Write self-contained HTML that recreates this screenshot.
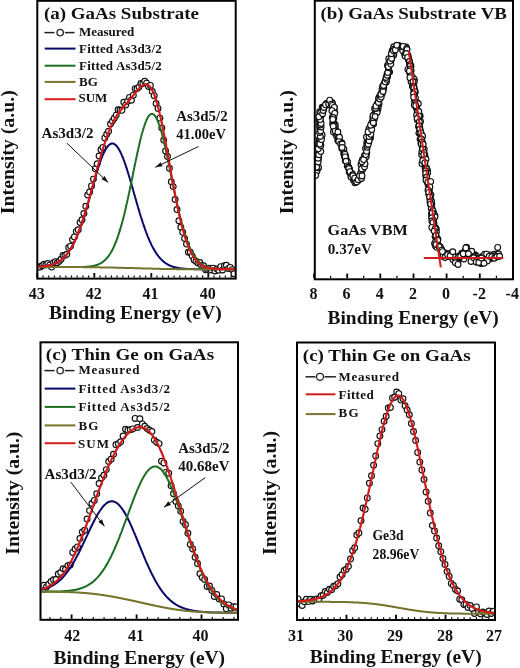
<!DOCTYPE html>
<html><head><meta charset="utf-8"><title>XPS</title><style>html,body{margin:0;padding:0;background:#fff;}body{width:520px;height:668px;overflow:hidden;}svg{display:block;}</style></head><body>
<svg width="520" height="668" viewBox="0 0 520 668">
<rect width="520" height="668" fill="#fff"/>
<g font-family="'Liberation Serif', 'Times New Roman', serif" font-weight="bold" fill="#111">
<clipPath id="ca"><rect x="38" y="1" width="197" height="277"/></clipPath>
<g clip-path="url(#ca)">
<g fill="#fff" stroke="#111" stroke-width="1.15"><circle cx="38.3" cy="266.7" r="2.9"/><circle cx="40.2" cy="267.1" r="2.9"/><circle cx="42.1" cy="265.8" r="2.9"/><circle cx="44.0" cy="264.3" r="2.9"/><circle cx="45.9" cy="264.9" r="2.9"/><circle cx="47.8" cy="263.5" r="2.9"/><circle cx="49.7" cy="265.1" r="2.9"/><circle cx="51.6" cy="267.1" r="2.9"/><circle cx="53.5" cy="262.8" r="2.9"/><circle cx="55.4" cy="261.6" r="2.9"/><circle cx="57.3" cy="262.8" r="2.9"/><circle cx="59.2" cy="261.3" r="2.9"/><circle cx="61.1" cy="259.3" r="2.9"/><circle cx="63.0" cy="255.5" r="2.9"/><circle cx="64.9" cy="255.3" r="2.9"/><circle cx="66.8" cy="254.3" r="2.9"/><circle cx="68.7" cy="247.5" r="2.9"/><circle cx="70.6" cy="246.1" r="2.9"/><circle cx="72.5" cy="239.7" r="2.9"/><circle cx="74.4" cy="236.9" r="2.9"/><circle cx="76.3" cy="231.4" r="2.9"/><circle cx="78.2" cy="229.8" r="2.9"/><circle cx="80.1" cy="222.4" r="2.9"/><circle cx="82.0" cy="219.8" r="2.9"/><circle cx="83.9" cy="213.5" r="2.9"/><circle cx="85.8" cy="206.3" r="2.9"/><circle cx="87.7" cy="195.0" r="2.9"/><circle cx="89.6" cy="192.0" r="2.9"/><circle cx="91.5" cy="185.9" r="2.9"/><circle cx="93.4" cy="179.1" r="2.9"/><circle cx="95.3" cy="168.7" r="2.9"/><circle cx="97.2" cy="163.8" r="2.9"/><circle cx="99.1" cy="156.0" r="2.9"/><circle cx="101.0" cy="149.8" r="2.9"/><circle cx="102.9" cy="147.4" r="2.9"/><circle cx="104.8" cy="137.9" r="2.9"/><circle cx="106.7" cy="134.2" r="2.9"/><circle cx="108.6" cy="131.2" r="2.9"/><circle cx="110.5" cy="124.0" r="2.9"/><circle cx="112.4" cy="121.1" r="2.9"/><circle cx="114.3" cy="118.2" r="2.9"/><circle cx="116.2" cy="115.1" r="2.9"/><circle cx="118.1" cy="109.8" r="2.9"/><circle cx="120.0" cy="110.0" r="2.9"/><circle cx="121.9" cy="110.3" r="2.9"/><circle cx="123.8" cy="102.3" r="2.9"/><circle cx="125.7" cy="104.9" r="2.9"/><circle cx="127.6" cy="101.2" r="2.9"/><circle cx="129.5" cy="97.4" r="2.9"/><circle cx="131.4" cy="100.2" r="2.9"/><circle cx="133.3" cy="95.2" r="2.9"/><circle cx="135.2" cy="88.7" r="2.9"/><circle cx="137.1" cy="88.6" r="2.9"/><circle cx="139.0" cy="87.1" r="2.9"/><circle cx="140.9" cy="83.4" r="2.9"/><circle cx="142.8" cy="83.5" r="2.9"/><circle cx="144.7" cy="81.3" r="2.9"/><circle cx="146.6" cy="83.2" r="2.9"/><circle cx="148.5" cy="86.5" r="2.9"/><circle cx="150.4" cy="85.4" r="2.9"/><circle cx="152.3" cy="91.5" r="2.9"/><circle cx="154.2" cy="95.7" r="2.9"/><circle cx="156.1" cy="103.5" r="2.9"/><circle cx="158.0" cy="108.4" r="2.9"/><circle cx="159.9" cy="118.1" r="2.9"/><circle cx="161.8" cy="128.0" r="2.9"/><circle cx="163.7" cy="140.1" r="2.9"/><circle cx="165.6" cy="150.9" r="2.9"/><circle cx="167.5" cy="156.5" r="2.9"/><circle cx="169.4" cy="168.2" r="2.9"/><circle cx="171.3" cy="181.7" r="2.9"/><circle cx="173.2" cy="186.6" r="2.9"/><circle cx="175.1" cy="199.5" r="2.9"/><circle cx="177.0" cy="209.5" r="2.9"/><circle cx="178.9" cy="220.7" r="2.9"/><circle cx="180.8" cy="227.3" r="2.9"/><circle cx="182.7" cy="232.3" r="2.9"/><circle cx="184.6" cy="238.4" r="2.9"/><circle cx="186.5" cy="244.1" r="2.9"/><circle cx="188.4" cy="252.3" r="2.9"/><circle cx="190.3" cy="252.3" r="2.9"/><circle cx="192.2" cy="255.9" r="2.9"/><circle cx="194.1" cy="259.9" r="2.9"/><circle cx="196.0" cy="261.2" r="2.9"/><circle cx="197.9" cy="262.9" r="2.9"/><circle cx="199.8" cy="262.5" r="2.9"/><circle cx="201.7" cy="265.8" r="2.9"/><circle cx="203.6" cy="265.8" r="2.9"/><circle cx="205.5" cy="269.7" r="2.9"/><circle cx="207.4" cy="269.2" r="2.9"/><circle cx="209.3" cy="268.2" r="2.9"/><circle cx="211.2" cy="269.9" r="2.9"/><circle cx="213.1" cy="268.1" r="2.9"/><circle cx="215.0" cy="271.0" r="2.9"/><circle cx="216.9" cy="269.0" r="2.9"/><circle cx="218.8" cy="270.3" r="2.9"/><circle cx="220.7" cy="266.6" r="2.9"/><circle cx="222.6" cy="269.9" r="2.9"/><circle cx="224.5" cy="265.8" r="2.9"/><circle cx="226.4" cy="265.2" r="2.9"/><circle cx="228.3" cy="268.6" r="2.9"/><circle cx="230.2" cy="267.4" r="2.9"/><circle cx="232.1" cy="269.6" r="2.9"/><circle cx="234.0" cy="273.7" r="2.9"/></g>
<path d="M37.3,266.8 L37.5,266.8 L37.8,266.7 L38.0,266.7 L38.3,266.7 L38.5,266.7 L38.8,266.7 L39.0,266.7 L39.3,266.7 L39.5,266.6 L39.8,266.6 L40.0,266.6 L40.3,266.6 L40.5,266.6 L40.8,266.6 L41.0,266.5 L41.3,266.5 L41.5,266.5 L41.8,266.5 L42.0,266.5 L42.3,266.4 L42.5,266.4 L42.8,266.4 L43.0,266.4 L43.3,266.3 L43.5,266.3 L43.8,266.3 L44.0,266.3 L44.3,266.2 L44.5,266.2 L44.7,266.2 L45.0,266.1 L45.2,266.1 L45.5,266.1 L45.7,266.0 L46.0,266.0 L46.2,266.0 L46.5,265.9 L46.7,265.9 L47.0,265.8 L47.2,265.8 L47.5,265.7 L47.7,265.7 L48.0,265.7 L48.2,265.6 L48.5,265.6 L48.7,265.5 L49.0,265.4 L49.2,265.4 L49.5,265.3 L49.7,265.3 L50.0,265.2 L50.2,265.2 L50.5,265.1 L50.7,265.0 L51.0,265.0 L51.2,264.9 L51.5,264.8 L51.7,264.8 L52.0,264.7 L52.2,264.6 L52.4,264.5 L52.7,264.4 L52.9,264.4 L53.2,264.3 L53.4,264.2 L53.7,264.1 L53.9,264.0 L54.2,263.9 L54.4,263.8 L54.7,263.7 L54.9,263.6 L55.2,263.5 L55.4,263.4 L55.7,263.3 L55.9,263.2 L56.2,263.1 L56.4,262.9 L56.7,262.8 L56.9,262.7 L57.2,262.6 L57.4,262.4 L57.7,262.3 L57.9,262.1 L58.2,262.0 L58.4,261.9 L58.7,261.7 L58.9,261.5 L59.2,261.4 L59.4,261.2 L59.6,261.1 L59.9,260.9 L60.1,260.7 L60.4,260.5 L60.6,260.4 L60.9,260.2 L61.1,260.0 L61.4,259.8 L61.6,259.6 L61.9,259.4 L62.1,259.2 L62.4,259.0 L62.6,258.8 L62.9,258.5 L63.1,258.3 L63.4,258.1 L63.6,257.8 L63.9,257.6 L64.1,257.4 L64.4,257.1 L64.6,256.9 L64.9,256.6 L65.1,256.3 L65.4,256.1 L65.6,255.8 L65.9,255.5 L66.1,255.2 L66.4,254.9 L66.6,254.6 L66.8,254.3 L67.1,254.0 L67.3,253.7 L67.6,253.3 L67.8,253.0 L68.1,252.7 L68.3,252.3 L68.6,252.0 L68.8,251.6 L69.1,251.3 L69.3,250.9 L69.6,250.5 L69.8,250.1 L70.1,249.8 L70.3,249.4 L70.6,249.0 L70.8,248.6 L71.1,248.1 L71.3,247.7 L71.6,247.3 L71.8,246.9 L72.1,246.4 L72.3,246.0 L72.6,245.5 L72.8,245.0 L73.1,244.6 L73.3,244.1 L73.6,243.6 L73.8,243.1 L74.0,242.6 L74.3,242.1 L74.5,241.6 L74.8,241.1 L75.0,240.5 L75.3,240.0 L75.5,239.5 L75.8,238.9 L76.0,238.4 L76.3,237.8 L76.5,237.2 L76.8,236.6 L77.0,236.0 L77.3,235.5 L77.5,234.8 L77.8,234.2 L78.0,233.6 L78.3,233.0 L78.5,232.4 L78.8,231.7 L79.0,231.1 L79.3,230.4 L79.5,229.8 L79.8,229.1 L80.0,228.4 L80.3,227.7 L80.5,227.1 L80.8,226.4 L81.0,225.7 L81.3,224.9 L81.5,224.2 L81.7,223.5 L82.0,222.8 L82.2,222.0 L82.5,221.3 L82.7,220.5 L83.0,219.8 L83.2,219.0 L83.5,218.3 L83.7,217.5 L84.0,216.7 L84.2,215.9 L84.5,215.1 L84.7,214.3 L85.0,213.5 L85.2,212.7 L85.5,211.9 L85.7,211.1 L86.0,210.3 L86.2,209.5 L86.5,208.6 L86.7,207.8 L87.0,207.0 L87.2,206.1 L87.5,205.3 L87.7,204.4 L88.0,203.6 L88.2,202.7 L88.5,201.8 L88.7,201.0 L88.9,200.1 L89.2,199.2 L89.4,198.4 L89.7,197.5 L89.9,196.6 L90.2,195.7 L90.4,194.9 L90.7,194.0 L90.9,193.1 L91.2,192.2 L91.4,191.3 L91.7,190.5 L91.9,189.6 L92.2,188.7 L92.4,187.8 L92.7,186.9 L92.9,186.0 L93.2,185.1 L93.4,184.3 L93.7,183.4 L93.9,182.5 L94.2,181.6 L94.4,180.7 L94.7,179.9 L94.9,179.0 L95.2,178.1 L95.4,177.3 L95.7,176.4 L95.9,175.5 L96.1,174.7 L96.4,173.8 L96.6,173.0 L96.9,172.1 L97.1,171.3 L97.4,170.5 L97.6,169.7 L97.9,168.9 L98.1,168.0 L98.4,167.3 L98.6,166.5 L98.9,165.7 L99.1,164.9 L99.4,164.2 L99.6,163.4 L99.9,162.7 L100.1,162.0 L100.4,161.3 L100.6,160.6 L100.9,159.9 L101.1,159.2 L101.4,158.5 L101.6,157.9 L101.9,157.3 L102.1,156.6 L102.4,156.0 L102.6,155.4 L102.9,154.9 L103.1,154.3 L103.4,153.8 L103.6,153.2 L103.8,152.7 L104.1,152.2 L104.3,151.7 L104.6,151.2 L104.8,150.7 L105.1,150.3 L105.3,149.8 L105.6,149.4 L105.8,149.0 L106.1,148.6 L106.3,148.2 L106.6,147.8 L106.8,147.5 L107.1,147.1 L107.3,146.8 L107.6,146.5 L107.8,146.2 L108.1,145.9 L108.3,145.6 L108.6,145.4 L108.8,145.2 L109.1,144.9 L109.3,144.7 L109.6,144.5 L109.8,144.4 L110.1,144.2 L110.3,144.1 L110.6,144.0 L110.8,143.8 L111.0,143.8 L111.3,143.7 L111.5,143.6 L111.8,143.6 L112.0,143.6 L112.3,143.5 L112.5,143.6 L112.8,143.6 L113.0,143.6 L113.3,143.7 L113.5,143.7 L113.8,143.8 L114.0,143.9 L114.3,144.1 L114.5,144.2 L114.8,144.4 L115.0,144.5 L115.3,144.7 L115.5,144.9 L115.8,145.1 L116.0,145.4 L116.3,145.6 L116.5,145.9 L116.8,146.2 L117.0,146.5 L117.3,146.8 L117.5,147.1 L117.8,147.5 L118.0,147.8 L118.2,148.2 L118.5,148.6 L118.7,149.0 L119.0,149.4 L119.2,149.8 L119.5,150.3 L119.7,150.7 L120.0,151.2 L120.2,151.7 L120.5,152.2 L120.7,152.7 L121.0,153.2 L121.2,153.8 L121.5,154.3 L121.7,154.9 L122.0,155.5 L122.2,156.1 L122.5,156.7 L122.7,157.3 L123.0,157.9 L123.2,158.5 L123.5,159.2 L123.7,159.8 L124.0,160.5 L124.2,161.2 L124.5,161.9 L124.7,162.6 L125.0,163.3 L125.2,164.0 L125.5,164.7 L125.7,165.4 L125.9,166.2 L126.2,166.9 L126.4,167.7 L126.7,168.5 L126.9,169.2 L127.2,170.0 L127.4,170.8 L127.7,171.6 L127.9,172.4 L128.2,173.2 L128.4,174.0 L128.7,174.8 L128.9,175.6 L129.2,176.5 L129.4,177.3 L129.7,178.1 L129.9,179.0 L130.2,179.8 L130.4,180.7 L130.7,181.5 L130.9,182.4 L131.2,183.2 L131.4,184.1 L131.7,185.0 L131.9,185.8 L132.2,186.7 L132.4,187.6 L132.7,188.4 L132.9,189.3 L133.1,190.2 L133.4,191.1 L133.6,191.9 L133.9,192.8 L134.1,193.7 L134.4,194.6 L134.6,195.4 L134.9,196.3 L135.1,197.2 L135.4,198.1 L135.6,198.9 L135.9,199.8 L136.1,200.7 L136.4,201.5 L136.6,202.4 L136.9,203.3 L137.1,204.1 L137.4,205.0 L137.6,205.8 L137.9,206.7 L138.1,207.5 L138.4,208.4 L138.6,209.2 L138.9,210.0 L139.1,210.9 L139.4,211.7 L139.6,212.5 L139.9,213.3 L140.1,214.1 L140.3,215.0 L140.6,215.8 L140.8,216.6 L141.1,217.3 L141.3,218.1 L141.6,218.9 L141.8,219.7 L142.1,220.5 L142.3,221.2 L142.6,222.0 L142.8,222.8 L143.1,223.5 L143.3,224.2 L143.6,225.0 L143.8,225.7 L144.1,226.4 L144.3,227.2 L144.6,227.9 L144.8,228.6 L145.1,229.3 L145.3,230.0 L145.6,230.6 L145.8,231.3 L146.1,232.0 L146.3,232.6 L146.6,233.3 L146.8,233.9 L147.1,234.6 L147.3,235.2 L147.5,235.8 L147.8,236.5 L148.0,237.1 L148.3,237.7 L148.5,238.3 L148.8,238.9 L149.0,239.5 L149.3,240.0 L149.5,240.6 L149.8,241.2 L150.0,241.7 L150.3,242.3 L150.5,242.8 L150.8,243.3 L151.0,243.9 L151.3,244.4 L151.5,244.9 L151.8,245.4 L152.0,245.9 L152.3,246.4 L152.5,246.8 L152.8,247.3 L153.0,247.8 L153.3,248.2 L153.5,248.7 L153.8,249.1 L154.0,249.6 L154.3,250.0 L154.5,250.4 L154.8,250.8 L155.0,251.2 L155.2,251.7 L155.5,252.0 L155.7,252.4 L156.0,252.8 L156.2,253.2 L156.5,253.6 L156.7,253.9 L157.0,254.3 L157.2,254.6 L157.5,255.0 L157.7,255.3 L158.0,255.6 L158.2,256.0 L158.5,256.3 L158.7,256.6 L159.0,256.9 L159.2,257.2 L159.5,257.5 L159.7,257.8 L160.0,258.1 L160.2,258.4 L160.5,258.6 L160.7,258.9 L161.0,259.2 L161.2,259.4 L161.5,259.7 L161.7,259.9 L162.0,260.2 L162.2,260.4 L162.4,260.6 L162.7,260.8 L162.9,261.1 L163.2,261.3 L163.4,261.5 L163.7,261.7 L163.9,261.9 L164.2,262.1 L164.4,262.3 L164.7,262.5 L164.9,262.7 L165.2,262.8 L165.4,263.0 L165.7,263.2 L165.9,263.4 L166.2,263.5 L166.4,263.7 L166.7,263.8 L166.9,264.0 L167.2,264.1 L167.4,264.3 L167.7,264.4 L167.9,264.6 L168.2,264.7 L168.4,264.8 L168.7,265.0 L168.9,265.1 L169.2,265.2 L169.4,265.3 L169.6,265.5 L169.9,265.6 L170.1,265.7 L170.4,265.8 L170.6,265.9 L170.9,266.0 L171.1,266.1 L171.4,266.2 L171.6,266.3 L171.9,266.4 L172.1,266.5 L172.4,266.5 L172.6,266.6 L172.9,266.7 L173.1,266.8 L173.4,266.9 L173.6,266.9 L173.9,267.0 L174.1,267.1 L174.4,267.2 L174.6,267.2 L174.9,267.3 L175.1,267.4 L175.4,267.4 L175.6,267.5 L175.9,267.5 L176.1,267.6 L176.4,267.6 L176.6,267.7 L176.9,267.8 L177.1,267.8 L177.3,267.9 L177.6,267.9 L177.8,267.9 L178.1,268.0 L178.3,268.0 L178.6,268.1 L178.8,268.1 L179.1,268.2 L179.3,268.2 L179.6,268.2 L179.8,268.3 L180.1,268.3 L180.3,268.3 L180.6,268.4 L180.8,268.4 L181.1,268.4 L181.3,268.5 L181.6,268.5 L181.8,268.5 L182.1,268.5 L182.3,268.6 L182.6,268.6 L182.8,268.6 L183.1,268.6 L183.3,268.7 L183.6,268.7 L183.8,268.7 L184.1,268.7 L184.3,268.7 L184.5,268.8 L184.8,268.8 L185.0,268.8 L185.3,268.8 L185.5,268.8 L185.8,268.8 L186.0,268.9 L186.3,268.9 L186.5,268.9 L186.8,268.9 L187.0,268.9 L187.3,268.9 L187.5,268.9 L187.8,269.0 L188.0,269.0 L188.3,269.0 L188.5,269.0 L188.8,269.0 L189.0,269.0 L189.3,269.0 L189.5,269.0 L189.8,269.0 L190.0,269.0 L190.3,269.1 L190.5,269.1 L190.8,269.1 L191.0,269.1 L191.3,269.1 L191.5,269.1 L191.7,269.1 L192.0,269.1 L192.2,269.1 L192.5,269.1 L192.7,269.1 L193.0,269.1 L193.2,269.1 L193.5,269.1 L193.7,269.1 L194.0,269.1 L194.2,269.2 L194.5,269.2 L194.7,269.2 L195.0,269.2 L195.2,269.2 L195.5,269.2 L195.7,269.2 L196.0,269.2 L196.2,269.2 L196.5,269.2 L196.7,269.2 L197.0,269.2 L197.2,269.2 L197.5,269.2 L197.7,269.2 L198.0,269.2 L198.2,269.2 L198.5,269.2 L198.7,269.2 L199.0,269.2 L199.2,269.2 L199.4,269.2 L199.7,269.2 L199.9,269.2 L200.2,269.2 L200.4,269.2 L200.7,269.2 L200.9,269.2 L201.2,269.2 L201.4,269.2 L201.7,269.2 L201.9,269.2 L202.2,269.2 L202.4,269.2 L202.7,269.2 L202.9,269.2 L203.2,269.2 L203.4,269.2 L203.7,269.2 L203.9,269.2 L204.2,269.2 L204.4,269.2 L204.7,269.2 L204.9,269.2 L205.2,269.2 L205.4,269.2 L205.7,269.2 L205.9,269.2 L206.2,269.2 L206.4,269.2 L206.6,269.2 L206.9,269.2 L207.1,269.2 L207.4,269.2 L207.6,269.2 L207.9,269.2 L208.1,269.2 L208.4,269.2 L208.6,269.2 L208.9,269.3 L209.1,269.3 L209.4,269.3 L209.6,269.3 L209.9,269.3 L210.1,269.3 L210.4,269.3 L210.6,269.3 L210.9,269.3 L211.1,269.3 L211.4,269.3 L211.6,269.3 L211.9,269.3 L212.1,269.3 L212.4,269.3 L212.6,269.3 L212.9,269.3 L213.1,269.3 L213.4,269.3 L213.6,269.3 L213.8,269.3 L214.1,269.3 L214.3,269.3 L214.6,269.3 L214.8,269.3 L215.1,269.3 L215.3,269.3 L215.6,269.3 L215.8,269.3 L216.1,269.3 L216.3,269.3 L216.6,269.3 L216.8,269.3 L217.1,269.3 L217.3,269.3 L217.6,269.3 L217.8,269.3 L218.1,269.3 L218.3,269.3 L218.6,269.3 L218.8,269.3 L219.1,269.3 L219.3,269.3 L219.6,269.3 L219.8,269.3 L220.1,269.3 L220.3,269.3 L220.6,269.3 L220.8,269.3 L221.0,269.3 L221.3,269.3 L221.5,269.3 L221.8,269.3 L222.0,269.3 L222.3,269.3 L222.5,269.3 L222.8,269.3 L223.0,269.3 L223.3,269.3 L223.5,269.3 L223.8,269.3 L224.0,269.3 L224.3,269.3 L224.5,269.3 L224.8,269.3 L225.0,269.3 L225.3,269.3 L225.5,269.3 L225.8,269.3 L226.0,269.3 L226.3,269.3 L226.5,269.3 L226.8,269.3 L227.0,269.3 L227.3,269.3 L227.5,269.3 L227.8,269.3 L228.0,269.3 L228.3,269.3 L228.5,269.3 L228.7,269.3 L229.0,269.3 L229.2,269.3 L229.5,269.3 L229.7,269.3 L230.0,269.3 L230.2,269.3 L230.5,269.3 L230.7,269.3 L231.0,269.3 L231.2,269.3 L231.5,269.3 L231.7,269.3 L232.0,269.3 L232.2,269.3 L232.5,269.3 L232.7,269.3 L233.0,269.3 L233.2,269.3 L233.5,269.3 L233.7,269.3 L234.0,269.3 L234.2,269.3 L234.5,269.3 L234.7,269.3 L235.0,269.3 L235.2,269.3 L235.5,269.3 L235.7,269.3" stroke="#08086a" stroke-width="2" fill="none"/>
<path d="M37.3,267.1 L37.5,267.1 L37.8,267.1 L38.0,267.1 L38.3,267.1 L38.5,267.1 L38.8,267.1 L39.0,267.1 L39.3,267.1 L39.5,267.1 L39.8,267.1 L40.0,267.1 L40.3,267.1 L40.5,267.1 L40.8,267.1 L41.0,267.1 L41.3,267.1 L41.5,267.1 L41.8,267.1 L42.0,267.1 L42.3,267.1 L42.5,267.1 L42.8,267.1 L43.0,267.1 L43.3,267.1 L43.5,267.1 L43.8,267.1 L44.0,267.1 L44.3,267.1 L44.5,267.1 L44.7,267.1 L45.0,267.1 L45.2,267.1 L45.5,267.1 L45.7,267.1 L46.0,267.1 L46.2,267.1 L46.5,267.1 L46.7,267.1 L47.0,267.1 L47.2,267.1 L47.5,267.1 L47.7,267.1 L48.0,267.1 L48.2,267.1 L48.5,267.1 L48.7,267.1 L49.0,267.1 L49.2,267.1 L49.5,267.1 L49.7,267.1 L50.0,267.1 L50.2,267.1 L50.5,267.1 L50.7,267.1 L51.0,267.1 L51.2,267.1 L51.5,267.1 L51.7,267.1 L52.0,267.1 L52.2,267.1 L52.4,267.1 L52.7,267.1 L52.9,267.1 L53.2,267.1 L53.4,267.1 L53.7,267.1 L53.9,267.1 L54.2,267.1 L54.4,267.1 L54.7,267.1 L54.9,267.1 L55.2,267.1 L55.4,267.1 L55.7,267.1 L55.9,267.1 L56.2,267.1 L56.4,267.1 L56.7,267.1 L56.9,267.1 L57.2,267.1 L57.4,267.1 L57.7,267.1 L57.9,267.1 L58.2,267.1 L58.4,267.1 L58.7,267.1 L58.9,267.1 L59.2,267.1 L59.4,267.1 L59.6,267.1 L59.9,267.1 L60.1,267.1 L60.4,267.1 L60.6,267.1 L60.9,267.1 L61.1,267.1 L61.4,267.1 L61.6,267.1 L61.9,267.1 L62.1,267.1 L62.4,267.1 L62.6,267.1 L62.9,267.1 L63.1,267.1 L63.4,267.1 L63.6,267.1 L63.9,267.1 L64.1,267.1 L64.4,267.1 L64.6,267.1 L64.9,267.1 L65.1,267.1 L65.4,267.1 L65.6,267.1 L65.9,267.1 L66.1,267.1 L66.4,267.1 L66.6,267.1 L66.8,267.1 L67.1,267.1 L67.3,267.1 L67.6,267.1 L67.8,267.1 L68.1,267.1 L68.3,267.1 L68.6,267.1 L68.8,267.1 L69.1,267.1 L69.3,267.1 L69.6,267.1 L69.8,267.1 L70.1,267.1 L70.3,267.1 L70.6,267.1 L70.8,267.1 L71.1,267.1 L71.3,267.1 L71.6,267.1 L71.8,267.1 L72.1,267.1 L72.3,267.1 L72.6,267.1 L72.8,267.1 L73.1,267.1 L73.3,267.1 L73.6,267.1 L73.8,267.1 L74.0,267.1 L74.3,267.1 L74.5,267.1 L74.8,267.1 L75.0,267.1 L75.3,267.1 L75.5,267.1 L75.8,267.1 L76.0,267.1 L76.3,267.0 L76.5,267.0 L76.8,267.0 L77.0,267.0 L77.3,267.0 L77.5,267.0 L77.8,267.0 L78.0,267.0 L78.3,267.0 L78.5,267.0 L78.8,267.0 L79.0,267.0 L79.3,267.0 L79.5,267.0 L79.8,267.0 L80.0,267.0 L80.3,267.0 L80.5,267.0 L80.8,267.0 L81.0,267.0 L81.3,267.0 L81.5,267.0 L81.7,267.0 L82.0,267.0 L82.2,267.0 L82.5,266.9 L82.7,266.9 L83.0,266.9 L83.2,266.9 L83.5,266.9 L83.7,266.9 L84.0,266.9 L84.2,266.9 L84.5,266.9 L84.7,266.9 L85.0,266.8 L85.2,266.8 L85.5,266.8 L85.7,266.8 L86.0,266.8 L86.2,266.8 L86.5,266.8 L86.7,266.7 L87.0,266.7 L87.2,266.7 L87.5,266.7 L87.7,266.7 L88.0,266.6 L88.2,266.6 L88.5,266.6 L88.7,266.6 L88.9,266.5 L89.2,266.5 L89.4,266.5 L89.7,266.5 L89.9,266.4 L90.2,266.4 L90.4,266.4 L90.7,266.3 L90.9,266.3 L91.2,266.3 L91.4,266.2 L91.7,266.2 L91.9,266.2 L92.2,266.1 L92.4,266.1 L92.7,266.0 L92.9,266.0 L93.2,265.9 L93.4,265.9 L93.7,265.8 L93.9,265.8 L94.2,265.7 L94.4,265.7 L94.7,265.6 L94.9,265.5 L95.2,265.5 L95.4,265.4 L95.7,265.3 L95.9,265.3 L96.1,265.2 L96.4,265.1 L96.6,265.0 L96.9,264.9 L97.1,264.8 L97.4,264.8 L97.6,264.7 L97.9,264.6 L98.1,264.5 L98.4,264.4 L98.6,264.3 L98.9,264.2 L99.1,264.0 L99.4,263.9 L99.6,263.8 L99.9,263.7 L100.1,263.5 L100.4,263.4 L100.6,263.3 L100.9,263.1 L101.1,263.0 L101.4,262.8 L101.6,262.7 L101.9,262.5 L102.1,262.4 L102.4,262.2 L102.6,262.0 L102.9,261.8 L103.1,261.7 L103.4,261.5 L103.6,261.3 L103.8,261.1 L104.1,260.9 L104.3,260.6 L104.6,260.4 L104.8,260.2 L105.1,260.0 L105.3,259.7 L105.6,259.5 L105.8,259.2 L106.1,259.0 L106.3,258.7 L106.6,258.4 L106.8,258.2 L107.1,257.9 L107.3,257.6 L107.6,257.3 L107.8,257.0 L108.1,256.7 L108.3,256.3 L108.6,256.0 L108.8,255.7 L109.1,255.3 L109.3,254.9 L109.6,254.6 L109.8,254.2 L110.1,253.8 L110.3,253.4 L110.6,253.0 L110.8,252.6 L111.0,252.2 L111.3,251.8 L111.5,251.3 L111.8,250.9 L112.0,250.4 L112.3,250.0 L112.5,249.5 L112.8,249.0 L113.0,248.5 L113.3,248.0 L113.5,247.5 L113.8,246.9 L114.0,246.4 L114.3,245.8 L114.5,245.3 L114.8,244.7 L115.0,244.1 L115.3,243.5 L115.5,242.9 L115.8,242.3 L116.0,241.7 L116.3,241.0 L116.5,240.4 L116.8,239.7 L117.0,239.0 L117.3,238.4 L117.5,237.7 L117.8,237.0 L118.0,236.2 L118.2,235.5 L118.5,234.8 L118.7,234.0 L119.0,233.2 L119.2,232.5 L119.5,231.7 L119.7,230.9 L120.0,230.1 L120.2,229.2 L120.5,228.4 L120.7,227.5 L121.0,226.7 L121.2,225.8 L121.5,224.9 L121.7,224.0 L122.0,223.1 L122.2,222.2 L122.5,221.3 L122.7,220.3 L123.0,219.4 L123.2,218.4 L123.5,217.5 L123.7,216.5 L124.0,215.5 L124.2,214.5 L124.5,213.5 L124.7,212.4 L125.0,211.4 L125.2,210.4 L125.5,209.3 L125.7,208.3 L125.9,207.2 L126.2,206.1 L126.4,205.0 L126.7,203.9 L126.9,202.8 L127.2,201.7 L127.4,200.6 L127.7,199.4 L127.9,198.3 L128.2,197.2 L128.4,196.0 L128.7,194.9 L128.9,193.7 L129.2,192.5 L129.4,191.4 L129.7,190.2 L129.9,189.0 L130.2,187.8 L130.4,186.6 L130.7,185.4 L130.9,184.2 L131.2,183.0 L131.4,181.8 L131.7,180.6 L131.9,179.4 L132.2,178.2 L132.4,177.0 L132.7,175.7 L132.9,174.5 L133.1,173.3 L133.4,172.1 L133.6,170.9 L133.9,169.7 L134.1,168.5 L134.4,167.2 L134.6,166.0 L134.9,164.8 L135.1,163.6 L135.4,162.4 L135.6,161.2 L135.9,160.1 L136.1,158.9 L136.4,157.7 L136.6,156.5 L136.9,155.4 L137.1,154.2 L137.4,153.1 L137.6,151.9 L137.9,150.8 L138.1,149.7 L138.4,148.5 L138.6,147.4 L138.9,146.3 L139.1,145.3 L139.4,144.2 L139.6,143.1 L139.9,142.1 L140.1,141.0 L140.3,140.0 L140.6,139.0 L140.8,138.0 L141.1,137.0 L141.3,136.1 L141.6,135.1 L141.8,134.2 L142.1,133.3 L142.3,132.4 L142.6,131.5 L142.8,130.6 L143.1,129.8 L143.3,128.9 L143.6,128.1 L143.8,127.3 L144.1,126.6 L144.3,125.8 L144.6,125.1 L144.8,124.4 L145.1,123.7 L145.3,123.0 L145.6,122.4 L145.8,121.7 L146.1,121.1 L146.3,120.6 L146.6,120.0 L146.8,119.5 L147.1,119.0 L147.3,118.5 L147.5,118.0 L147.8,117.6 L148.0,117.1 L148.3,116.8 L148.5,116.4 L148.8,116.0 L149.0,115.7 L149.3,115.4 L149.5,115.2 L149.8,114.9 L150.0,114.7 L150.3,114.5 L150.5,114.4 L150.8,114.2 L151.0,114.1 L151.3,114.0 L151.5,114.0 L151.8,114.0 L152.0,113.9 L152.3,114.0 L152.5,114.0 L152.8,114.1 L153.0,114.2 L153.3,114.3 L153.5,114.5 L153.8,114.6 L154.0,114.8 L154.3,115.1 L154.5,115.3 L154.8,115.6 L155.0,115.9 L155.2,116.2 L155.5,116.6 L155.7,117.0 L156.0,117.4 L156.2,117.8 L156.5,118.3 L156.7,118.8 L157.0,119.3 L157.2,119.8 L157.5,120.3 L157.7,120.9 L158.0,121.5 L158.2,122.1 L158.5,122.8 L158.7,123.4 L159.0,124.1 L159.2,124.8 L159.5,125.5 L159.7,126.3 L160.0,127.1 L160.2,127.8 L160.5,128.6 L160.7,129.5 L161.0,130.3 L161.2,131.2 L161.5,132.1 L161.7,133.0 L162.0,133.9 L162.2,134.8 L162.4,135.7 L162.7,136.7 L162.9,137.7 L163.2,138.7 L163.4,139.7 L163.7,140.7 L163.9,141.7 L164.2,142.8 L164.4,143.9 L164.7,144.9 L164.9,146.0 L165.2,147.1 L165.4,148.2 L165.7,149.3 L165.9,150.5 L166.2,151.6 L166.4,152.7 L166.7,153.9 L166.9,155.1 L167.2,156.2 L167.4,157.4 L167.7,158.6 L167.9,159.8 L168.2,161.0 L168.4,162.2 L168.7,163.4 L168.9,164.6 L169.2,165.8 L169.4,167.0 L169.6,168.2 L169.9,169.4 L170.1,170.7 L170.4,171.9 L170.6,173.1 L170.9,174.3 L171.1,175.6 L171.4,176.8 L171.6,178.0 L171.9,179.2 L172.1,180.5 L172.4,181.7 L172.6,182.9 L172.9,184.1 L173.1,185.3 L173.4,186.5 L173.6,187.8 L173.9,189.0 L174.1,190.2 L174.4,191.3 L174.6,192.5 L174.9,193.7 L175.1,194.9 L175.4,196.1 L175.6,197.2 L175.9,198.4 L176.1,199.5 L176.4,200.7 L176.6,201.8 L176.9,203.0 L177.1,204.1 L177.3,205.2 L177.6,206.3 L177.8,207.4 L178.1,208.5 L178.3,209.6 L178.6,210.6 L178.8,211.7 L179.1,212.7 L179.3,213.8 L179.6,214.8 L179.8,215.8 L180.1,216.8 L180.3,217.8 L180.6,218.8 L180.8,219.8 L181.1,220.8 L181.3,221.7 L181.6,222.7 L181.8,223.6 L182.1,224.6 L182.3,225.5 L182.6,226.4 L182.8,227.3 L183.1,228.1 L183.3,229.0 L183.6,229.9 L183.8,230.7 L184.1,231.5 L184.3,232.4 L184.5,233.2 L184.8,234.0 L185.0,234.7 L185.3,235.5 L185.5,236.3 L185.8,237.0 L186.0,237.8 L186.3,238.5 L186.5,239.2 L186.8,239.9 L187.0,240.6 L187.3,241.3 L187.5,242.0 L187.8,242.6 L188.0,243.3 L188.3,243.9 L188.5,244.5 L188.8,245.1 L189.0,245.7 L189.3,246.3 L189.5,246.9 L189.8,247.5 L190.0,248.0 L190.3,248.6 L190.5,249.1 L190.8,249.6 L191.0,250.1 L191.3,250.6 L191.5,251.1 L191.7,251.6 L192.0,252.1 L192.2,252.6 L192.5,253.0 L192.7,253.5 L193.0,253.9 L193.2,254.3 L193.5,254.7 L193.7,255.1 L194.0,255.5 L194.2,255.9 L194.5,256.3 L194.7,256.7 L195.0,257.0 L195.2,257.4 L195.5,257.7 L195.7,258.1 L196.0,258.4 L196.2,258.7 L196.5,259.0 L196.7,259.4 L197.0,259.7 L197.2,259.9 L197.5,260.2 L197.7,260.5 L198.0,260.8 L198.2,261.0 L198.5,261.3 L198.7,261.5 L199.0,261.8 L199.2,262.0 L199.4,262.3 L199.7,262.5 L199.9,262.7 L200.2,262.9 L200.4,263.1 L200.7,263.3 L200.9,263.5 L201.2,263.7 L201.4,263.9 L201.7,264.1 L201.9,264.2 L202.2,264.4 L202.4,264.6 L202.7,264.7 L202.9,264.9 L203.2,265.0 L203.4,265.2 L203.7,265.3 L203.9,265.5 L204.2,265.6 L204.4,265.7 L204.7,265.8 L204.9,266.0 L205.2,266.1 L205.4,266.2 L205.7,266.3 L205.9,266.4 L206.2,266.5 L206.4,266.6 L206.6,266.7 L206.9,266.8 L207.1,266.9 L207.4,267.0 L207.6,267.1 L207.9,267.1 L208.1,267.2 L208.4,267.3 L208.6,267.4 L208.9,267.4 L209.1,267.5 L209.4,267.6 L209.6,267.6 L209.9,267.7 L210.1,267.8 L210.4,267.8 L210.6,267.9 L210.9,267.9 L211.1,268.0 L211.4,268.0 L211.6,268.1 L211.9,268.1 L212.1,268.2 L212.4,268.2 L212.6,268.3 L212.9,268.3 L213.1,268.3 L213.4,268.4 L213.6,268.4 L213.8,268.5 L214.1,268.5 L214.3,268.5 L214.6,268.5 L214.8,268.6 L215.1,268.6 L215.3,268.6 L215.6,268.7 L215.8,268.7 L216.1,268.7 L216.3,268.7 L216.6,268.8 L216.8,268.8 L217.1,268.8 L217.3,268.8 L217.6,268.8 L217.8,268.9 L218.1,268.9 L218.3,268.9 L218.6,268.9 L218.8,268.9 L219.1,268.9 L219.3,269.0 L219.6,269.0 L219.8,269.0 L220.1,269.0 L220.3,269.0 L220.6,269.0 L220.8,269.0 L221.0,269.0 L221.3,269.0 L221.5,269.1 L221.8,269.1 L222.0,269.1 L222.3,269.1 L222.5,269.1 L222.8,269.1 L223.0,269.1 L223.3,269.1 L223.5,269.1 L223.8,269.1 L224.0,269.1 L224.3,269.1 L224.5,269.1 L224.8,269.2 L225.0,269.2 L225.3,269.2 L225.5,269.2 L225.8,269.2 L226.0,269.2 L226.3,269.2 L226.5,269.2 L226.8,269.2 L227.0,269.2 L227.3,269.2 L227.5,269.2 L227.8,269.2 L228.0,269.2 L228.3,269.2 L228.5,269.2 L228.7,269.2 L229.0,269.2 L229.2,269.2 L229.5,269.2 L229.7,269.2 L230.0,269.2 L230.2,269.2 L230.5,269.2 L230.7,269.2 L231.0,269.2 L231.2,269.2 L231.5,269.2 L231.7,269.2 L232.0,269.2 L232.2,269.2 L232.5,269.2 L232.7,269.2 L233.0,269.2 L233.2,269.2 L233.5,269.2 L233.7,269.2 L234.0,269.2 L234.2,269.2 L234.5,269.2 L234.7,269.2 L235.0,269.2 L235.2,269.2 L235.5,269.2 L235.7,269.2" stroke="#1b6e22" stroke-width="2" fill="none"/>
<path d="M37.3,267.1 L37.5,267.1 L37.8,267.1 L38.0,267.1 L38.3,267.1 L38.5,267.1 L38.8,267.1 L39.0,267.1 L39.3,267.1 L39.5,267.1 L39.8,267.1 L40.0,267.1 L40.3,267.1 L40.5,267.1 L40.8,267.1 L41.0,267.1 L41.3,267.1 L41.5,267.1 L41.8,267.1 L42.0,267.1 L42.3,267.1 L42.5,267.1 L42.8,267.1 L43.0,267.1 L43.3,267.1 L43.5,267.1 L43.8,267.1 L44.0,267.1 L44.3,267.1 L44.5,267.1 L44.7,267.1 L45.0,267.1 L45.2,267.1 L45.5,267.1 L45.7,267.1 L46.0,267.1 L46.2,267.1 L46.5,267.1 L46.7,267.1 L47.0,267.1 L47.2,267.1 L47.5,267.1 L47.7,267.1 L48.0,267.1 L48.2,267.1 L48.5,267.1 L48.7,267.1 L49.0,267.1 L49.2,267.1 L49.5,267.1 L49.7,267.1 L50.0,267.1 L50.2,267.1 L50.5,267.1 L50.7,267.1 L51.0,267.1 L51.2,267.1 L51.5,267.1 L51.7,267.1 L52.0,267.1 L52.2,267.1 L52.4,267.1 L52.7,267.1 L52.9,267.1 L53.2,267.1 L53.4,267.1 L53.7,267.1 L53.9,267.1 L54.2,267.1 L54.4,267.1 L54.7,267.1 L54.9,267.1 L55.2,267.1 L55.4,267.1 L55.7,267.1 L55.9,267.1 L56.2,267.1 L56.4,267.1 L56.7,267.1 L56.9,267.1 L57.2,267.1 L57.4,267.1 L57.7,267.1 L57.9,267.1 L58.2,267.1 L58.4,267.1 L58.7,267.1 L58.9,267.1 L59.2,267.1 L59.4,267.1 L59.6,267.1 L59.9,267.1 L60.1,267.1 L60.4,267.1 L60.6,267.1 L60.9,267.1 L61.1,267.1 L61.4,267.1 L61.6,267.1 L61.9,267.1 L62.1,267.1 L62.4,267.1 L62.6,267.1 L62.9,267.1 L63.1,267.1 L63.4,267.1 L63.6,267.1 L63.9,267.1 L64.1,267.1 L64.4,267.1 L64.6,267.1 L64.9,267.1 L65.1,267.1 L65.4,267.1 L65.6,267.1 L65.9,267.1 L66.1,267.1 L66.4,267.1 L66.6,267.1 L66.8,267.1 L67.1,267.1 L67.3,267.1 L67.6,267.1 L67.8,267.1 L68.1,267.1 L68.3,267.1 L68.6,267.1 L68.8,267.1 L69.1,267.1 L69.3,267.1 L69.6,267.1 L69.8,267.1 L70.1,267.1 L70.3,267.1 L70.6,267.1 L70.8,267.1 L71.1,267.1 L71.3,267.1 L71.6,267.1 L71.8,267.1 L72.1,267.1 L72.3,267.1 L72.6,267.1 L72.8,267.1 L73.1,267.1 L73.3,267.1 L73.6,267.1 L73.8,267.1 L74.0,267.1 L74.3,267.1 L74.5,267.1 L74.8,267.1 L75.0,267.1 L75.3,267.1 L75.5,267.1 L75.8,267.1 L76.0,267.1 L76.3,267.1 L76.5,267.1 L76.8,267.1 L77.0,267.1 L77.3,267.1 L77.5,267.1 L77.8,267.1 L78.0,267.1 L78.3,267.1 L78.5,267.1 L78.8,267.1 L79.0,267.1 L79.3,267.1 L79.5,267.1 L79.8,267.1 L80.0,267.1 L80.3,267.1 L80.5,267.1 L80.8,267.1 L81.0,267.1 L81.3,267.1 L81.5,267.1 L81.7,267.1 L82.0,267.1 L82.2,267.1 L82.5,267.1 L82.7,267.1 L83.0,267.1 L83.2,267.1 L83.5,267.2 L83.7,267.2 L84.0,267.2 L84.2,267.2 L84.5,267.2 L84.7,267.2 L85.0,267.2 L85.2,267.2 L85.5,267.2 L85.7,267.2 L86.0,267.2 L86.2,267.2 L86.5,267.2 L86.7,267.2 L87.0,267.2 L87.2,267.2 L87.5,267.2 L87.7,267.2 L88.0,267.2 L88.2,267.2 L88.5,267.2 L88.7,267.2 L88.9,267.2 L89.2,267.2 L89.4,267.2 L89.7,267.2 L89.9,267.2 L90.2,267.2 L90.4,267.2 L90.7,267.2 L90.9,267.2 L91.2,267.2 L91.4,267.2 L91.7,267.2 L91.9,267.2 L92.2,267.2 L92.4,267.2 L92.7,267.2 L92.9,267.2 L93.2,267.2 L93.4,267.3 L93.7,267.3 L93.9,267.3 L94.2,267.3 L94.4,267.3 L94.7,267.3 L94.9,267.3 L95.2,267.3 L95.4,267.3 L95.7,267.3 L95.9,267.3 L96.1,267.3 L96.4,267.3 L96.6,267.3 L96.9,267.3 L97.1,267.3 L97.4,267.3 L97.6,267.3 L97.9,267.3 L98.1,267.3 L98.4,267.3 L98.6,267.3 L98.9,267.3 L99.1,267.3 L99.4,267.3 L99.6,267.3 L99.9,267.3 L100.1,267.4 L100.4,267.4 L100.6,267.4 L100.9,267.4 L101.1,267.4 L101.4,267.4 L101.6,267.4 L101.9,267.4 L102.1,267.4 L102.4,267.4 L102.6,267.4 L102.9,267.4 L103.1,267.4 L103.4,267.4 L103.6,267.4 L103.8,267.4 L104.1,267.4 L104.3,267.4 L104.6,267.4 L104.8,267.4 L105.1,267.4 L105.3,267.4 L105.6,267.5 L105.8,267.5 L106.1,267.5 L106.3,267.5 L106.6,267.5 L106.8,267.5 L107.1,267.5 L107.3,267.5 L107.6,267.5 L107.8,267.5 L108.1,267.5 L108.3,267.5 L108.6,267.5 L108.8,267.5 L109.1,267.5 L109.3,267.5 L109.6,267.5 L109.8,267.5 L110.1,267.5 L110.3,267.6 L110.6,267.6 L110.8,267.6 L111.0,267.6 L111.3,267.6 L111.5,267.6 L111.8,267.6 L112.0,267.6 L112.3,267.6 L112.5,267.6 L112.8,267.6 L113.0,267.6 L113.3,267.6 L113.5,267.6 L113.8,267.6 L114.0,267.6 L114.3,267.6 L114.5,267.6 L114.8,267.7 L115.0,267.7 L115.3,267.7 L115.5,267.7 L115.8,267.7 L116.0,267.7 L116.3,267.7 L116.5,267.7 L116.8,267.7 L117.0,267.7 L117.3,267.7 L117.5,267.7 L117.8,267.7 L118.0,267.7 L118.2,267.7 L118.5,267.7 L118.7,267.7 L119.0,267.8 L119.2,267.8 L119.5,267.8 L119.7,267.8 L120.0,267.8 L120.2,267.8 L120.5,267.8 L120.7,267.8 L121.0,267.8 L121.2,267.8 L121.5,267.8 L121.7,267.8 L122.0,267.8 L122.2,267.8 L122.5,267.8 L122.7,267.8 L123.0,267.9 L123.2,267.9 L123.5,267.9 L123.7,267.9 L124.0,267.9 L124.2,267.9 L124.5,267.9 L124.7,267.9 L125.0,267.9 L125.2,267.9 L125.5,267.9 L125.7,267.9 L125.9,267.9 L126.2,267.9 L126.4,267.9 L126.7,267.9 L126.9,268.0 L127.2,268.0 L127.4,268.0 L127.7,268.0 L127.9,268.0 L128.2,268.0 L128.4,268.0 L128.7,268.0 L128.9,268.0 L129.2,268.0 L129.4,268.0 L129.7,268.0 L129.9,268.0 L130.2,268.0 L130.4,268.0 L130.7,268.1 L130.9,268.1 L131.2,268.1 L131.4,268.1 L131.7,268.1 L131.9,268.1 L132.2,268.1 L132.4,268.1 L132.7,268.1 L132.9,268.1 L133.1,268.1 L133.4,268.1 L133.6,268.1 L133.9,268.1 L134.1,268.1 L134.4,268.2 L134.6,268.2 L134.9,268.2 L135.1,268.2 L135.4,268.2 L135.6,268.2 L135.9,268.2 L136.1,268.2 L136.4,268.2 L136.6,268.2 L136.9,268.2 L137.1,268.2 L137.4,268.2 L137.6,268.2 L137.9,268.2 L138.1,268.3 L138.4,268.3 L138.6,268.3 L138.9,268.3 L139.1,268.3 L139.4,268.3 L139.6,268.3 L139.9,268.3 L140.1,268.3 L140.3,268.3 L140.6,268.3 L140.8,268.3 L141.1,268.3 L141.3,268.3 L141.6,268.4 L141.8,268.4 L142.1,268.4 L142.3,268.4 L142.6,268.4 L142.8,268.4 L143.1,268.4 L143.3,268.4 L143.6,268.4 L143.8,268.4 L144.1,268.4 L144.3,268.4 L144.6,268.4 L144.8,268.4 L145.1,268.5 L145.3,268.5 L145.6,268.5 L145.8,268.5 L146.1,268.5 L146.3,268.5 L146.6,268.5 L146.8,268.5 L147.1,268.5 L147.3,268.5 L147.5,268.5 L147.8,268.5 L148.0,268.5 L148.3,268.5 L148.5,268.6 L148.8,268.6 L149.0,268.6 L149.3,268.6 L149.5,268.6 L149.8,268.6 L150.0,268.6 L150.3,268.6 L150.5,268.6 L150.8,268.6 L151.0,268.6 L151.3,268.6 L151.5,268.6 L151.8,268.6 L152.0,268.6 L152.3,268.7 L152.5,268.7 L152.8,268.7 L153.0,268.7 L153.3,268.7 L153.5,268.7 L153.8,268.7 L154.0,268.7 L154.3,268.7 L154.5,268.7 L154.8,268.7 L155.0,268.7 L155.2,268.7 L155.5,268.7 L155.7,268.8 L156.0,268.8 L156.2,268.8 L156.5,268.8 L156.7,268.8 L157.0,268.8 L157.2,268.8 L157.5,268.8 L157.7,268.8 L158.0,268.8 L158.2,268.8 L158.5,268.8 L158.7,268.8 L159.0,268.8 L159.2,268.8 L159.5,268.8 L159.7,268.9 L160.0,268.9 L160.2,268.9 L160.5,268.9 L160.7,268.9 L161.0,268.9 L161.2,268.9 L161.5,268.9 L161.7,268.9 L162.0,268.9 L162.2,268.9 L162.4,268.9 L162.7,268.9 L162.9,268.9 L163.2,268.9 L163.4,268.9 L163.7,268.9 L163.9,268.9 L164.2,269.0 L164.4,269.0 L164.7,269.0 L164.9,269.0 L165.2,269.0 L165.4,269.0 L165.7,269.0 L165.9,269.0 L166.2,269.0 L166.4,269.0 L166.7,269.0 L166.9,269.0 L167.2,269.0 L167.4,269.0 L167.7,269.0 L167.9,269.0 L168.2,269.0 L168.4,269.0 L168.7,269.0 L168.9,269.0 L169.2,269.0 L169.4,269.1 L169.6,269.1 L169.9,269.1 L170.1,269.1 L170.4,269.1 L170.6,269.1 L170.9,269.1 L171.1,269.1 L171.4,269.1 L171.6,269.1 L171.9,269.1 L172.1,269.1 L172.4,269.1 L172.6,269.1 L172.9,269.1 L173.1,269.1 L173.4,269.1 L173.6,269.1 L173.9,269.1 L174.1,269.1 L174.4,269.1 L174.6,269.1 L174.9,269.1 L175.1,269.1 L175.4,269.1 L175.6,269.1 L175.9,269.1 L176.1,269.1 L176.4,269.1 L176.6,269.2 L176.9,269.2 L177.1,269.2 L177.3,269.2 L177.6,269.2 L177.8,269.2 L178.1,269.2 L178.3,269.2 L178.6,269.2 L178.8,269.2 L179.1,269.2 L179.3,269.2 L179.6,269.2 L179.8,269.2 L180.1,269.2 L180.3,269.2 L180.6,269.2 L180.8,269.2 L181.1,269.2 L181.3,269.2 L181.6,269.2 L181.8,269.2 L182.1,269.2 L182.3,269.2 L182.6,269.2 L182.8,269.2 L183.1,269.2 L183.3,269.2 L183.6,269.2 L183.8,269.2 L184.1,269.2 L184.3,269.2 L184.5,269.2 L184.8,269.2 L185.0,269.2 L185.3,269.2 L185.5,269.2 L185.8,269.2 L186.0,269.2 L186.3,269.2 L186.5,269.2 L186.8,269.2 L187.0,269.2 L187.3,269.2 L187.5,269.2 L187.8,269.2 L188.0,269.2 L188.3,269.2 L188.5,269.2 L188.8,269.2 L189.0,269.2 L189.3,269.2 L189.5,269.2 L189.8,269.2 L190.0,269.2 L190.3,269.2 L190.5,269.2 L190.8,269.2 L191.0,269.2 L191.3,269.2 L191.5,269.2 L191.7,269.2 L192.0,269.2 L192.2,269.2 L192.5,269.2 L192.7,269.2 L193.0,269.2 L193.2,269.2 L193.5,269.2 L193.7,269.2 L194.0,269.2 L194.2,269.2 L194.5,269.2 L194.7,269.2 L195.0,269.2 L195.2,269.2 L195.5,269.2 L195.7,269.2 L196.0,269.2 L196.2,269.2 L196.5,269.2 L196.7,269.2 L197.0,269.2 L197.2,269.2 L197.5,269.2 L197.7,269.2 L198.0,269.2 L198.2,269.2 L198.5,269.3 L198.7,269.3 L199.0,269.3 L199.2,269.3 L199.4,269.3 L199.7,269.3 L199.9,269.3 L200.2,269.3 L200.4,269.3 L200.7,269.3 L200.9,269.3 L201.2,269.3 L201.4,269.3 L201.7,269.3 L201.9,269.3 L202.2,269.3 L202.4,269.3 L202.7,269.3 L202.9,269.3 L203.2,269.3 L203.4,269.3 L203.7,269.3 L203.9,269.3 L204.2,269.3 L204.4,269.3 L204.7,269.3 L204.9,269.3 L205.2,269.3 L205.4,269.3 L205.7,269.3 L205.9,269.3 L206.2,269.3 L206.4,269.3 L206.6,269.3 L206.9,269.3 L207.1,269.3 L207.4,269.3 L207.6,269.3 L207.9,269.3 L208.1,269.3 L208.4,269.3 L208.6,269.3 L208.9,269.3 L209.1,269.3 L209.4,269.3 L209.6,269.3 L209.9,269.3 L210.1,269.3 L210.4,269.3 L210.6,269.3 L210.9,269.3 L211.1,269.3 L211.4,269.3 L211.6,269.3 L211.9,269.3 L212.1,269.3 L212.4,269.3 L212.6,269.3 L212.9,269.3 L213.1,269.3 L213.4,269.3 L213.6,269.3 L213.8,269.3 L214.1,269.3 L214.3,269.3 L214.6,269.3 L214.8,269.3 L215.1,269.3 L215.3,269.3 L215.6,269.3 L215.8,269.3 L216.1,269.3 L216.3,269.3 L216.6,269.3 L216.8,269.3 L217.1,269.3 L217.3,269.3 L217.6,269.3 L217.8,269.3 L218.1,269.3 L218.3,269.3 L218.6,269.3 L218.8,269.3 L219.1,269.3 L219.3,269.3 L219.6,269.3 L219.8,269.3 L220.1,269.3 L220.3,269.3 L220.6,269.3 L220.8,269.3 L221.0,269.3 L221.3,269.3 L221.5,269.3 L221.8,269.3 L222.0,269.3 L222.3,269.3 L222.5,269.3 L222.8,269.3 L223.0,269.3 L223.3,269.3 L223.5,269.3 L223.8,269.3 L224.0,269.3 L224.3,269.3 L224.5,269.3 L224.8,269.3 L225.0,269.3 L225.3,269.3 L225.5,269.3 L225.8,269.3 L226.0,269.3 L226.3,269.3 L226.5,269.3 L226.8,269.3 L227.0,269.3 L227.3,269.3 L227.5,269.3 L227.8,269.3 L228.0,269.3 L228.3,269.3 L228.5,269.3 L228.7,269.3 L229.0,269.3 L229.2,269.3 L229.5,269.3 L229.7,269.3 L230.0,269.3 L230.2,269.3 L230.5,269.3 L230.7,269.3 L231.0,269.3 L231.2,269.3 L231.5,269.3 L231.7,269.3 L232.0,269.3 L232.2,269.3 L232.5,269.3 L232.7,269.3 L233.0,269.3 L233.2,269.3 L233.5,269.3 L233.7,269.3 L234.0,269.3 L234.2,269.3 L234.5,269.3 L234.7,269.3 L235.0,269.3 L235.2,269.3 L235.5,269.3 L235.7,269.3" stroke="#74742c" stroke-width="2" fill="none"/>
<path d="M37.3,266.8 L37.5,266.8 L37.8,266.7 L38.0,266.7 L38.3,266.7 L38.5,266.7 L38.8,266.7 L39.0,266.7 L39.3,266.7 L39.5,266.6 L39.8,266.6 L40.0,266.6 L40.3,266.6 L40.5,266.6 L40.8,266.6 L41.0,266.5 L41.3,266.5 L41.5,266.5 L41.8,266.5 L42.0,266.5 L42.3,266.4 L42.5,266.4 L42.8,266.4 L43.0,266.4 L43.3,266.3 L43.5,266.3 L43.8,266.3 L44.0,266.3 L44.3,266.2 L44.5,266.2 L44.7,266.2 L45.0,266.1 L45.2,266.1 L45.5,266.1 L45.7,266.0 L46.0,266.0 L46.2,266.0 L46.5,265.9 L46.7,265.9 L47.0,265.8 L47.2,265.8 L47.5,265.7 L47.7,265.7 L48.0,265.7 L48.2,265.6 L48.5,265.6 L48.7,265.5 L49.0,265.4 L49.2,265.4 L49.5,265.3 L49.7,265.3 L50.0,265.2 L50.2,265.2 L50.5,265.1 L50.7,265.0 L51.0,265.0 L51.2,264.9 L51.5,264.8 L51.7,264.8 L52.0,264.7 L52.2,264.6 L52.4,264.5 L52.7,264.4 L52.9,264.4 L53.2,264.3 L53.4,264.2 L53.7,264.1 L53.9,264.0 L54.2,263.9 L54.4,263.8 L54.7,263.7 L54.9,263.6 L55.2,263.5 L55.4,263.4 L55.7,263.3 L55.9,263.2 L56.2,263.1 L56.4,262.9 L56.7,262.8 L56.9,262.7 L57.2,262.6 L57.4,262.4 L57.7,262.3 L57.9,262.1 L58.2,262.0 L58.4,261.9 L58.7,261.7 L58.9,261.5 L59.2,261.4 L59.4,261.2 L59.6,261.1 L59.9,260.9 L60.1,260.7 L60.4,260.5 L60.6,260.4 L60.9,260.2 L61.1,260.0 L61.4,259.8 L61.6,259.6 L61.9,259.4 L62.1,259.2 L62.4,259.0 L62.6,258.8 L62.9,258.5 L63.1,258.3 L63.4,258.1 L63.6,257.8 L63.9,257.6 L64.1,257.4 L64.4,257.1 L64.6,256.8 L64.9,256.6 L65.1,256.3 L65.4,256.0 L65.6,255.8 L65.9,255.5 L66.1,255.2 L66.4,254.9 L66.6,254.6 L66.8,254.3 L67.1,254.0 L67.3,253.7 L67.6,253.3 L67.8,253.0 L68.1,252.7 L68.3,252.3 L68.6,252.0 L68.8,251.6 L69.1,251.3 L69.3,250.9 L69.6,250.5 L69.8,250.1 L70.1,249.7 L70.3,249.3 L70.6,248.9 L70.8,248.5 L71.1,248.1 L71.3,247.7 L71.6,247.3 L71.8,246.8 L72.1,246.4 L72.3,245.9 L72.6,245.5 L72.8,245.0 L73.1,244.5 L73.3,244.1 L73.6,243.6 L73.8,243.1 L74.0,242.6 L74.3,242.1 L74.5,241.6 L74.8,241.0 L75.0,240.5 L75.3,240.0 L75.5,239.4 L75.8,238.9 L76.0,238.3 L76.3,237.7 L76.5,237.2 L76.8,236.6 L77.0,236.0 L77.3,235.4 L77.5,234.8 L77.8,234.2 L78.0,233.5 L78.3,232.9 L78.5,232.3 L78.8,231.6 L79.0,231.0 L79.3,230.3 L79.5,229.7 L79.8,229.0 L80.0,228.3 L80.3,227.6 L80.5,226.9 L80.8,226.2 L81.0,225.5 L81.3,224.8 L81.5,224.1 L81.7,223.3 L82.0,222.6 L82.2,221.8 L82.5,221.1 L82.7,220.3 L83.0,219.6 L83.2,218.8 L83.5,218.0 L83.7,217.2 L84.0,216.4 L84.2,215.7 L84.5,214.8 L84.7,214.0 L85.0,213.2 L85.2,212.4 L85.5,211.6 L85.7,210.7 L86.0,209.9 L86.2,209.1 L86.5,208.2 L86.7,207.4 L87.0,206.5 L87.2,205.6 L87.5,204.8 L87.7,203.9 L88.0,203.0 L88.2,202.1 L88.5,201.3 L88.7,200.4 L88.9,199.5 L89.2,198.6 L89.4,197.7 L89.7,196.8 L89.9,195.9 L90.2,195.0 L90.4,194.0 L90.7,193.1 L90.9,192.2 L91.2,191.3 L91.4,190.4 L91.7,189.4 L91.9,188.5 L92.2,187.6 L92.4,186.7 L92.7,185.7 L92.9,184.8 L93.2,183.9 L93.4,182.9 L93.7,182.0 L93.9,181.1 L94.2,180.1 L94.4,179.2 L94.7,178.3 L94.9,177.3 L95.2,176.4 L95.4,175.5 L95.7,174.5 L95.9,173.6 L96.1,172.7 L96.4,171.7 L96.6,170.8 L96.9,169.9 L97.1,169.0 L97.4,168.1 L97.6,167.1 L97.9,166.2 L98.1,165.3 L98.4,164.4 L98.6,163.5 L98.9,162.6 L99.1,161.7 L99.4,160.8 L99.6,160.0 L99.9,159.1 L100.1,158.2 L100.4,157.3 L100.6,156.5 L100.9,155.6 L101.1,154.7 L101.4,153.9 L101.6,153.1 L101.9,152.2 L102.1,151.4 L102.4,150.6 L102.6,149.7 L102.9,148.9 L103.1,148.1 L103.4,147.3 L103.6,146.5 L103.8,145.7 L104.1,144.9 L104.3,144.2 L104.6,143.4 L104.8,142.7 L105.1,141.9 L105.3,141.2 L105.6,140.4 L105.8,139.7 L106.1,139.0 L106.3,138.3 L106.6,137.6 L106.8,136.9 L107.1,136.2 L107.3,135.5 L107.6,134.8 L107.8,134.2 L108.1,133.5 L108.3,132.9 L108.6,132.2 L108.8,131.6 L109.1,131.0 L109.3,130.4 L109.6,129.8 L109.8,129.2 L110.1,128.6 L110.3,128.0 L110.6,127.4 L110.8,126.9 L111.0,126.3 L111.3,125.8 L111.5,125.3 L111.8,124.7 L112.0,124.2 L112.3,123.7 L112.5,123.2 L112.8,122.7 L113.0,122.2 L113.3,121.7 L113.5,121.3 L113.8,120.8 L114.0,120.3 L114.3,119.9 L114.5,119.4 L114.8,119.0 L115.0,118.6 L115.3,118.2 L115.5,117.7 L115.8,117.3 L116.0,116.9 L116.3,116.5 L116.5,116.1 L116.8,115.8 L117.0,115.4 L117.3,115.0 L117.5,114.6 L117.8,114.3 L118.0,113.9 L118.2,113.6 L118.5,113.2 L118.7,112.9 L119.0,112.6 L119.2,112.2 L119.5,111.9 L119.7,111.6 L120.0,111.2 L120.2,110.9 L120.5,110.6 L120.7,110.3 L121.0,110.0 L121.2,109.7 L121.5,109.4 L121.7,109.1 L122.0,108.8 L122.2,108.5 L122.5,108.2 L122.7,107.9 L123.0,107.6 L123.2,107.3 L123.5,107.0 L123.7,106.7 L124.0,106.5 L124.2,106.2 L124.5,105.9 L124.7,105.6 L125.0,105.3 L125.2,105.0 L125.5,104.7 L125.7,104.5 L125.9,104.2 L126.2,103.9 L126.4,103.6 L126.7,103.3 L126.9,103.0 L127.2,102.7 L127.4,102.5 L127.7,102.2 L127.9,101.9 L128.2,101.6 L128.4,101.3 L128.7,101.0 L128.9,100.7 L129.2,100.4 L129.4,100.1 L129.7,99.8 L129.9,99.5 L130.2,99.2 L130.4,98.9 L130.7,98.6 L130.9,98.3 L131.2,98.0 L131.4,97.7 L131.7,97.4 L131.9,97.1 L132.2,96.7 L132.4,96.4 L132.7,96.1 L132.9,95.8 L133.1,95.5 L133.4,95.2 L133.6,94.9 L133.9,94.6 L134.1,94.2 L134.4,93.9 L134.6,93.6 L134.9,93.3 L135.1,93.0 L135.4,92.7 L135.6,92.4 L135.9,92.1 L136.1,91.8 L136.4,91.5 L136.6,91.2 L136.9,90.9 L137.1,90.6 L137.4,90.3 L137.6,90.0 L137.9,89.7 L138.1,89.4 L138.4,89.1 L138.6,88.9 L138.9,88.6 L139.1,88.3 L139.4,88.1 L139.6,87.8 L139.9,87.6 L140.1,87.3 L140.3,87.1 L140.6,86.9 L140.8,86.6 L141.1,86.4 L141.3,86.2 L141.6,86.0 L141.8,85.8 L142.1,85.7 L142.3,85.5 L142.6,85.3 L142.8,85.2 L143.1,85.1 L143.3,84.9 L143.6,84.8 L143.8,84.7 L144.1,84.6 L144.3,84.5 L144.6,84.5 L144.8,84.4 L145.1,84.4 L145.3,84.3 L145.6,84.3 L145.8,84.3 L146.1,84.4 L146.3,84.4 L146.6,84.4 L146.8,84.5 L147.1,84.6 L147.3,84.7 L147.5,84.8 L147.8,84.9 L148.0,85.1 L148.3,85.2 L148.5,85.4 L148.8,85.6 L149.0,85.8 L149.3,86.0 L149.5,86.3 L149.8,86.6 L150.0,86.9 L150.3,87.2 L150.5,87.5 L150.8,87.9 L151.0,88.2 L151.3,88.6 L151.5,89.0 L151.8,89.4 L152.0,89.9 L152.3,90.4 L152.5,90.8 L152.8,91.4 L153.0,91.9 L153.3,92.4 L153.5,93.0 L153.8,93.6 L154.0,94.2 L154.3,94.8 L154.5,95.5 L154.8,96.2 L155.0,96.9 L155.2,97.6 L155.5,98.3 L155.7,99.0 L156.0,99.8 L156.2,100.6 L156.5,101.4 L156.7,102.3 L157.0,103.1 L157.2,104.0 L157.5,104.9 L157.7,105.8 L158.0,106.7 L158.2,107.6 L158.5,108.6 L158.7,109.6 L159.0,110.6 L159.2,111.6 L159.5,112.6 L159.7,113.7 L160.0,114.7 L160.2,115.8 L160.5,116.9 L160.7,118.0 L161.0,119.2 L161.2,120.3 L161.5,121.5 L161.7,122.6 L162.0,123.8 L162.2,125.0 L162.4,126.2 L162.7,127.5 L162.9,128.7 L163.2,129.9 L163.4,131.2 L163.7,132.5 L163.9,133.8 L164.2,135.0 L164.4,136.3 L164.7,137.7 L164.9,139.0 L165.2,140.3 L165.4,141.6 L165.7,143.0 L165.9,144.3 L166.2,145.7 L166.4,147.0 L166.7,148.4 L166.9,149.8 L167.2,151.2 L167.4,152.5 L167.7,153.9 L167.9,155.3 L168.2,156.7 L168.4,158.1 L168.7,159.5 L168.9,160.9 L169.2,162.3 L169.4,163.7 L169.6,165.1 L169.9,166.4 L170.1,167.8 L170.4,169.2 L170.6,170.6 L170.9,172.0 L171.1,173.4 L171.4,174.8 L171.6,176.2 L171.9,177.5 L172.1,178.9 L172.4,180.3 L172.6,181.6 L172.9,183.0 L173.1,184.3 L173.4,185.7 L173.6,187.0 L173.9,188.3 L174.1,189.7 L174.4,191.0 L174.6,192.3 L174.9,193.6 L175.1,194.9 L175.4,196.2 L175.6,197.4 L175.9,198.7 L176.1,200.0 L176.4,201.2 L176.6,202.4 L176.9,203.7 L177.1,204.9 L177.3,206.1 L177.6,207.3 L177.8,208.4 L178.1,209.6 L178.3,210.8 L178.6,211.9 L178.8,213.0 L179.1,214.2 L179.3,215.3 L179.6,216.4 L179.8,217.4 L180.1,218.5 L180.3,219.6 L180.6,220.6 L180.8,221.6 L181.1,222.7 L181.3,223.7 L181.6,224.7 L181.8,225.6 L182.1,226.6 L182.3,227.5 L182.6,228.5 L182.8,229.4 L183.1,230.3 L183.3,231.2 L183.6,232.1 L183.8,233.0 L184.1,233.8 L184.3,234.7 L184.5,235.5 L184.8,236.3 L185.0,237.1 L185.3,237.9 L185.5,238.7 L185.8,239.4 L186.0,240.2 L186.3,240.9 L186.5,241.6 L186.8,242.3 L187.0,243.0 L187.3,243.7 L187.5,244.4 L187.8,245.0 L188.0,245.7 L188.3,246.3 L188.5,246.9 L188.8,247.5 L189.0,248.1 L189.3,248.7 L189.5,249.2 L189.8,249.8 L190.0,250.3 L190.3,250.9 L190.5,251.4 L190.8,251.9 L191.0,252.4 L191.3,252.9 L191.5,253.4 L191.7,253.8 L192.0,254.3 L192.2,254.7 L192.5,255.2 L192.7,255.6 L193.0,256.0 L193.2,256.4 L193.5,256.8 L193.7,257.2 L194.0,257.5 L194.2,257.9 L194.5,258.3 L194.7,258.6 L195.0,258.9 L195.2,259.3 L195.5,259.6 L195.7,259.9 L196.0,260.2 L196.2,260.5 L196.5,260.8 L196.7,261.1 L197.0,261.3 L197.2,261.6 L197.5,261.8 L197.7,262.1 L198.0,262.3 L198.2,262.6 L198.5,262.8 L198.7,263.0 L199.0,263.2 L199.2,263.4 L199.4,263.7 L199.7,263.8 L199.9,264.0 L200.2,264.2 L200.4,264.4 L200.7,264.6 L200.9,264.7 L201.2,264.9 L201.4,265.1 L201.7,265.2 L201.9,265.4 L202.2,265.5 L202.4,265.7 L202.7,265.8 L202.9,265.9 L203.2,266.0 L203.4,266.2 L203.7,266.3 L203.9,266.4 L204.2,266.5 L204.4,266.6 L204.7,266.7 L204.9,266.8 L205.2,266.9 L205.4,267.0 L205.7,267.1 L205.9,267.2 L206.2,267.3 L206.4,267.3 L206.6,267.4 L206.9,267.5 L207.1,267.6 L207.4,267.6 L207.6,267.7 L207.9,267.8 L208.1,267.8 L208.4,267.9 L208.6,267.9 L208.9,268.0 L209.1,268.0 L209.4,268.1 L209.6,268.1 L209.9,268.2 L210.1,268.2 L210.4,268.3 L210.6,268.3 L210.9,268.4 L211.1,268.4 L211.4,268.4 L211.6,268.5 L211.9,268.5 L212.1,268.5 L212.4,268.6 L212.6,268.6 L212.9,268.6 L213.1,268.7 L213.4,268.7 L213.6,268.7 L213.8,268.7 L214.1,268.8 L214.3,268.8 L214.6,268.8 L214.8,268.8 L215.1,268.8 L215.3,268.9 L215.6,268.9 L215.8,268.9 L216.1,268.9 L216.3,268.9 L216.6,269.0 L216.8,269.0 L217.1,269.0 L217.3,269.0 L217.6,269.0 L217.8,269.0 L218.1,269.0 L218.3,269.0 L218.6,269.1 L218.8,269.1 L219.1,269.1 L219.3,269.1 L219.6,269.1 L219.8,269.1 L220.1,269.1 L220.3,269.1 L220.6,269.1 L220.8,269.1 L221.0,269.1 L221.3,269.1 L221.5,269.1 L221.8,269.2 L222.0,269.2 L222.3,269.2 L222.5,269.2 L222.8,269.2 L223.0,269.2 L223.3,269.2 L223.5,269.2 L223.8,269.2 L224.0,269.2 L224.3,269.2 L224.5,269.2 L224.8,269.2 L225.0,269.2 L225.3,269.2 L225.5,269.2 L225.8,269.2 L226.0,269.2 L226.3,269.2 L226.5,269.2 L226.8,269.2 L227.0,269.2 L227.3,269.2 L227.5,269.2 L227.8,269.2 L228.0,269.2 L228.3,269.2 L228.5,269.2 L228.7,269.2 L229.0,269.2 L229.2,269.2 L229.5,269.2 L229.7,269.2 L230.0,269.2 L230.2,269.2 L230.5,269.2 L230.7,269.2 L231.0,269.2 L231.2,269.2 L231.5,269.2 L231.7,269.2 L232.0,269.2 L232.2,269.2 L232.5,269.2 L232.7,269.2 L233.0,269.2 L233.2,269.2 L233.5,269.2 L233.7,269.2 L234.0,269.3 L234.2,269.3 L234.5,269.3 L234.7,269.3 L235.0,269.3 L235.2,269.3 L235.5,269.3 L235.7,269.3" stroke="#d21c1c" stroke-width="2.2" fill="none"/>
</g>
<rect x="37.3" y="0.8" width="198.39999999999998" height="277.8" fill="none" stroke="#000" stroke-width="2"/>
<path d="M37.3,277.6 V273.1 M94.3,277.6 V273.1 M151.3,277.6 V273.1 M208.3,277.6 V273.1 " stroke="#000" stroke-width="1.8" fill="none"/>
<path d="M231.1,277.6 V275.40000000000003 M225.4,277.6 V275.40000000000003 M219.7,277.6 V275.40000000000003 M214.0,277.6 V275.40000000000003 M202.6,277.6 V275.40000000000003 M196.9,277.6 V275.40000000000003 M191.2,277.6 V275.40000000000003 M185.5,277.6 V275.40000000000003 M179.8,277.6 V275.40000000000003 M174.1,277.6 V275.40000000000003 M168.4,277.6 V275.40000000000003 M162.7,277.6 V275.40000000000003 M157.0,277.6 V275.40000000000003 M145.6,277.6 V275.40000000000003 M139.9,277.6 V275.40000000000003 M134.2,277.6 V275.40000000000003 M128.5,277.6 V275.40000000000003 M122.8,277.6 V275.40000000000003 M117.1,277.6 V275.40000000000003 M111.4,277.6 V275.40000000000003 M105.7,277.6 V275.40000000000003 M100.0,277.6 V275.40000000000003 M88.6,277.6 V275.40000000000003 M82.9,277.6 V275.40000000000003 M77.2,277.6 V275.40000000000003 M71.5,277.6 V275.40000000000003 M65.8,277.6 V275.40000000000003 M60.1,277.6 V275.40000000000003 M54.4,277.6 V275.40000000000003 M48.7,277.6 V275.40000000000003 M43.0,277.6 V275.40000000000003 " stroke="#000" stroke-width="1.2" fill="none"/>
<text x="28.77" y="299.1" font-size="16">43</text>
<text x="85.75" y="299.1" font-size="16">42</text>
<text x="142.61" y="299.1" font-size="16">41</text>
<text x="199.69" y="299.1" font-size="16">40</text>
<text x="48.94" y="319.4" font-size="18.5" textLength="172.71" lengthAdjust="spacingAndGlyphs">Binding Energy (eV)</text>
<text transform="translate(14.2,214.22) rotate(-90)" font-size="19.4" textLength="124.03" lengthAdjust="spacingAndGlyphs">Intensity (a.u.)</text>
<text x="43.91" y="18.8" font-size="16" textLength="154.98" lengthAdjust="spacingAndGlyphs">(a) GaAs Substrate</text>
<line x1="44.4" y1="32.6" x2="54.5" y2="32.6" stroke="#222" stroke-width="1.5"/>
<line x1="64.9" y1="32.6" x2="74.5" y2="32.6" stroke="#222" stroke-width="1.5"/>
<circle cx="60.2" cy="32.6" r="3.2" fill="#fff" stroke="#222" stroke-width="1.3"/>
<line x1="44.7" y1="48.6" x2="75.5" y2="48.6" stroke="#08086a" stroke-width="2"/>
<line x1="44.7" y1="65.7" x2="75.5" y2="65.7" stroke="#1b6e22" stroke-width="2"/>
<line x1="44.7" y1="81.9" x2="75.5" y2="81.9" stroke="#74742c" stroke-width="2"/>
<line x1="44.7" y1="99.2" x2="75.5" y2="99.2" stroke="#d21c1c" stroke-width="2"/>
<text x="79.05" y="36.2" font-size="13" textLength="55.06" lengthAdjust="spacing">Measured</text>
<text x="79.05" y="53.0" font-size="13" textLength="82.65" lengthAdjust="spacing">Fitted As3d3/2</text>
<text x="79.05" y="69.6" font-size="13" textLength="82.65" lengthAdjust="spacing">Fitted As3d5/2</text>
<text x="79.05" y="86.3" font-size="13" textLength="18.86" lengthAdjust="spacing">BG</text>
<text x="78.55" y="102.4" font-size="13" textLength="28.84" lengthAdjust="spacing">SUM</text>
<text x="41.64" y="138.3" font-size="13.8" textLength="51.86" lengthAdjust="spacingAndGlyphs">As3d3/2</text>
<text x="176.24" y="121.2" font-size="13.8" textLength="51.46" lengthAdjust="spacingAndGlyphs">As3d5/2</text>
<text x="176.24" y="138.5" font-size="13.8" textLength="49.68" lengthAdjust="spacingAndGlyphs">41.00eV</text>
<line x1="66.8" y1="143.1" x2="108.2" y2="182.5" stroke="#111" stroke-width="1"/>
<polygon points="108.2,182.5 101.5,179.3 104.7,176.0" fill="#111"/>
<line x1="198.5" y1="146.5" x2="155.3" y2="167.3" stroke="#111" stroke-width="1"/>
<polygon points="155.3,167.3 160.6,162.2 162.6,166.3" fill="#111"/>
<clipPath id="cb"><rect x="315.5" y="1" width="196.5" height="277"/></clipPath>
<g clip-path="url(#cb)">
<g fill="#fff" stroke="#111" stroke-width="1.15"><circle cx="312.7" cy="173.7" r="2.9"/><circle cx="315.1" cy="171.0" r="2.9"/><circle cx="316.6" cy="171.2" r="2.9"/><circle cx="316.4" cy="166.8" r="2.9"/><circle cx="316.8" cy="163.3" r="2.9"/><circle cx="318.2" cy="159.8" r="2.9"/><circle cx="318.6" cy="155.9" r="2.9"/><circle cx="317.7" cy="154.3" r="2.9"/><circle cx="319.3" cy="152.6" r="2.9"/><circle cx="319.7" cy="148.0" r="2.9"/><circle cx="318.8" cy="145.2" r="2.9"/><circle cx="320.2" cy="142.2" r="2.9"/><circle cx="319.2" cy="139.6" r="2.9"/><circle cx="321.1" cy="134.4" r="2.9"/><circle cx="320.4" cy="133.2" r="2.9"/><circle cx="320.4" cy="129.4" r="2.9"/><circle cx="319.8" cy="128.6" r="2.9"/><circle cx="320.4" cy="123.5" r="2.9"/><circle cx="318.7" cy="122.2" r="2.9"/><circle cx="319.7" cy="120.5" r="2.9"/><circle cx="321.5" cy="115.1" r="2.9"/><circle cx="319.7" cy="111.8" r="2.9"/><circle cx="323.5" cy="110.0" r="2.9"/><circle cx="322.3" cy="107.1" r="2.9"/><circle cx="326.6" cy="103.4" r="2.9"/><circle cx="327.2" cy="103.3" r="2.9"/><circle cx="331.5" cy="104.0" r="2.9"/><circle cx="332.1" cy="102.7" r="2.9"/><circle cx="331.2" cy="105.7" r="2.9"/><circle cx="334.4" cy="107.6" r="2.9"/><circle cx="334.8" cy="112.3" r="2.9"/><circle cx="333.5" cy="113.3" r="2.9"/><circle cx="333.5" cy="116.5" r="2.9"/><circle cx="333.7" cy="122.6" r="2.9"/><circle cx="333.1" cy="122.7" r="2.9"/><circle cx="335.4" cy="128.3" r="2.9"/><circle cx="334.0" cy="131.9" r="2.9"/><circle cx="335.8" cy="132.9" r="2.9"/><circle cx="336.5" cy="135.9" r="2.9"/><circle cx="337.9" cy="140.5" r="2.9"/><circle cx="338.2" cy="140.5" r="2.9"/><circle cx="341.7" cy="142.8" r="2.9"/><circle cx="341.6" cy="144.6" r="2.9"/><circle cx="343.9" cy="149.1" r="2.9"/><circle cx="344.2" cy="153.7" r="2.9"/><circle cx="344.5" cy="155.9" r="2.9"/><circle cx="345.6" cy="156.3" r="2.9"/><circle cx="346.1" cy="159.3" r="2.9"/><circle cx="347.4" cy="162.7" r="2.9"/><circle cx="348.1" cy="166.5" r="2.9"/><circle cx="349.2" cy="168.7" r="2.9"/><circle cx="349.2" cy="172.0" r="2.9"/><circle cx="350.9" cy="174.9" r="2.9"/><circle cx="354.5" cy="176.9" r="2.9"/><circle cx="353.4" cy="180.0" r="2.9"/><circle cx="354.9" cy="182.7" r="2.9"/><circle cx="358.4" cy="180.4" r="2.9"/><circle cx="360.9" cy="178.5" r="2.9"/><circle cx="359.2" cy="177.6" r="2.9"/><circle cx="361.1" cy="173.0" r="2.9"/><circle cx="361.4" cy="169.4" r="2.9"/><circle cx="361.0" cy="164.2" r="2.9"/><circle cx="364.1" cy="164.0" r="2.9"/><circle cx="364.0" cy="158.0" r="2.9"/><circle cx="364.7" cy="155.8" r="2.9"/><circle cx="364.5" cy="155.8" r="2.9"/><circle cx="366.4" cy="152.6" r="2.9"/><circle cx="366.1" cy="148.6" r="2.9"/><circle cx="367.1" cy="143.6" r="2.9"/><circle cx="366.8" cy="142.5" r="2.9"/><circle cx="367.3" cy="139.1" r="2.9"/><circle cx="370.5" cy="137.9" r="2.9"/><circle cx="369.4" cy="137.1" r="2.9"/><circle cx="370.8" cy="131.5" r="2.9"/><circle cx="371.1" cy="127.3" r="2.9"/><circle cx="371.4" cy="123.9" r="2.9"/><circle cx="372.0" cy="122.4" r="2.9"/><circle cx="373.9" cy="119.3" r="2.9"/><circle cx="373.8" cy="115.2" r="2.9"/><circle cx="374.7" cy="113.9" r="2.9"/><circle cx="375.7" cy="109.4" r="2.9"/><circle cx="377.9" cy="109.5" r="2.9"/><circle cx="378.3" cy="106.6" r="2.9"/><circle cx="379.0" cy="103.8" r="2.9"/><circle cx="378.9" cy="98.9" r="2.9"/><circle cx="379.0" cy="97.3" r="2.9"/><circle cx="382.2" cy="93.6" r="2.9"/><circle cx="383.1" cy="90.4" r="2.9"/><circle cx="382.8" cy="87.6" r="2.9"/><circle cx="384.4" cy="83.5" r="2.9"/><circle cx="385.5" cy="80.4" r="2.9"/><circle cx="386.5" cy="80.5" r="2.9"/><circle cx="387.6" cy="76.4" r="2.9"/><circle cx="387.1" cy="74.0" r="2.9"/><circle cx="389.6" cy="72.1" r="2.9"/><circle cx="387.5" cy="65.6" r="2.9"/><circle cx="390.2" cy="63.9" r="2.9"/><circle cx="390.4" cy="62.2" r="2.9"/><circle cx="391.4" cy="59.6" r="2.9"/><circle cx="393.2" cy="55.7" r="2.9"/><circle cx="393.8" cy="54.7" r="2.9"/><circle cx="392.2" cy="50.8" r="2.9"/><circle cx="393.7" cy="46.8" r="2.9"/><circle cx="398.7" cy="45.6" r="2.9"/><circle cx="399.7" cy="47.1" r="2.9"/><circle cx="403.4" cy="48.0" r="2.9"/><circle cx="406.0" cy="47.1" r="2.9"/><circle cx="404.6" cy="54.1" r="2.9"/><circle cx="405.1" cy="56.0" r="2.9"/><circle cx="408.4" cy="59.8" r="2.9"/><circle cx="409.2" cy="60.4" r="2.9"/><circle cx="409.6" cy="63.4" r="2.9"/><circle cx="410.3" cy="65.3" r="2.9"/><circle cx="409.9" cy="73.0" r="2.9"/><circle cx="409.8" cy="72.5" r="2.9"/><circle cx="411.6" cy="77.7" r="2.9"/><circle cx="411.3" cy="77.8" r="2.9"/><circle cx="411.1" cy="81.8" r="2.9"/><circle cx="413.7" cy="82.4" r="2.9"/><circle cx="413.6" cy="87.0" r="2.9"/><circle cx="414.6" cy="91.7" r="2.9"/><circle cx="413.7" cy="91.8" r="2.9"/><circle cx="414.4" cy="97.8" r="2.9"/><circle cx="414.6" cy="99.8" r="2.9"/><circle cx="415.1" cy="101.0" r="2.9"/><circle cx="416.6" cy="104.6" r="2.9"/><circle cx="416.1" cy="107.7" r="2.9"/><circle cx="417.7" cy="111.2" r="2.9"/><circle cx="418.1" cy="113.5" r="2.9"/><circle cx="420.2" cy="116.1" r="2.9"/><circle cx="417.3" cy="119.7" r="2.9"/><circle cx="420.0" cy="121.8" r="2.9"/><circle cx="419.4" cy="124.4" r="2.9"/><circle cx="419.9" cy="129.0" r="2.9"/><circle cx="418.9" cy="133.1" r="2.9"/><circle cx="420.3" cy="133.0" r="2.9"/><circle cx="422.0" cy="137.9" r="2.9"/><circle cx="421.6" cy="140.1" r="2.9"/><circle cx="422.2" cy="142.6" r="2.9"/><circle cx="422.3" cy="147.9" r="2.9"/><circle cx="424.2" cy="149.1" r="2.9"/><circle cx="423.4" cy="154.7" r="2.9"/><circle cx="421.7" cy="154.7" r="2.9"/><circle cx="423.7" cy="159.2" r="2.9"/><circle cx="422.8" cy="161.4" r="2.9"/><circle cx="422.0" cy="163.7" r="2.9"/><circle cx="425.2" cy="168.4" r="2.9"/><circle cx="427.5" cy="170.4" r="2.9"/><circle cx="426.6" cy="174.3" r="2.9"/><circle cx="425.9" cy="176.4" r="2.9"/><circle cx="426.5" cy="178.1" r="2.9"/><circle cx="429.0" cy="182.3" r="2.9"/><circle cx="428.5" cy="185.5" r="2.9"/><circle cx="428.9" cy="189.6" r="2.9"/><circle cx="429.2" cy="190.2" r="2.9"/><circle cx="429.7" cy="194.3" r="2.9"/><circle cx="430.9" cy="195.0" r="2.9"/><circle cx="431.1" cy="201.1" r="2.9"/><circle cx="431.2" cy="201.8" r="2.9"/><circle cx="430.3" cy="203.8" r="2.9"/><circle cx="432.3" cy="209.1" r="2.9"/><circle cx="431.5" cy="213.6" r="2.9"/><circle cx="433.7" cy="213.1" r="2.9"/><circle cx="431.7" cy="216.7" r="2.9"/><circle cx="433.2" cy="220.1" r="2.9"/><circle cx="433.8" cy="222.6" r="2.9"/><circle cx="432.8" cy="227.5" r="2.9"/><circle cx="436.3" cy="228.9" r="2.9"/><circle cx="436.4" cy="232.0" r="2.9"/><circle cx="435.1" cy="236.6" r="2.9"/><circle cx="436.9" cy="237.9" r="2.9"/><circle cx="437.1" cy="242.3" r="2.9"/><circle cx="434.6" cy="243.5" r="2.9"/><circle cx="438.9" cy="245.7" r="2.9"/><circle cx="440.5" cy="247.2" r="2.9"/><circle cx="443.1" cy="253.8" r="2.9"/><circle cx="444.4" cy="252.6" r="2.9"/><circle cx="448.0" cy="254.4" r="2.9"/><circle cx="450.9" cy="255.2" r="2.9"/><circle cx="454.8" cy="256.8" r="2.9"/><circle cx="456.1" cy="258.8" r="2.9"/><circle cx="457.9" cy="261.6" r="2.9"/><circle cx="461.5" cy="255.7" r="2.9"/><circle cx="461.8" cy="253.1" r="2.9"/><circle cx="464.4" cy="252.1" r="2.9"/><circle cx="465.5" cy="250.1" r="2.9"/><circle cx="471.2" cy="253.0" r="2.9"/><circle cx="472.8" cy="255.1" r="2.9"/><circle cx="475.0" cy="254.8" r="2.9"/><circle cx="476.9" cy="256.4" r="2.9"/><circle cx="478.4" cy="259.9" r="2.9"/><circle cx="480.8" cy="263.5" r="2.9"/><circle cx="482.8" cy="256.3" r="2.9"/><circle cx="485.3" cy="259.0" r="2.9"/><circle cx="488.4" cy="255.8" r="2.9"/><circle cx="492.7" cy="257.6" r="2.9"/><circle cx="494.6" cy="254.3" r="2.9"/><circle cx="497.0" cy="254.9" r="2.9"/><circle cx="312.1" cy="174.6" r="2.9"/><circle cx="316.0" cy="171.9" r="2.9"/><circle cx="316.9" cy="171.3" r="2.9"/><circle cx="316.1" cy="167.4" r="2.9"/><circle cx="316.1" cy="164.7" r="2.9"/><circle cx="315.5" cy="160.2" r="2.9"/><circle cx="317.6" cy="160.4" r="2.9"/><circle cx="318.6" cy="157.2" r="2.9"/><circle cx="319.2" cy="152.8" r="2.9"/><circle cx="319.5" cy="149.9" r="2.9"/><circle cx="318.7" cy="143.4" r="2.9"/><circle cx="319.9" cy="143.9" r="2.9"/><circle cx="320.0" cy="139.8" r="2.9"/><circle cx="321.4" cy="137.6" r="2.9"/><circle cx="322.1" cy="135.0" r="2.9"/><circle cx="320.2" cy="130.6" r="2.9"/><circle cx="319.6" cy="125.9" r="2.9"/><circle cx="320.4" cy="125.5" r="2.9"/><circle cx="320.0" cy="121.1" r="2.9"/><circle cx="320.1" cy="118.7" r="2.9"/><circle cx="320.9" cy="115.3" r="2.9"/><circle cx="320.7" cy="112.7" r="2.9"/><circle cx="323.1" cy="107.3" r="2.9"/><circle cx="323.6" cy="109.2" r="2.9"/><circle cx="325.7" cy="105.4" r="2.9"/><circle cx="327.4" cy="104.5" r="2.9"/><circle cx="329.5" cy="104.2" r="2.9"/><circle cx="330.9" cy="102.5" r="2.9"/><circle cx="332.4" cy="103.1" r="2.9"/><circle cx="332.5" cy="107.2" r="2.9"/><circle cx="333.5" cy="109.8" r="2.9"/><circle cx="333.5" cy="113.7" r="2.9"/><circle cx="332.3" cy="117.5" r="2.9"/><circle cx="333.9" cy="117.7" r="2.9"/><circle cx="332.7" cy="123.8" r="2.9"/><circle cx="333.6" cy="124.4" r="2.9"/><circle cx="334.2" cy="129.7" r="2.9"/><circle cx="333.5" cy="131.9" r="2.9"/><circle cx="337.1" cy="134.3" r="2.9"/><circle cx="338.4" cy="137.3" r="2.9"/><circle cx="339.1" cy="139.5" r="2.9"/><circle cx="339.8" cy="142.3" r="2.9"/><circle cx="341.1" cy="143.6" r="2.9"/><circle cx="341.8" cy="148.5" r="2.9"/><circle cx="343.7" cy="153.7" r="2.9"/><circle cx="344.5" cy="156.6" r="2.9"/><circle cx="345.9" cy="158.7" r="2.9"/><circle cx="345.3" cy="160.8" r="2.9"/><circle cx="347.5" cy="161.9" r="2.9"/><circle cx="348.4" cy="167.5" r="2.9"/><circle cx="349.2" cy="168.3" r="2.9"/><circle cx="350.0" cy="171.1" r="2.9"/><circle cx="352.1" cy="173.6" r="2.9"/><circle cx="351.0" cy="176.9" r="2.9"/><circle cx="354.3" cy="179.0" r="2.9"/><circle cx="355.8" cy="181.8" r="2.9"/><circle cx="357.9" cy="179.5" r="2.9"/><circle cx="359.6" cy="177.9" r="2.9"/><circle cx="359.8" cy="178.6" r="2.9"/><circle cx="360.9" cy="172.7" r="2.9"/><circle cx="362.6" cy="169.5" r="2.9"/><circle cx="363.1" cy="167.6" r="2.9"/><circle cx="363.5" cy="164.9" r="2.9"/><circle cx="362.4" cy="159.6" r="2.9"/><circle cx="365.1" cy="157.9" r="2.9"/><circle cx="366.3" cy="156.4" r="2.9"/><circle cx="366.8" cy="152.6" r="2.9"/><circle cx="366.7" cy="149.5" r="2.9"/><circle cx="365.6" cy="148.4" r="2.9"/><circle cx="368.7" cy="142.6" r="2.9"/><circle cx="368.3" cy="140.7" r="2.9"/><circle cx="366.5" cy="137.0" r="2.9"/><circle cx="370.1" cy="136.7" r="2.9"/><circle cx="368.9" cy="129.3" r="2.9"/><circle cx="369.7" cy="128.0" r="2.9"/><circle cx="371.1" cy="125.2" r="2.9"/><circle cx="373.6" cy="123.9" r="2.9"/><circle cx="372.8" cy="120.9" r="2.9"/><circle cx="374.2" cy="119.0" r="2.9"/><circle cx="376.5" cy="112.3" r="2.9"/><circle cx="377.1" cy="112.4" r="2.9"/><circle cx="376.4" cy="108.2" r="2.9"/><circle cx="377.2" cy="104.9" r="2.9"/><circle cx="377.2" cy="103.6" r="2.9"/><circle cx="378.6" cy="98.9" r="2.9"/><circle cx="380.6" cy="94.5" r="2.9"/><circle cx="381.5" cy="93.8" r="2.9"/><circle cx="382.0" cy="89.5" r="2.9"/><circle cx="383.8" cy="87.7" r="2.9"/><circle cx="382.9" cy="86.2" r="2.9"/><circle cx="384.5" cy="83.2" r="2.9"/><circle cx="386.3" cy="82.1" r="2.9"/><circle cx="387.1" cy="76.9" r="2.9"/><circle cx="388.5" cy="72.3" r="2.9"/><circle cx="388.4" cy="70.4" r="2.9"/><circle cx="388.3" cy="67.2" r="2.9"/><circle cx="389.5" cy="63.9" r="2.9"/><circle cx="388.8" cy="63.1" r="2.9"/><circle cx="388.8" cy="58.8" r="2.9"/><circle cx="391.7" cy="54.1" r="2.9"/><circle cx="392.1" cy="54.8" r="2.9"/><circle cx="393.4" cy="50.9" r="2.9"/><circle cx="393.2" cy="49.2" r="2.9"/><circle cx="396.9" cy="47.1" r="2.9"/><circle cx="399.6" cy="47.0" r="2.9"/><circle cx="402.0" cy="47.1" r="2.9"/><circle cx="402.7" cy="50.7" r="2.9"/><circle cx="405.7" cy="52.4" r="2.9"/><circle cx="408.0" cy="55.2" r="2.9"/><circle cx="408.4" cy="58.0" r="2.9"/><circle cx="408.4" cy="58.5" r="2.9"/><circle cx="409.7" cy="63.0" r="2.9"/><circle cx="411.0" cy="65.9" r="2.9"/><circle cx="407.9" cy="69.4" r="2.9"/><circle cx="411.1" cy="70.4" r="2.9"/><circle cx="412.2" cy="77.2" r="2.9"/><circle cx="412.9" cy="78.2" r="2.9"/><circle cx="414.3" cy="79.4" r="2.9"/><circle cx="414.3" cy="81.7" r="2.9"/><circle cx="413.9" cy="86.6" r="2.9"/><circle cx="414.4" cy="89.8" r="2.9"/><circle cx="415.3" cy="91.9" r="2.9"/><circle cx="414.5" cy="95.9" r="2.9"/><circle cx="415.4" cy="97.9" r="2.9"/><circle cx="416.8" cy="102.5" r="2.9"/><circle cx="418.3" cy="103.8" r="2.9"/><circle cx="416.6" cy="107.6" r="2.9"/><circle cx="417.2" cy="111.9" r="2.9"/><circle cx="417.9" cy="117.0" r="2.9"/><circle cx="419.5" cy="115.3" r="2.9"/><circle cx="418.5" cy="119.0" r="2.9"/><circle cx="420.5" cy="121.4" r="2.9"/><circle cx="418.5" cy="126.5" r="2.9"/><circle cx="419.7" cy="127.0" r="2.9"/><circle cx="420.1" cy="130.8" r="2.9"/><circle cx="421.5" cy="134.4" r="2.9"/><circle cx="422.2" cy="136.1" r="2.9"/><circle cx="420.1" cy="139.1" r="2.9"/><circle cx="421.1" cy="142.7" r="2.9"/><circle cx="422.8" cy="143.5" r="2.9"/><circle cx="422.3" cy="147.4" r="2.9"/><circle cx="421.9" cy="151.7" r="2.9"/><circle cx="424.9" cy="155.4" r="2.9"/><circle cx="424.8" cy="157.9" r="2.9"/><circle cx="425.2" cy="158.8" r="2.9"/><circle cx="424.7" cy="163.5" r="2.9"/><circle cx="426.6" cy="168.1" r="2.9"/><circle cx="425.8" cy="170.7" r="2.9"/><circle cx="427.6" cy="172.9" r="2.9"/><circle cx="426.0" cy="174.8" r="2.9"/><circle cx="426.5" cy="179.7" r="2.9"/><circle cx="428.0" cy="181.1" r="2.9"/><circle cx="427.6" cy="183.3" r="2.9"/><circle cx="429.4" cy="186.8" r="2.9"/><circle cx="429.4" cy="192.7" r="2.9"/><circle cx="428.7" cy="194.0" r="2.9"/><circle cx="430.1" cy="198.2" r="2.9"/><circle cx="430.1" cy="199.1" r="2.9"/><circle cx="431.8" cy="203.9" r="2.9"/><circle cx="430.7" cy="204.8" r="2.9"/><circle cx="431.3" cy="208.4" r="2.9"/><circle cx="433.3" cy="214.8" r="2.9"/><circle cx="434.8" cy="215.5" r="2.9"/><circle cx="434.9" cy="216.9" r="2.9"/><circle cx="433.4" cy="220.4" r="2.9"/><circle cx="433.9" cy="223.9" r="2.9"/><circle cx="435.6" cy="228.0" r="2.9"/><circle cx="434.3" cy="228.8" r="2.9"/><circle cx="433.9" cy="230.1" r="2.9"/><circle cx="435.6" cy="235.0" r="2.9"/><circle cx="436.5" cy="238.3" r="2.9"/><circle cx="435.7" cy="241.4" r="2.9"/><circle cx="435.5" cy="245.9" r="2.9"/><circle cx="436.8" cy="247.3" r="2.9"/><circle cx="440.9" cy="250.2" r="2.9"/><circle cx="441.7" cy="249.6" r="2.9"/><circle cx="444.8" cy="253.8" r="2.9"/><circle cx="447.9" cy="256.6" r="2.9"/><circle cx="451.1" cy="256.0" r="2.9"/><circle cx="452.9" cy="256.6" r="2.9"/><circle cx="455.8" cy="258.5" r="2.9"/><circle cx="456.6" cy="261.9" r="2.9"/><circle cx="459.2" cy="256.2" r="2.9"/><circle cx="460.8" cy="255.3" r="2.9"/><circle cx="465.5" cy="254.4" r="2.9"/><circle cx="466.8" cy="253.1" r="2.9"/><circle cx="468.5" cy="251.1" r="2.9"/><circle cx="471.1" cy="254.1" r="2.9"/><circle cx="473.4" cy="255.3" r="2.9"/><circle cx="476.5" cy="258.0" r="2.9"/><circle cx="476.3" cy="259.8" r="2.9"/><circle cx="479.0" cy="260.5" r="2.9"/><circle cx="482.2" cy="260.3" r="2.9"/><circle cx="487.6" cy="259.8" r="2.9"/><circle cx="488.7" cy="256.2" r="2.9"/><circle cx="490.5" cy="256.2" r="2.9"/><circle cx="494.2" cy="256.6" r="2.9"/><circle cx="498.5" cy="254.0" r="2.9"/><circle cx="312.0" cy="177.6" r="2.9"/><circle cx="315.7" cy="175.4" r="2.9"/><circle cx="318.3" cy="167.9" r="2.9"/><circle cx="318.5" cy="167.2" r="2.9"/><circle cx="316.7" cy="167.1" r="2.9"/><circle cx="318.1" cy="161.9" r="2.9"/><circle cx="318.1" cy="158.2" r="2.9"/><circle cx="318.7" cy="154.7" r="2.9"/><circle cx="320.8" cy="151.4" r="2.9"/><circle cx="318.3" cy="148.8" r="2.9"/><circle cx="320.8" cy="145.4" r="2.9"/><circle cx="319.9" cy="144.1" r="2.9"/><circle cx="321.5" cy="139.6" r="2.9"/><circle cx="320.3" cy="136.5" r="2.9"/><circle cx="319.6" cy="132.5" r="2.9"/><circle cx="320.6" cy="131.0" r="2.9"/><circle cx="321.1" cy="126.9" r="2.9"/><circle cx="320.5" cy="124.9" r="2.9"/><circle cx="321.1" cy="123.5" r="2.9"/><circle cx="320.3" cy="119.6" r="2.9"/><circle cx="318.9" cy="116.8" r="2.9"/><circle cx="322.6" cy="113.7" r="2.9"/><circle cx="323.2" cy="110.4" r="2.9"/><circle cx="323.9" cy="107.5" r="2.9"/><circle cx="325.5" cy="104.8" r="2.9"/><circle cx="328.6" cy="104.1" r="2.9"/><circle cx="329.7" cy="100.2" r="2.9"/><circle cx="331.2" cy="104.2" r="2.9"/><circle cx="332.4" cy="105.4" r="2.9"/><circle cx="334.3" cy="107.4" r="2.9"/><circle cx="331.9" cy="110.7" r="2.9"/><circle cx="334.7" cy="113.4" r="2.9"/><circle cx="333.1" cy="117.5" r="2.9"/><circle cx="332.8" cy="119.4" r="2.9"/><circle cx="335.3" cy="124.8" r="2.9"/><circle cx="334.1" cy="125.3" r="2.9"/><circle cx="333.2" cy="126.3" r="2.9"/><circle cx="335.2" cy="131.1" r="2.9"/><circle cx="337.9" cy="132.0" r="2.9"/><circle cx="339.5" cy="137.3" r="2.9"/><circle cx="338.8" cy="141.6" r="2.9"/><circle cx="340.6" cy="143.9" r="2.9"/><circle cx="342.2" cy="144.0" r="2.9"/><circle cx="342.1" cy="147.5" r="2.9"/><circle cx="344.3" cy="153.5" r="2.9"/><circle cx="345.0" cy="154.4" r="2.9"/><circle cx="345.2" cy="156.9" r="2.9"/><circle cx="346.0" cy="161.2" r="2.9"/><circle cx="347.3" cy="165.9" r="2.9"/><circle cx="348.3" cy="167.2" r="2.9"/><circle cx="348.8" cy="168.5" r="2.9"/><circle cx="349.9" cy="171.6" r="2.9"/><circle cx="352.6" cy="174.8" r="2.9"/><circle cx="352.9" cy="175.9" r="2.9"/><circle cx="354.7" cy="178.1" r="2.9"/><circle cx="356.7" cy="182.0" r="2.9"/><circle cx="358.2" cy="179.7" r="2.9"/><circle cx="361.5" cy="178.4" r="2.9"/><circle cx="359.6" cy="175.8" r="2.9"/><circle cx="362.0" cy="175.9" r="2.9"/><circle cx="361.6" cy="168.8" r="2.9"/><circle cx="364.5" cy="166.8" r="2.9"/><circle cx="365.0" cy="163.8" r="2.9"/><circle cx="361.9" cy="161.7" r="2.9"/><circle cx="363.6" cy="159.6" r="2.9"/><circle cx="365.8" cy="154.6" r="2.9"/><circle cx="366.6" cy="151.3" r="2.9"/><circle cx="367.2" cy="147.3" r="2.9"/><circle cx="367.0" cy="145.3" r="2.9"/><circle cx="368.2" cy="144.2" r="2.9"/><circle cx="369.1" cy="140.7" r="2.9"/><circle cx="369.0" cy="136.4" r="2.9"/><circle cx="370.8" cy="134.3" r="2.9"/><circle cx="368.1" cy="131.9" r="2.9"/><circle cx="371.7" cy="129.6" r="2.9"/><circle cx="370.6" cy="125.2" r="2.9"/><circle cx="373.3" cy="122.7" r="2.9"/><circle cx="372.9" cy="117.8" r="2.9"/><circle cx="373.0" cy="115.8" r="2.9"/><circle cx="375.1" cy="116.5" r="2.9"/><circle cx="374.6" cy="108.6" r="2.9"/><circle cx="375.6" cy="108.2" r="2.9"/><circle cx="375.9" cy="106.1" r="2.9"/><circle cx="378.4" cy="102.5" r="2.9"/><circle cx="379.8" cy="99.0" r="2.9"/><circle cx="381.2" cy="97.1" r="2.9"/><circle cx="380.9" cy="94.3" r="2.9"/><circle cx="383.0" cy="91.4" r="2.9"/><circle cx="382.8" cy="86.2" r="2.9"/><circle cx="383.5" cy="85.5" r="2.9"/><circle cx="385.1" cy="81.8" r="2.9"/><circle cx="386.6" cy="79.3" r="2.9"/><circle cx="386.1" cy="77.5" r="2.9"/><circle cx="387.2" cy="75.2" r="2.9"/><circle cx="387.8" cy="72.6" r="2.9"/><circle cx="388.7" cy="67.8" r="2.9"/><circle cx="388.3" cy="66.7" r="2.9"/><circle cx="390.8" cy="64.1" r="2.9"/><circle cx="390.0" cy="61.1" r="2.9"/><circle cx="391.6" cy="58.5" r="2.9"/><circle cx="391.3" cy="53.7" r="2.9"/><circle cx="393.5" cy="50.8" r="2.9"/><circle cx="395.3" cy="49.9" r="2.9"/><circle cx="396.8" cy="45.2" r="2.9"/><circle cx="402.2" cy="46.5" r="2.9"/><circle cx="403.2" cy="46.4" r="2.9"/><circle cx="406.7" cy="48.5" r="2.9"/><circle cx="407.0" cy="49.5" r="2.9"/><circle cx="406.4" cy="53.5" r="2.9"/><circle cx="407.6" cy="57.4" r="2.9"/><circle cx="409.4" cy="61.5" r="2.9"/><circle cx="409.8" cy="64.5" r="2.9"/><circle cx="410.2" cy="66.1" r="2.9"/><circle cx="410.4" cy="68.9" r="2.9"/><circle cx="409.4" cy="71.0" r="2.9"/><circle cx="411.4" cy="75.6" r="2.9"/><circle cx="409.9" cy="77.7" r="2.9"/><circle cx="413.0" cy="81.8" r="2.9"/><circle cx="412.4" cy="86.2" r="2.9"/><circle cx="412.9" cy="86.8" r="2.9"/><circle cx="413.9" cy="87.9" r="2.9"/><circle cx="414.8" cy="91.7" r="2.9"/><circle cx="413.6" cy="93.9" r="2.9"/><circle cx="413.7" cy="97.2" r="2.9"/><circle cx="414.8" cy="103.4" r="2.9"/><circle cx="414.3" cy="105.0" r="2.9"/><circle cx="415.8" cy="105.7" r="2.9"/><circle cx="418.8" cy="111.5" r="2.9"/><circle cx="416.6" cy="115.2" r="2.9"/><circle cx="418.8" cy="116.1" r="2.9"/><circle cx="417.2" cy="118.6" r="2.9"/><circle cx="419.3" cy="122.0" r="2.9"/><circle cx="419.1" cy="125.8" r="2.9"/><circle cx="419.8" cy="129.3" r="2.9"/><circle cx="420.8" cy="132.9" r="2.9"/><circle cx="422.5" cy="135.9" r="2.9"/><circle cx="421.3" cy="138.9" r="2.9"/><circle cx="421.7" cy="142.1" r="2.9"/><circle cx="421.1" cy="144.1" r="2.9"/><circle cx="423.1" cy="144.2" r="2.9"/><circle cx="422.7" cy="149.0" r="2.9"/><circle cx="424.2" cy="152.6" r="2.9"/><circle cx="423.8" cy="154.6" r="2.9"/><circle cx="426.0" cy="159.3" r="2.9"/><circle cx="422.7" cy="160.6" r="2.9"/><circle cx="424.9" cy="162.8" r="2.9"/><circle cx="426.5" cy="168.9" r="2.9"/><circle cx="425.7" cy="170.8" r="2.9"/><circle cx="425.7" cy="173.2" r="2.9"/><circle cx="426.7" cy="177.1" r="2.9"/><circle cx="426.0" cy="180.2" r="2.9"/><circle cx="427.9" cy="182.3" r="2.9"/><circle cx="430.7" cy="181.6" r="2.9"/><circle cx="429.9" cy="186.9" r="2.9"/><circle cx="428.0" cy="190.1" r="2.9"/><circle cx="428.7" cy="192.4" r="2.9"/><circle cx="429.6" cy="196.9" r="2.9"/><circle cx="431.5" cy="201.2" r="2.9"/><circle cx="430.0" cy="202.0" r="2.9"/><circle cx="430.6" cy="204.1" r="2.9"/><circle cx="432.6" cy="211.2" r="2.9"/><circle cx="433.0" cy="210.9" r="2.9"/><circle cx="432.2" cy="212.9" r="2.9"/><circle cx="431.8" cy="217.8" r="2.9"/><circle cx="431.8" cy="221.0" r="2.9"/><circle cx="433.0" cy="222.5" r="2.9"/><circle cx="431.8" cy="227.4" r="2.9"/><circle cx="435.2" cy="228.7" r="2.9"/><circle cx="434.2" cy="231.1" r="2.9"/><circle cx="435.9" cy="235.5" r="2.9"/><circle cx="437.9" cy="239.2" r="2.9"/><circle cx="437.7" cy="240.3" r="2.9"/><circle cx="436.0" cy="244.5" r="2.9"/><circle cx="439.1" cy="246.7" r="2.9"/><circle cx="441.3" cy="252.7" r="2.9"/><circle cx="441.7" cy="250.1" r="2.9"/><circle cx="444.0" cy="254.5" r="2.9"/><circle cx="447.6" cy="253.8" r="2.9"/><circle cx="448.9" cy="254.8" r="2.9"/><circle cx="454.7" cy="257.1" r="2.9"/><circle cx="452.9" cy="259.5" r="2.9"/><circle cx="456.3" cy="261.2" r="2.9"/><circle cx="459.3" cy="257.9" r="2.9"/><circle cx="461.6" cy="254.7" r="2.9"/><circle cx="464.5" cy="253.1" r="2.9"/><circle cx="467.1" cy="252.8" r="2.9"/><circle cx="469.0" cy="252.4" r="2.9"/><circle cx="472.6" cy="255.5" r="2.9"/><circle cx="471.5" cy="256.2" r="2.9"/><circle cx="475.8" cy="259.2" r="2.9"/><circle cx="477.2" cy="261.9" r="2.9"/><circle cx="480.2" cy="262.2" r="2.9"/><circle cx="482.7" cy="258.4" r="2.9"/><circle cx="484.1" cy="257.1" r="2.9"/><circle cx="487.1" cy="255.6" r="2.9"/><circle cx="491.4" cy="258.5" r="2.9"/><circle cx="493.8" cy="254.7" r="2.9"/><circle cx="495.8" cy="257.0" r="2.9"/><circle cx="443.1" cy="256.6" r="2.9"/><circle cx="445.7" cy="256.1" r="2.9"/><circle cx="448.3" cy="253.8" r="2.9"/><circle cx="450.9" cy="254.6" r="2.9"/><circle cx="453.5" cy="256.7" r="2.9"/><circle cx="456.1" cy="259.6" r="2.9"/><circle cx="458.7" cy="256.7" r="2.9"/><circle cx="461.3" cy="255.7" r="2.9"/><circle cx="463.9" cy="258.9" r="2.9"/><circle cx="466.5" cy="247.2" r="2.9"/><circle cx="469.1" cy="252.3" r="2.9"/><circle cx="471.7" cy="251.2" r="2.9"/><circle cx="474.3" cy="256.8" r="2.9"/><circle cx="476.9" cy="261.4" r="2.9"/><circle cx="479.5" cy="261.3" r="2.9"/><circle cx="482.1" cy="262.9" r="2.9"/><circle cx="484.7" cy="254.1" r="2.9"/><circle cx="487.3" cy="260.9" r="2.9"/><circle cx="489.9" cy="254.9" r="2.9"/><circle cx="492.5" cy="257.8" r="2.9"/><circle cx="495.1" cy="256.1" r="2.9"/><circle cx="497.7" cy="247.4" r="2.9"/><circle cx="442.4" cy="251.6" r="2.9"/><circle cx="445.0" cy="257.4" r="2.9"/><circle cx="447.6" cy="254.7" r="2.9"/><circle cx="450.2" cy="255.7" r="2.9"/><circle cx="452.8" cy="251.7" r="2.9"/><circle cx="455.4" cy="262.7" r="2.9"/><circle cx="458.0" cy="264.4" r="2.9"/><circle cx="460.6" cy="256.4" r="2.9"/><circle cx="463.2" cy="253.8" r="2.9"/><circle cx="465.8" cy="247.9" r="2.9"/><circle cx="468.4" cy="253.7" r="2.9"/><circle cx="471.0" cy="261.4" r="2.9"/><circle cx="473.6" cy="257.8" r="2.9"/><circle cx="476.2" cy="262.0" r="2.9"/><circle cx="478.8" cy="262.5" r="2.9"/><circle cx="481.4" cy="258.1" r="2.9"/><circle cx="484.0" cy="263.3" r="2.9"/><circle cx="486.6" cy="254.1" r="2.9"/><circle cx="489.2" cy="256.3" r="2.9"/><circle cx="491.8" cy="256.9" r="2.9"/><circle cx="494.4" cy="258.3" r="2.9"/><circle cx="497.0" cy="256.5" r="2.9"/><circle cx="499.6" cy="256.2" r="2.9"/></g>
<line x1="408.6" y1="50.7" x2="440.8" y2="267.3" stroke="#d21c1c" stroke-width="2"/>
<line x1="423.8" y1="258.1" x2="503.3" y2="258.1" stroke="#d21c1c" stroke-width="2"/>
</g>
<rect x="314.8" y="0.7" width="198.2" height="278.6" fill="none" stroke="#000" stroke-width="2"/>
<path d="M314.0,278 V273.5 M347.2,278 V273.5 M380.3,278 V273.5 M413.5,278 V273.5 M446.6,278 V273.5 M479.8,278 V273.5 M513.0,278 V273.5 " stroke="#000" stroke-width="1.8" fill="none"/>
<path d="M330.6,278 V275.8 M363.7,278 V275.8 M396.9,278 V275.8 M430.1,278 V275.8 M463.2,278 V275.8 M496.4,278 V275.8 " stroke="#000" stroke-width="1.2" fill="none"/>
<text x="309.40" y="299.1" font-size="16">8</text>
<text x="342.56" y="299.1" font-size="16">6</text>
<text x="375.72" y="299.1" font-size="16">4</text>
<text x="408.94" y="299.1" font-size="16">2</text>
<text x="442.04" y="299.1" font-size="16">0</text>
<text x="472.57" y="299.1" font-size="16">-2</text>
<text x="505.55" y="299.1" font-size="16">-4</text>
<text x="327.54" y="323.7" font-size="18.5" textLength="171.30" lengthAdjust="spacingAndGlyphs">Binding Energy (eV)</text>
<text transform="translate(293.3,214.22) rotate(-90)" font-size="19.4" textLength="124.03" lengthAdjust="spacingAndGlyphs">Intensity (a.u.)</text>
<text x="320.41" y="18.8" font-size="16" textLength="186.58" lengthAdjust="spacingAndGlyphs">(b) GaAs Substrate VB</text>
<text x="327.64" y="235" font-size="13.8" textLength="80.05" lengthAdjust="spacingAndGlyphs">GaAs VBM</text>
<text x="327.82" y="253.8" font-size="13.8" textLength="44.11" lengthAdjust="spacingAndGlyphs">0.37eV</text>
<clipPath id="cc"><rect x="41.5" y="343.3" width="195.5" height="275.5"/></clipPath>
<g clip-path="url(#cc)">
<g fill="#fff" stroke="#111" stroke-width="1.15"><circle cx="41.5" cy="587.1" r="2.9"/><circle cx="43.9" cy="585.2" r="2.9"/><circle cx="46.3" cy="587.2" r="2.9"/><circle cx="48.7" cy="584.2" r="2.9"/><circle cx="51.1" cy="581.5" r="2.9"/><circle cx="53.5" cy="579.8" r="2.9"/><circle cx="55.9" cy="579.5" r="2.9"/><circle cx="58.3" cy="574.1" r="2.9"/><circle cx="60.7" cy="572.5" r="2.9"/><circle cx="63.1" cy="568.7" r="2.9"/><circle cx="65.5" cy="569.2" r="2.9"/><circle cx="67.9" cy="565.7" r="2.9"/><circle cx="70.3" cy="564.9" r="2.9"/><circle cx="72.7" cy="552.4" r="2.9"/><circle cx="75.1" cy="549.0" r="2.9"/><circle cx="77.5" cy="546.9" r="2.9"/><circle cx="79.9" cy="538.5" r="2.9"/><circle cx="82.3" cy="532.1" r="2.9"/><circle cx="84.7" cy="530.2" r="2.9"/><circle cx="87.1" cy="519.1" r="2.9"/><circle cx="89.5" cy="510.6" r="2.9"/><circle cx="91.9" cy="503.5" r="2.9"/><circle cx="94.3" cy="500.4" r="2.9"/><circle cx="96.7" cy="493.7" r="2.9"/><circle cx="99.1" cy="483.5" r="2.9"/><circle cx="101.5" cy="478.0" r="2.9"/><circle cx="103.9" cy="475.3" r="2.9"/><circle cx="106.3" cy="469.6" r="2.9"/><circle cx="108.7" cy="461.5" r="2.9"/><circle cx="111.1" cy="459.2" r="2.9"/><circle cx="113.5" cy="454.3" r="2.9"/><circle cx="115.9" cy="444.7" r="2.9"/><circle cx="118.3" cy="443.8" r="2.9"/><circle cx="120.7" cy="441.7" r="2.9"/><circle cx="123.1" cy="436.0" r="2.9"/><circle cx="125.5" cy="429.3" r="2.9"/><circle cx="127.9" cy="430.3" r="2.9"/><circle cx="130.3" cy="429.7" r="2.9"/><circle cx="132.7" cy="428.9" r="2.9"/><circle cx="135.1" cy="418.4" r="2.9"/><circle cx="137.5" cy="427.5" r="2.9"/><circle cx="139.9" cy="418.8" r="2.9"/><circle cx="142.3" cy="423.9" r="2.9"/><circle cx="144.7" cy="426.3" r="2.9"/><circle cx="147.1" cy="428.5" r="2.9"/><circle cx="149.5" cy="430.2" r="2.9"/><circle cx="151.9" cy="431.5" r="2.9"/><circle cx="154.3" cy="440.1" r="2.9"/><circle cx="156.7" cy="442.2" r="2.9"/><circle cx="159.1" cy="443.6" r="2.9"/><circle cx="161.5" cy="461.3" r="2.9"/><circle cx="163.9" cy="462.9" r="2.9"/><circle cx="166.3" cy="472.1" r="2.9"/><circle cx="168.7" cy="473.2" r="2.9"/><circle cx="171.1" cy="485.8" r="2.9"/><circle cx="173.5" cy="493.7" r="2.9"/><circle cx="175.9" cy="501.5" r="2.9"/><circle cx="178.3" cy="506.0" r="2.9"/><circle cx="180.7" cy="511.3" r="2.9"/><circle cx="183.1" cy="521.4" r="2.9"/><circle cx="185.5" cy="524.7" r="2.9"/><circle cx="187.9" cy="533.3" r="2.9"/><circle cx="190.3" cy="544.4" r="2.9"/><circle cx="192.7" cy="548.9" r="2.9"/><circle cx="195.1" cy="557.3" r="2.9"/><circle cx="197.5" cy="563.5" r="2.9"/><circle cx="199.9" cy="573.7" r="2.9"/><circle cx="202.3" cy="577.5" r="2.9"/><circle cx="204.7" cy="579.4" r="2.9"/><circle cx="207.1" cy="586.5" r="2.9"/><circle cx="209.5" cy="586.1" r="2.9"/><circle cx="211.9" cy="590.6" r="2.9"/><circle cx="214.3" cy="596.5" r="2.9"/><circle cx="216.7" cy="594.6" r="2.9"/><circle cx="219.1" cy="599.1" r="2.9"/><circle cx="221.5" cy="598.9" r="2.9"/><circle cx="223.9" cy="603.9" r="2.9"/><circle cx="226.3" cy="608.8" r="2.9"/><circle cx="228.7" cy="604.9" r="2.9"/><circle cx="231.1" cy="608.2" r="2.9"/><circle cx="233.5" cy="606.7" r="2.9"/><circle cx="235.9" cy="606.9" r="2.9"/></g>
<path d="M40.5,589.8 L40.7,589.8 L41.0,589.7 L41.2,589.7 L41.5,589.6 L41.7,589.6 L42.0,589.5 L42.2,589.4 L42.5,589.4 L42.7,589.3 L43.0,589.3 L43.2,589.2 L43.5,589.1 L43.7,589.1 L44.0,589.0 L44.2,588.9 L44.5,588.9 L44.7,588.8 L44.9,588.7 L45.2,588.6 L45.4,588.6 L45.7,588.5 L45.9,588.4 L46.2,588.3 L46.4,588.2 L46.7,588.1 L46.9,588.1 L47.2,588.0 L47.4,587.9 L47.7,587.8 L47.9,587.7 L48.2,587.6 L48.4,587.5 L48.7,587.4 L48.9,587.3 L49.2,587.2 L49.4,587.1 L49.6,587.0 L49.9,586.9 L50.1,586.8 L50.4,586.6 L50.6,586.5 L50.9,586.4 L51.1,586.3 L51.4,586.2 L51.6,586.0 L51.9,585.9 L52.1,585.8 L52.4,585.6 L52.6,585.5 L52.9,585.4 L53.1,585.2 L53.4,585.1 L53.6,584.9 L53.8,584.8 L54.1,584.6 L54.3,584.5 L54.6,584.3 L54.8,584.2 L55.1,584.0 L55.3,583.8 L55.6,583.7 L55.8,583.5 L56.1,583.3 L56.3,583.1 L56.6,583.0 L56.8,582.8 L57.1,582.6 L57.3,582.4 L57.6,582.2 L57.8,582.0 L58.1,581.8 L58.3,581.6 L58.5,581.4 L58.8,581.2 L59.0,581.0 L59.3,580.8 L59.5,580.6 L59.8,580.3 L60.0,580.1 L60.3,579.9 L60.5,579.7 L60.8,579.4 L61.0,579.2 L61.3,579.0 L61.5,578.7 L61.8,578.5 L62.0,578.2 L62.3,578.0 L62.5,577.7 L62.7,577.4 L63.0,577.2 L63.2,576.9 L63.5,576.6 L63.7,576.4 L64.0,576.1 L64.2,575.8 L64.5,575.5 L64.7,575.2 L65.0,574.9 L65.2,574.6 L65.5,574.3 L65.7,574.0 L66.0,573.7 L66.2,573.4 L66.5,573.1 L66.7,572.8 L66.9,572.4 L67.2,572.1 L67.4,571.8 L67.7,571.5 L67.9,571.1 L68.2,570.8 L68.4,570.4 L68.7,570.1 L68.9,569.7 L69.2,569.4 L69.4,569.0 L69.7,568.6 L69.9,568.3 L70.2,567.9 L70.4,567.5 L70.7,567.1 L70.9,566.8 L71.2,566.4 L71.4,566.0 L71.6,565.6 L71.9,565.2 L72.1,564.8 L72.4,564.4 L72.6,564.0 L72.9,563.6 L73.1,563.2 L73.4,562.7 L73.6,562.3 L73.9,561.9 L74.1,561.5 L74.4,561.0 L74.6,560.6 L74.9,560.2 L75.1,559.7 L75.4,559.3 L75.6,558.8 L75.8,558.4 L76.1,557.9 L76.3,557.5 L76.6,557.0 L76.8,556.5 L77.1,556.1 L77.3,555.6 L77.6,555.1 L77.8,554.6 L78.1,554.2 L78.3,553.7 L78.6,553.2 L78.8,552.7 L79.1,552.2 L79.3,551.7 L79.6,551.2 L79.8,550.8 L80.0,550.3 L80.3,549.8 L80.5,549.3 L80.8,548.7 L81.0,548.2 L81.3,547.7 L81.5,547.2 L81.8,546.7 L82.0,546.2 L82.3,545.7 L82.5,545.2 L82.8,544.6 L83.0,544.1 L83.3,543.6 L83.5,543.1 L83.8,542.6 L84.0,542.0 L84.3,541.5 L84.5,541.0 L84.7,540.5 L85.0,539.9 L85.2,539.4 L85.5,538.9 L85.7,538.3 L86.0,537.8 L86.2,537.3 L86.5,536.8 L86.7,536.2 L87.0,535.7 L87.2,535.2 L87.5,534.6 L87.7,534.1 L88.0,533.6 L88.2,533.1 L88.5,532.5 L88.7,532.0 L88.9,531.5 L89.2,531.0 L89.4,530.4 L89.7,529.9 L89.9,529.4 L90.2,528.9 L90.4,528.3 L90.7,527.8 L90.9,527.3 L91.2,526.8 L91.4,526.3 L91.7,525.8 L91.9,525.3 L92.2,524.8 L92.4,524.3 L92.7,523.8 L92.9,523.3 L93.2,522.8 L93.4,522.3 L93.6,521.8 L93.9,521.3 L94.1,520.8 L94.4,520.4 L94.6,519.9 L94.9,519.4 L95.1,518.9 L95.4,518.5 L95.6,518.0 L95.9,517.6 L96.1,517.1 L96.4,516.7 L96.6,516.2 L96.9,515.8 L97.1,515.3 L97.4,514.9 L97.6,514.5 L97.8,514.1 L98.1,513.7 L98.3,513.3 L98.6,512.8 L98.8,512.4 L99.1,512.1 L99.3,511.7 L99.6,511.3 L99.8,510.9 L100.1,510.5 L100.3,510.2 L100.6,509.8 L100.8,509.5 L101.1,509.1 L101.3,508.8 L101.6,508.4 L101.8,508.1 L102.0,507.8 L102.3,507.5 L102.5,507.2 L102.8,506.9 L103.0,506.6 L103.3,506.3 L103.5,506.0 L103.8,505.7 L104.0,505.5 L104.3,505.2 L104.5,505.0 L104.8,504.7 L105.0,504.5 L105.3,504.3 L105.5,504.1 L105.8,503.8 L106.0,503.6 L106.3,503.4 L106.5,503.3 L106.7,503.1 L107.0,502.9 L107.2,502.7 L107.5,502.6 L107.7,502.4 L108.0,502.3 L108.2,502.2 L108.5,502.1 L108.7,501.9 L109.0,501.8 L109.2,501.7 L109.5,501.7 L109.7,501.6 L110.0,501.5 L110.2,501.5 L110.5,501.4 L110.7,501.4 L110.9,501.3 L111.2,501.3 L111.4,501.3 L111.7,501.3 L111.9,501.3 L112.2,501.3 L112.4,501.3 L112.7,501.3 L112.9,501.4 L113.2,501.4 L113.4,501.5 L113.7,501.5 L113.9,501.6 L114.2,501.7 L114.4,501.8 L114.7,501.9 L114.9,502.0 L115.1,502.1 L115.4,502.2 L115.6,502.3 L115.9,502.5 L116.1,502.6 L116.4,502.8 L116.6,503.0 L116.9,503.1 L117.1,503.3 L117.4,503.5 L117.6,503.7 L117.9,503.9 L118.1,504.1 L118.4,504.4 L118.6,504.6 L118.9,504.8 L119.1,505.1 L119.4,505.4 L119.6,505.6 L119.8,505.9 L120.1,506.2 L120.3,506.5 L120.6,506.8 L120.8,507.1 L121.1,507.4 L121.3,507.7 L121.6,508.0 L121.8,508.4 L122.1,508.7 L122.3,509.1 L122.6,509.4 L122.8,509.8 L123.1,510.2 L123.3,510.6 L123.6,510.9 L123.8,511.3 L124.0,511.7 L124.3,512.1 L124.5,512.6 L124.8,513.0 L125.0,513.4 L125.3,513.8 L125.5,514.3 L125.8,514.7 L126.0,515.2 L126.3,515.6 L126.5,516.1 L126.8,516.6 L127.0,517.0 L127.3,517.5 L127.5,518.0 L127.8,518.5 L128.0,519.0 L128.3,519.5 L128.5,520.0 L128.7,520.5 L129.0,521.0 L129.2,521.5 L129.5,522.1 L129.7,522.6 L130.0,523.1 L130.2,523.6 L130.5,524.2 L130.7,524.7 L131.0,525.3 L131.2,525.8 L131.5,526.4 L131.7,526.9 L132.0,527.5 L132.2,528.1 L132.5,528.6 L132.7,529.2 L132.9,529.8 L133.2,530.4 L133.4,530.9 L133.7,531.5 L133.9,532.1 L134.2,532.7 L134.4,533.3 L134.7,533.9 L134.9,534.4 L135.2,535.0 L135.4,535.6 L135.7,536.2 L135.9,536.8 L136.2,537.4 L136.4,538.0 L136.7,538.6 L136.9,539.2 L137.1,539.8 L137.4,540.4 L137.6,541.0 L137.9,541.7 L138.1,542.3 L138.4,542.9 L138.6,543.5 L138.9,544.1 L139.1,544.7 L139.4,545.3 L139.6,545.9 L139.9,546.5 L140.1,547.1 L140.4,547.7 L140.6,548.3 L140.9,548.9 L141.1,549.5 L141.4,550.1 L141.6,550.7 L141.8,551.3 L142.1,551.9 L142.3,552.5 L142.6,553.1 L142.8,553.7 L143.1,554.3 L143.3,554.9 L143.6,555.5 L143.8,556.1 L144.1,556.7 L144.3,557.3 L144.6,557.9 L144.8,558.4 L145.1,559.0 L145.3,559.6 L145.6,560.2 L145.8,560.8 L146.0,561.3 L146.3,561.9 L146.5,562.5 L146.8,563.0 L147.0,563.6 L147.3,564.1 L147.5,564.7 L147.8,565.3 L148.0,565.8 L148.3,566.4 L148.5,566.9 L148.8,567.4 L149.0,568.0 L149.3,568.5 L149.5,569.0 L149.8,569.6 L150.0,570.1 L150.2,570.6 L150.5,571.1 L150.7,571.7 L151.0,572.2 L151.2,572.7 L151.5,573.2 L151.7,573.7 L152.0,574.2 L152.2,574.7 L152.5,575.2 L152.7,575.6 L153.0,576.1 L153.2,576.6 L153.5,577.1 L153.7,577.6 L154.0,578.0 L154.2,578.5 L154.5,578.9 L154.7,579.4 L154.9,579.9 L155.2,580.3 L155.4,580.8 L155.7,581.2 L155.9,581.6 L156.2,582.1 L156.4,582.5 L156.7,582.9 L156.9,583.3 L157.2,583.8 L157.4,584.2 L157.7,584.6 L157.9,585.0 L158.2,585.4 L158.4,585.8 L158.7,586.2 L158.9,586.6 L159.1,586.9 L159.4,587.3 L159.6,587.7 L159.9,588.1 L160.1,588.4 L160.4,588.8 L160.6,589.2 L160.9,589.5 L161.1,589.9 L161.4,590.2 L161.6,590.6 L161.9,590.9 L162.1,591.3 L162.4,591.6 L162.6,591.9 L162.9,592.2 L163.1,592.6 L163.4,592.9 L163.6,593.2 L163.8,593.5 L164.1,593.8 L164.3,594.1 L164.6,594.4 L164.8,594.7 L165.1,595.0 L165.3,595.3 L165.6,595.6 L165.8,595.9 L166.1,596.1 L166.3,596.4 L166.6,596.7 L166.8,596.9 L167.1,597.2 L167.3,597.5 L167.6,597.7 L167.8,598.0 L168.0,598.2 L168.3,598.5 L168.5,598.7 L168.8,598.9 L169.0,599.2 L169.3,599.4 L169.5,599.6 L169.8,599.9 L170.0,600.1 L170.3,600.3 L170.5,600.5 L170.8,600.7 L171.0,600.9 L171.3,601.1 L171.5,601.3 L171.8,601.6 L172.0,601.7 L172.2,601.9 L172.5,602.1 L172.7,602.3 L173.0,602.5 L173.2,602.7 L173.5,602.9 L173.7,603.0 L174.0,603.2 L174.2,603.4 L174.5,603.6 L174.7,603.7 L175.0,603.9 L175.2,604.1 L175.5,604.2 L175.7,604.4 L176.0,604.5 L176.2,604.7 L176.5,604.8 L176.7,605.0 L176.9,605.1 L177.2,605.3 L177.4,605.4 L177.7,605.5 L177.9,605.7 L178.2,605.8 L178.4,605.9 L178.7,606.1 L178.9,606.2 L179.2,606.3 L179.4,606.4 L179.7,606.5 L179.9,606.7 L180.2,606.8 L180.4,606.9 L180.7,607.0 L180.9,607.1 L181.1,607.2 L181.4,607.3 L181.6,607.4 L181.9,607.5 L182.1,607.6 L182.4,607.7 L182.6,607.8 L182.9,607.9 L183.1,608.0 L183.4,608.1 L183.6,608.2 L183.9,608.3 L184.1,608.4 L184.4,608.5 L184.6,608.6 L184.9,608.6 L185.1,608.7 L185.3,608.8 L185.6,608.9 L185.8,609.0 L186.1,609.0 L186.3,609.1 L186.6,609.2 L186.8,609.2 L187.1,609.3 L187.3,609.4 L187.6,609.5 L187.8,609.5 L188.1,609.6 L188.3,609.6 L188.6,609.7 L188.8,609.8 L189.1,609.8 L189.3,609.9 L189.6,609.9 L189.8,610.0 L190.0,610.1 L190.3,610.1 L190.5,610.2 L190.8,610.2 L191.0,610.3 L191.3,610.3 L191.5,610.4 L191.8,610.4 L192.0,610.5 L192.3,610.5 L192.5,610.6 L192.8,610.6 L193.0,610.7 L193.3,610.7 L193.5,610.7 L193.8,610.8 L194.0,610.8 L194.2,610.9 L194.5,610.9 L194.7,610.9 L195.0,611.0 L195.2,611.0 L195.5,611.1 L195.7,611.1 L196.0,611.1 L196.2,611.2 L196.5,611.2 L196.7,611.2 L197.0,611.3 L197.2,611.3 L197.5,611.3 L197.7,611.4 L198.0,611.4 L198.2,611.4 L198.5,611.4 L198.7,611.5 L198.9,611.5 L199.2,611.5 L199.4,611.6 L199.7,611.6 L199.9,611.6 L200.2,611.6 L200.4,611.7 L200.7,611.7 L200.9,611.7 L201.2,611.7 L201.4,611.7 L201.7,611.8 L201.9,611.8 L202.2,611.8 L202.4,611.8 L202.7,611.9 L202.9,611.9 L203.1,611.9 L203.4,611.9 L203.6,611.9 L203.9,612.0 L204.1,612.0 L204.4,612.0 L204.6,612.0 L204.9,612.0 L205.1,612.0 L205.4,612.1 L205.6,612.1 L205.9,612.1 L206.1,612.1 L206.4,612.1 L206.6,612.1 L206.9,612.2 L207.1,612.2 L207.3,612.2 L207.6,612.2 L207.8,612.2 L208.1,612.2 L208.3,612.2 L208.6,612.2 L208.8,612.3 L209.1,612.3 L209.3,612.3 L209.6,612.3 L209.8,612.3 L210.1,612.3 L210.3,612.3 L210.6,612.3 L210.8,612.4 L211.1,612.4 L211.3,612.4 L211.6,612.4 L211.8,612.4 L212.0,612.4 L212.3,612.4 L212.5,612.4 L212.8,612.4 L213.0,612.4 L213.3,612.4 L213.5,612.5 L213.8,612.5 L214.0,612.5 L214.3,612.5 L214.5,612.5 L214.8,612.5 L215.0,612.5 L215.3,612.5 L215.5,612.5 L215.8,612.5 L216.0,612.5 L216.2,612.5 L216.5,612.5 L216.7,612.6 L217.0,612.6 L217.2,612.6 L217.5,612.6 L217.7,612.6 L218.0,612.6 L218.2,612.6 L218.5,612.6 L218.7,612.6 L219.0,612.6 L219.2,612.6 L219.5,612.6 L219.7,612.6 L220.0,612.6 L220.2,612.6 L220.4,612.6 L220.7,612.6 L220.9,612.6 L221.2,612.6 L221.4,612.7 L221.7,612.7 L221.9,612.7 L222.2,612.7 L222.4,612.7 L222.7,612.7 L222.9,612.7 L223.2,612.7 L223.4,612.7 L223.7,612.7 L223.9,612.7 L224.2,612.7 L224.4,612.7 L224.7,612.7 L224.9,612.7 L225.1,612.7 L225.4,612.7 L225.6,612.7 L225.9,612.7 L226.1,612.7 L226.4,612.7 L226.6,612.7 L226.9,612.7 L227.1,612.7 L227.4,612.7 L227.6,612.7 L227.9,612.7 L228.1,612.7 L228.4,612.7 L228.6,612.7 L228.9,612.8 L229.1,612.8 L229.3,612.8 L229.6,612.8 L229.8,612.8 L230.1,612.8 L230.3,612.8 L230.6,612.8 L230.8,612.8 L231.1,612.8 L231.3,612.8 L231.6,612.8 L231.8,612.8 L232.1,612.8 L232.3,612.8 L232.6,612.8 L232.8,612.8 L233.1,612.8 L233.3,612.8 L233.6,612.8 L233.8,612.8 L234.0,612.8 L234.3,612.8 L234.5,612.8 L234.8,612.8 L235.0,612.8 L235.3,612.8 L235.5,612.8 L235.8,612.8 L236.0,612.8 L236.3,612.8 L236.5,612.8 L236.8,612.8 L237.0,612.8 L237.3,612.8 L237.5,612.8 L237.8,612.8 L238.0,612.8" stroke="#08086a" stroke-width="2" fill="none"/>
<path d="M40.5,591.7 L40.7,591.7 L41.0,591.7 L41.2,591.7 L41.5,591.7 L41.7,591.7 L42.0,591.7 L42.2,591.7 L42.5,591.7 L42.7,591.7 L43.0,591.7 L43.2,591.7 L43.5,591.7 L43.7,591.7 L44.0,591.7 L44.2,591.7 L44.5,591.7 L44.7,591.7 L44.9,591.7 L45.2,591.7 L45.4,591.7 L45.7,591.7 L45.9,591.7 L46.2,591.7 L46.4,591.6 L46.7,591.6 L46.9,591.6 L47.2,591.6 L47.4,591.6 L47.7,591.6 L47.9,591.6 L48.2,591.6 L48.4,591.6 L48.7,591.6 L48.9,591.6 L49.2,591.6 L49.4,591.6 L49.6,591.6 L49.9,591.6 L50.1,591.6 L50.4,591.6 L50.6,591.6 L50.9,591.6 L51.1,591.6 L51.4,591.6 L51.6,591.6 L51.9,591.6 L52.1,591.6 L52.4,591.6 L52.6,591.6 L52.9,591.6 L53.1,591.6 L53.4,591.6 L53.6,591.6 L53.8,591.6 L54.1,591.6 L54.3,591.6 L54.6,591.6 L54.8,591.5 L55.1,591.5 L55.3,591.5 L55.6,591.5 L55.8,591.5 L56.1,591.5 L56.3,591.5 L56.6,591.5 L56.8,591.5 L57.1,591.5 L57.3,591.5 L57.6,591.5 L57.8,591.5 L58.1,591.5 L58.3,591.5 L58.5,591.4 L58.8,591.4 L59.0,591.4 L59.3,591.4 L59.5,591.4 L59.8,591.4 L60.0,591.4 L60.3,591.4 L60.5,591.4 L60.8,591.4 L61.0,591.4 L61.3,591.3 L61.5,591.3 L61.8,591.3 L62.0,591.3 L62.3,591.3 L62.5,591.3 L62.7,591.3 L63.0,591.3 L63.2,591.2 L63.5,591.2 L63.7,591.2 L64.0,591.2 L64.2,591.2 L64.5,591.2 L64.7,591.1 L65.0,591.1 L65.2,591.1 L65.5,591.1 L65.7,591.1 L66.0,591.1 L66.2,591.0 L66.5,591.0 L66.7,591.0 L66.9,591.0 L67.2,591.0 L67.4,590.9 L67.7,590.9 L67.9,590.9 L68.2,590.9 L68.4,590.8 L68.7,590.8 L68.9,590.8 L69.2,590.8 L69.4,590.7 L69.7,590.7 L69.9,590.7 L70.2,590.6 L70.4,590.6 L70.7,590.6 L70.9,590.6 L71.2,590.5 L71.4,590.5 L71.6,590.5 L71.9,590.4 L72.1,590.4 L72.4,590.3 L72.6,590.3 L72.9,590.3 L73.1,590.2 L73.4,590.2 L73.6,590.1 L73.9,590.1 L74.1,590.1 L74.4,590.0 L74.6,590.0 L74.9,589.9 L75.1,589.9 L75.4,589.8 L75.6,589.8 L75.8,589.7 L76.1,589.7 L76.3,589.6 L76.6,589.6 L76.8,589.5 L77.1,589.4 L77.3,589.4 L77.6,589.3 L77.8,589.3 L78.1,589.2 L78.3,589.1 L78.6,589.1 L78.8,589.0 L79.1,588.9 L79.3,588.9 L79.6,588.8 L79.8,588.7 L80.0,588.6 L80.3,588.6 L80.5,588.5 L80.8,588.4 L81.0,588.3 L81.3,588.2 L81.5,588.2 L81.8,588.1 L82.0,588.0 L82.3,587.9 L82.5,587.8 L82.8,587.7 L83.0,587.6 L83.3,587.5 L83.5,587.4 L83.8,587.3 L84.0,587.2 L84.3,587.1 L84.5,587.0 L84.7,586.9 L85.0,586.8 L85.2,586.6 L85.5,586.5 L85.7,586.4 L86.0,586.3 L86.2,586.2 L86.5,586.0 L86.7,585.9 L87.0,585.8 L87.2,585.6 L87.5,585.5 L87.7,585.4 L88.0,585.2 L88.2,585.1 L88.5,584.9 L88.7,584.8 L88.9,584.6 L89.2,584.5 L89.4,584.3 L89.7,584.1 L89.9,584.0 L90.2,583.8 L90.4,583.6 L90.7,583.5 L90.9,583.3 L91.2,583.1 L91.4,582.9 L91.7,582.8 L91.9,582.6 L92.2,582.4 L92.4,582.2 L92.7,582.0 L92.9,581.8 L93.2,581.6 L93.4,581.4 L93.6,581.2 L93.9,581.0 L94.1,580.7 L94.4,580.5 L94.6,580.3 L94.9,580.1 L95.1,579.8 L95.4,579.6 L95.6,579.4 L95.9,579.1 L96.1,578.9 L96.4,578.6 L96.6,578.4 L96.9,578.1 L97.1,577.9 L97.4,577.6 L97.6,577.3 L97.8,577.1 L98.1,576.8 L98.3,576.5 L98.6,576.2 L98.8,575.9 L99.1,575.6 L99.3,575.3 L99.6,575.0 L99.8,574.7 L100.1,574.4 L100.3,574.1 L100.6,573.8 L100.8,573.5 L101.1,573.2 L101.3,572.8 L101.6,572.5 L101.8,572.2 L102.0,571.8 L102.3,571.5 L102.5,571.1 L102.8,570.8 L103.0,570.4 L103.3,570.1 L103.5,569.7 L103.8,569.3 L104.0,569.0 L104.3,568.6 L104.5,568.2 L104.8,567.8 L105.0,567.4 L105.3,567.0 L105.5,566.6 L105.8,566.2 L106.0,565.8 L106.3,565.4 L106.5,565.0 L106.7,564.5 L107.0,564.1 L107.2,563.7 L107.5,563.2 L107.7,562.8 L108.0,562.4 L108.2,561.9 L108.5,561.5 L108.7,561.0 L109.0,560.5 L109.2,560.1 L109.5,559.6 L109.7,559.1 L110.0,558.6 L110.2,558.2 L110.5,557.7 L110.7,557.2 L110.9,556.7 L111.2,556.2 L111.4,555.7 L111.7,555.2 L111.9,554.6 L112.2,554.1 L112.4,553.6 L112.7,553.1 L112.9,552.5 L113.2,552.0 L113.4,551.5 L113.7,550.9 L113.9,550.4 L114.2,549.8 L114.4,549.3 L114.7,548.7 L114.9,548.1 L115.1,547.6 L115.4,547.0 L115.6,546.4 L115.9,545.8 L116.1,545.3 L116.4,544.7 L116.6,544.1 L116.9,543.5 L117.1,542.9 L117.4,542.3 L117.6,541.7 L117.9,541.1 L118.1,540.5 L118.4,539.9 L118.6,539.3 L118.9,538.6 L119.1,538.0 L119.4,537.4 L119.6,536.8 L119.8,536.1 L120.1,535.5 L120.3,534.9 L120.6,534.2 L120.8,533.6 L121.1,532.9 L121.3,532.3 L121.6,531.6 L121.8,531.0 L122.1,530.3 L122.3,529.7 L122.6,529.0 L122.8,528.4 L123.1,527.7 L123.3,527.1 L123.6,526.4 L123.8,525.7 L124.0,525.1 L124.3,524.4 L124.5,523.7 L124.8,523.1 L125.0,522.4 L125.3,521.7 L125.5,521.0 L125.8,520.4 L126.0,519.7 L126.3,519.0 L126.5,518.3 L126.8,517.7 L127.0,517.0 L127.3,516.3 L127.5,515.6 L127.8,514.9 L128.0,514.3 L128.3,513.6 L128.5,512.9 L128.7,512.2 L129.0,511.6 L129.2,510.9 L129.5,510.2 L129.7,509.5 L130.0,508.9 L130.2,508.2 L130.5,507.5 L130.7,506.9 L131.0,506.2 L131.2,505.5 L131.5,504.9 L131.7,504.2 L132.0,503.6 L132.2,502.9 L132.5,502.2 L132.7,501.6 L132.9,500.9 L133.2,500.3 L133.4,499.6 L133.7,499.0 L133.9,498.4 L134.2,497.7 L134.4,497.1 L134.7,496.5 L134.9,495.8 L135.2,495.2 L135.4,494.6 L135.7,494.0 L135.9,493.4 L136.2,492.8 L136.4,492.1 L136.7,491.5 L136.9,491.0 L137.1,490.4 L137.4,489.8 L137.6,489.2 L137.9,488.6 L138.1,488.0 L138.4,487.5 L138.6,486.9 L138.9,486.4 L139.1,485.8 L139.4,485.3 L139.6,484.7 L139.9,484.2 L140.1,483.7 L140.4,483.1 L140.6,482.6 L140.9,482.1 L141.1,481.6 L141.4,481.1 L141.6,480.6 L141.8,480.1 L142.1,479.7 L142.3,479.2 L142.6,478.7 L142.8,478.3 L143.1,477.8 L143.3,477.4 L143.6,477.0 L143.8,476.5 L144.1,476.1 L144.3,475.7 L144.6,475.3 L144.8,474.9 L145.1,474.5 L145.3,474.1 L145.6,473.8 L145.8,473.4 L146.0,473.1 L146.3,472.7 L146.5,472.4 L146.8,472.0 L147.0,471.7 L147.3,471.4 L147.5,471.1 L147.8,470.8 L148.0,470.5 L148.3,470.3 L148.5,470.0 L148.8,469.7 L149.0,469.5 L149.3,469.3 L149.5,469.0 L149.8,468.8 L150.0,468.6 L150.2,468.4 L150.5,468.2 L150.7,468.0 L151.0,467.9 L151.2,467.7 L151.5,467.5 L151.7,467.4 L152.0,467.3 L152.2,467.1 L152.5,467.0 L152.7,466.9 L153.0,466.8 L153.2,466.8 L153.5,466.7 L153.7,466.6 L154.0,466.6 L154.2,466.5 L154.5,466.5 L154.7,466.5 L154.9,466.5 L155.2,466.5 L155.4,466.5 L155.7,466.5 L155.9,466.5 L156.2,466.6 L156.4,466.6 L156.7,466.7 L156.9,466.7 L157.2,466.8 L157.4,466.9 L157.7,467.0 L157.9,467.1 L158.2,467.3 L158.4,467.4 L158.7,467.5 L158.9,467.7 L159.1,467.9 L159.4,468.0 L159.6,468.2 L159.9,468.4 L160.1,468.6 L160.4,468.8 L160.6,469.0 L160.9,469.3 L161.1,469.5 L161.4,469.8 L161.6,470.0 L161.9,470.3 L162.1,470.6 L162.4,470.9 L162.6,471.2 L162.9,471.5 L163.1,471.8 L163.4,472.1 L163.6,472.5 L163.8,472.8 L164.1,473.2 L164.3,473.5 L164.6,473.9 L164.8,474.3 L165.1,474.7 L165.3,475.1 L165.6,475.5 L165.8,475.9 L166.1,476.3 L166.3,476.8 L166.6,477.2 L166.8,477.7 L167.1,478.1 L167.3,478.6 L167.6,479.1 L167.8,479.6 L168.0,480.1 L168.3,480.6 L168.5,481.1 L168.8,481.6 L169.0,482.1 L169.3,482.6 L169.5,483.2 L169.8,483.7 L170.0,484.3 L170.3,484.8 L170.5,485.4 L170.8,486.0 L171.0,486.5 L171.3,487.1 L171.5,487.7 L171.8,488.3 L172.0,488.9 L172.2,489.5 L172.5,490.2 L172.7,490.8 L173.0,491.4 L173.2,492.0 L173.5,492.7 L173.7,493.3 L174.0,494.0 L174.2,494.6 L174.5,495.3 L174.7,495.9 L175.0,496.6 L175.2,497.3 L175.5,498.0 L175.7,498.6 L176.0,499.3 L176.2,500.0 L176.5,500.7 L176.7,501.4 L176.9,502.1 L177.2,502.8 L177.4,503.5 L177.7,504.2 L177.9,505.0 L178.2,505.7 L178.4,506.4 L178.7,507.1 L178.9,507.8 L179.2,508.6 L179.4,509.3 L179.7,510.0 L179.9,510.8 L180.2,511.5 L180.4,512.3 L180.7,513.0 L180.9,513.7 L181.1,514.5 L181.4,515.2 L181.6,516.0 L181.9,516.7 L182.1,517.5 L182.4,518.2 L182.6,519.0 L182.9,519.8 L183.1,520.5 L183.4,521.3 L183.6,522.0 L183.9,522.8 L184.1,523.5 L184.4,524.3 L184.6,525.1 L184.9,525.8 L185.1,526.6 L185.3,527.3 L185.6,528.1 L185.8,528.8 L186.1,529.6 L186.3,530.3 L186.6,531.1 L186.8,531.9 L187.1,532.6 L187.3,533.4 L187.6,534.1 L187.8,534.9 L188.1,535.6 L188.3,536.3 L188.6,537.1 L188.8,537.8 L189.1,538.6 L189.3,539.3 L189.6,540.0 L189.8,540.8 L190.0,541.5 L190.3,542.2 L190.5,543.0 L190.8,543.7 L191.0,544.4 L191.3,545.1 L191.5,545.8 L191.8,546.6 L192.0,547.3 L192.3,548.0 L192.5,548.7 L192.8,549.4 L193.0,550.1 L193.3,550.8 L193.5,551.5 L193.8,552.2 L194.0,552.9 L194.2,553.5 L194.5,554.2 L194.7,554.9 L195.0,555.6 L195.2,556.2 L195.5,556.9 L195.7,557.6 L196.0,558.2 L196.2,558.9 L196.5,559.5 L196.7,560.2 L197.0,560.8 L197.2,561.5 L197.5,562.1 L197.7,562.7 L198.0,563.4 L198.2,564.0 L198.5,564.6 L198.7,565.2 L198.9,565.8 L199.2,566.4 L199.4,567.0 L199.7,567.6 L199.9,568.2 L200.2,568.8 L200.4,569.4 L200.7,570.0 L200.9,570.5 L201.2,571.1 L201.4,571.7 L201.7,572.2 L201.9,572.8 L202.2,573.3 L202.4,573.9 L202.7,574.4 L202.9,574.9 L203.1,575.5 L203.4,576.0 L203.6,576.5 L203.9,577.0 L204.1,577.6 L204.4,578.1 L204.6,578.6 L204.9,579.1 L205.1,579.6 L205.4,580.0 L205.6,580.5 L205.9,581.0 L206.1,581.5 L206.4,582.0 L206.6,582.4 L206.9,582.9 L207.1,583.3 L207.3,583.8 L207.6,584.2 L207.8,584.7 L208.1,585.1 L208.3,585.5 L208.6,586.0 L208.8,586.4 L209.1,586.8 L209.3,587.2 L209.6,587.6 L209.8,588.0 L210.1,588.4 L210.3,588.8 L210.6,589.2 L210.8,589.6 L211.1,590.0 L211.3,590.4 L211.6,590.7 L211.8,591.1 L212.0,591.5 L212.3,591.8 L212.5,592.2 L212.8,592.5 L213.0,592.9 L213.3,593.2 L213.5,593.5 L213.8,593.9 L214.0,594.2 L214.3,594.5 L214.5,594.8 L214.8,595.1 L215.0,595.5 L215.3,595.8 L215.5,596.1 L215.8,596.4 L216.0,596.7 L216.2,596.9 L216.5,597.2 L216.7,597.5 L217.0,597.8 L217.2,598.1 L217.5,598.3 L217.7,598.6 L218.0,598.9 L218.2,599.1 L218.5,599.4 L218.7,599.6 L219.0,599.9 L219.2,600.1 L219.5,600.4 L219.7,600.6 L220.0,600.8 L220.2,601.1 L220.4,601.3 L220.7,601.5 L220.9,601.7 L221.2,601.9 L221.4,602.1 L221.7,602.4 L221.9,602.6 L222.2,602.8 L222.4,603.0 L222.7,603.2 L222.9,603.3 L223.2,603.5 L223.4,603.7 L223.7,603.9 L223.9,604.1 L224.2,604.3 L224.4,604.4 L224.7,604.6 L224.9,604.8 L225.1,604.9 L225.4,605.1 L225.6,605.3 L225.9,605.4 L226.1,605.6 L226.4,605.7 L226.6,605.9 L226.9,606.0 L227.1,606.2 L227.4,606.3 L227.6,606.5 L227.9,606.6 L228.1,606.7 L228.4,606.9 L228.6,607.0 L228.9,607.1 L229.1,607.2 L229.3,607.4 L229.6,607.5 L229.8,607.6 L230.1,607.7 L230.3,607.8 L230.6,607.9 L230.8,608.0 L231.1,608.1 L231.3,608.3 L231.6,608.4 L231.8,608.5 L232.1,608.6 L232.3,608.7 L232.6,608.7 L232.8,608.8 L233.1,608.9 L233.3,609.0 L233.6,609.1 L233.8,609.2 L234.0,609.3 L234.3,609.4 L234.5,609.4 L234.8,609.5 L235.0,609.6 L235.3,609.7 L235.5,609.8 L235.8,609.8 L236.0,609.9 L236.3,610.0 L236.5,610.0 L236.8,610.1 L237.0,610.2 L237.3,610.2 L237.5,610.3 L237.8,610.4 L238.0,610.4" stroke="#1b6e22" stroke-width="2" fill="none"/>
<path d="M40.5,591.7 L40.7,591.7 L41.0,591.7 L41.2,591.7 L41.5,591.7 L41.7,591.7 L42.0,591.7 L42.2,591.7 L42.5,591.7 L42.7,591.7 L43.0,591.7 L43.2,591.7 L43.5,591.7 L43.7,591.7 L44.0,591.7 L44.2,591.7 L44.5,591.7 L44.7,591.7 L44.9,591.7 L45.2,591.7 L45.4,591.7 L45.7,591.7 L45.9,591.7 L46.2,591.7 L46.4,591.7 L46.7,591.7 L46.9,591.7 L47.2,591.7 L47.4,591.7 L47.7,591.7 L47.9,591.7 L48.2,591.7 L48.4,591.7 L48.7,591.8 L48.9,591.8 L49.2,591.8 L49.4,591.8 L49.6,591.8 L49.9,591.8 L50.1,591.8 L50.4,591.8 L50.6,591.8 L50.9,591.8 L51.1,591.8 L51.4,591.8 L51.6,591.8 L51.9,591.8 L52.1,591.8 L52.4,591.8 L52.6,591.8 L52.9,591.8 L53.1,591.8 L53.4,591.8 L53.6,591.8 L53.8,591.8 L54.1,591.8 L54.3,591.8 L54.6,591.8 L54.8,591.8 L55.1,591.8 L55.3,591.8 L55.6,591.8 L55.8,591.8 L56.1,591.8 L56.3,591.8 L56.6,591.8 L56.8,591.8 L57.1,591.8 L57.3,591.8 L57.6,591.8 L57.8,591.8 L58.1,591.9 L58.3,591.9 L58.5,591.9 L58.8,591.9 L59.0,591.9 L59.3,591.9 L59.5,591.9 L59.8,591.9 L60.0,591.9 L60.3,591.9 L60.5,591.9 L60.8,591.9 L61.0,591.9 L61.3,591.9 L61.5,591.9 L61.8,591.9 L62.0,591.9 L62.3,591.9 L62.5,591.9 L62.7,591.9 L63.0,591.9 L63.2,591.9 L63.5,592.0 L63.7,592.0 L64.0,592.0 L64.2,592.0 L64.5,592.0 L64.7,592.0 L65.0,592.0 L65.2,592.0 L65.5,592.0 L65.7,592.0 L66.0,592.0 L66.2,592.0 L66.5,592.0 L66.7,592.0 L66.9,592.0 L67.2,592.1 L67.4,592.1 L67.7,592.1 L67.9,592.1 L68.2,592.1 L68.4,592.1 L68.7,592.1 L68.9,592.1 L69.2,592.1 L69.4,592.1 L69.7,592.1 L69.9,592.1 L70.2,592.2 L70.4,592.2 L70.7,592.2 L70.9,592.2 L71.2,592.2 L71.4,592.2 L71.6,592.2 L71.9,592.2 L72.1,592.2 L72.4,592.2 L72.6,592.3 L72.9,592.3 L73.1,592.3 L73.4,592.3 L73.6,592.3 L73.9,592.3 L74.1,592.3 L74.4,592.3 L74.6,592.3 L74.9,592.4 L75.1,592.4 L75.4,592.4 L75.6,592.4 L75.8,592.4 L76.1,592.4 L76.3,592.4 L76.6,592.4 L76.8,592.5 L77.1,592.5 L77.3,592.5 L77.6,592.5 L77.8,592.5 L78.1,592.5 L78.3,592.5 L78.6,592.6 L78.8,592.6 L79.1,592.6 L79.3,592.6 L79.6,592.6 L79.8,592.6 L80.0,592.7 L80.3,592.7 L80.5,592.7 L80.8,592.7 L81.0,592.7 L81.3,592.7 L81.5,592.8 L81.8,592.8 L82.0,592.8 L82.3,592.8 L82.5,592.8 L82.8,592.8 L83.0,592.9 L83.3,592.9 L83.5,592.9 L83.8,592.9 L84.0,592.9 L84.3,593.0 L84.5,593.0 L84.7,593.0 L85.0,593.0 L85.2,593.0 L85.5,593.1 L85.7,593.1 L86.0,593.1 L86.2,593.1 L86.5,593.1 L86.7,593.2 L87.0,593.2 L87.2,593.2 L87.5,593.2 L87.7,593.3 L88.0,593.3 L88.2,593.3 L88.5,593.3 L88.7,593.3 L88.9,593.4 L89.2,593.4 L89.4,593.4 L89.7,593.4 L89.9,593.5 L90.2,593.5 L90.4,593.5 L90.7,593.5 L90.9,593.6 L91.2,593.6 L91.4,593.6 L91.7,593.6 L91.9,593.7 L92.2,593.7 L92.4,593.7 L92.7,593.7 L92.9,593.8 L93.2,593.8 L93.4,593.8 L93.6,593.9 L93.9,593.9 L94.1,593.9 L94.4,593.9 L94.6,594.0 L94.9,594.0 L95.1,594.0 L95.4,594.1 L95.6,594.1 L95.9,594.1 L96.1,594.2 L96.4,594.2 L96.6,594.2 L96.9,594.2 L97.1,594.3 L97.4,594.3 L97.6,594.3 L97.8,594.4 L98.1,594.4 L98.3,594.4 L98.6,594.5 L98.8,594.5 L99.1,594.5 L99.3,594.6 L99.6,594.6 L99.8,594.6 L100.1,594.7 L100.3,594.7 L100.6,594.7 L100.8,594.8 L101.1,594.8 L101.3,594.8 L101.6,594.9 L101.8,594.9 L102.0,594.9 L102.3,595.0 L102.5,595.0 L102.8,595.1 L103.0,595.1 L103.3,595.1 L103.5,595.2 L103.8,595.2 L104.0,595.2 L104.3,595.3 L104.5,595.3 L104.8,595.4 L105.0,595.4 L105.3,595.4 L105.5,595.5 L105.8,595.5 L106.0,595.5 L106.3,595.6 L106.5,595.6 L106.7,595.7 L107.0,595.7 L107.2,595.7 L107.5,595.8 L107.7,595.8 L108.0,595.9 L108.2,595.9 L108.5,595.9 L108.7,596.0 L109.0,596.0 L109.2,596.1 L109.5,596.1 L109.7,596.2 L110.0,596.2 L110.2,596.2 L110.5,596.3 L110.7,596.3 L110.9,596.4 L111.2,596.4 L111.4,596.4 L111.7,596.5 L111.9,596.5 L112.2,596.6 L112.4,596.6 L112.7,596.7 L112.9,596.7 L113.2,596.8 L113.4,596.8 L113.7,596.8 L113.9,596.9 L114.2,596.9 L114.4,597.0 L114.7,597.0 L114.9,597.1 L115.1,597.1 L115.4,597.2 L115.6,597.2 L115.9,597.3 L116.1,597.3 L116.4,597.3 L116.6,597.4 L116.9,597.4 L117.1,597.5 L117.4,597.5 L117.6,597.6 L117.9,597.6 L118.1,597.7 L118.4,597.7 L118.6,597.8 L118.9,597.8 L119.1,597.9 L119.4,597.9 L119.6,598.0 L119.8,598.0 L120.1,598.1 L120.3,598.1 L120.6,598.2 L120.8,598.2 L121.1,598.3 L121.3,598.3 L121.6,598.4 L121.8,598.4 L122.1,598.5 L122.3,598.5 L122.6,598.6 L122.8,598.6 L123.1,598.7 L123.3,598.7 L123.6,598.8 L123.8,598.8 L124.0,598.9 L124.3,598.9 L124.5,599.0 L124.8,599.0 L125.0,599.1 L125.3,599.1 L125.5,599.2 L125.8,599.2 L126.0,599.3 L126.3,599.3 L126.5,599.4 L126.8,599.4 L127.0,599.5 L127.3,599.5 L127.5,599.6 L127.8,599.6 L128.0,599.7 L128.3,599.7 L128.5,599.8 L128.7,599.9 L129.0,599.9 L129.2,600.0 L129.5,600.0 L129.7,600.1 L130.0,600.1 L130.2,600.2 L130.5,600.2 L130.7,600.3 L131.0,600.3 L131.2,600.4 L131.5,600.4 L131.7,600.5 L132.0,600.5 L132.2,600.6 L132.5,600.7 L132.7,600.7 L132.9,600.8 L133.2,600.8 L133.4,600.9 L133.7,600.9 L133.9,601.0 L134.2,601.0 L134.4,601.1 L134.7,601.1 L134.9,601.2 L135.2,601.3 L135.4,601.3 L135.7,601.4 L135.9,601.4 L136.2,601.5 L136.4,601.5 L136.7,601.6 L136.9,601.6 L137.1,601.7 L137.4,601.7 L137.6,601.8 L137.9,601.9 L138.1,601.9 L138.4,602.0 L138.6,602.0 L138.9,602.1 L139.1,602.1 L139.4,602.2 L139.6,602.2 L139.9,602.3 L140.1,602.4 L140.4,602.4 L140.6,602.5 L140.9,602.5 L141.1,602.6 L141.4,602.6 L141.6,602.7 L141.8,602.7 L142.1,602.8 L142.3,602.9 L142.6,602.9 L142.8,603.0 L143.1,603.0 L143.3,603.1 L143.6,603.1 L143.8,603.2 L144.1,603.2 L144.3,603.3 L144.6,603.4 L144.8,603.4 L145.1,603.5 L145.3,603.5 L145.6,603.6 L145.8,603.6 L146.0,603.7 L146.3,603.7 L146.5,603.8 L146.8,603.9 L147.0,603.9 L147.3,604.0 L147.5,604.0 L147.8,604.1 L148.0,604.1 L148.3,604.2 L148.5,604.2 L148.8,604.3 L149.0,604.4 L149.3,604.4 L149.5,604.5 L149.8,604.5 L150.0,604.6 L150.2,604.6 L150.5,604.7 L150.7,604.7 L151.0,604.8 L151.2,604.8 L151.5,604.9 L151.7,604.9 L152.0,605.0 L152.2,605.1 L152.5,605.1 L152.7,605.2 L153.0,605.2 L153.2,605.3 L153.5,605.3 L153.7,605.4 L154.0,605.4 L154.2,605.5 L154.5,605.5 L154.7,605.6 L154.9,605.6 L155.2,605.7 L155.4,605.8 L155.7,605.8 L155.9,605.9 L156.2,605.9 L156.4,606.0 L156.7,606.0 L156.9,606.1 L157.2,606.1 L157.4,606.2 L157.7,606.2 L157.9,606.3 L158.2,606.3 L158.4,606.4 L158.7,606.4 L158.9,606.5 L159.1,606.5 L159.4,606.6 L159.6,606.6 L159.9,606.7 L160.1,606.7 L160.4,606.8 L160.6,606.8 L160.9,606.9 L161.1,606.9 L161.4,607.0 L161.6,607.0 L161.9,607.1 L162.1,607.1 L162.4,607.2 L162.6,607.2 L162.9,607.3 L163.1,607.3 L163.4,607.4 L163.6,607.4 L163.8,607.5 L164.1,607.5 L164.3,607.6 L164.6,607.6 L164.8,607.6 L165.1,607.7 L165.3,607.7 L165.6,607.8 L165.8,607.8 L166.1,607.9 L166.3,607.9 L166.6,608.0 L166.8,608.0 L167.1,608.1 L167.3,608.1 L167.6,608.1 L167.8,608.2 L168.0,608.2 L168.3,608.3 L168.5,608.3 L168.8,608.4 L169.0,608.4 L169.3,608.5 L169.5,608.5 L169.8,608.5 L170.0,608.6 L170.3,608.6 L170.5,608.7 L170.8,608.7 L171.0,608.7 L171.3,608.8 L171.5,608.8 L171.8,608.9 L172.0,608.9 L172.2,608.9 L172.5,609.0 L172.7,609.0 L173.0,609.1 L173.2,609.1 L173.5,609.1 L173.7,609.2 L174.0,609.2 L174.2,609.3 L174.5,609.3 L174.7,609.3 L175.0,609.4 L175.2,609.4 L175.5,609.5 L175.7,609.5 L176.0,609.5 L176.2,609.6 L176.5,609.6 L176.7,609.6 L176.9,609.7 L177.2,609.7 L177.4,609.7 L177.7,609.8 L177.9,609.8 L178.2,609.8 L178.4,609.9 L178.7,609.9 L178.9,609.9 L179.2,610.0 L179.4,610.0 L179.7,610.0 L179.9,610.1 L180.2,610.1 L180.4,610.1 L180.7,610.2 L180.9,610.2 L181.1,610.2 L181.4,610.3 L181.6,610.3 L181.9,610.3 L182.1,610.4 L182.4,610.4 L182.6,610.4 L182.9,610.5 L183.1,610.5 L183.4,610.5 L183.6,610.5 L183.9,610.6 L184.1,610.6 L184.4,610.6 L184.6,610.7 L184.9,610.7 L185.1,610.7 L185.3,610.7 L185.6,610.8 L185.8,610.8 L186.1,610.8 L186.3,610.8 L186.6,610.9 L186.8,610.9 L187.1,610.9 L187.3,610.9 L187.6,611.0 L187.8,611.0 L188.1,611.0 L188.3,611.0 L188.6,611.1 L188.8,611.1 L189.1,611.1 L189.3,611.1 L189.6,611.2 L189.8,611.2 L190.0,611.2 L190.3,611.2 L190.5,611.3 L190.8,611.3 L191.0,611.3 L191.3,611.3 L191.5,611.3 L191.8,611.4 L192.0,611.4 L192.3,611.4 L192.5,611.4 L192.8,611.4 L193.0,611.5 L193.3,611.5 L193.5,611.5 L193.8,611.5 L194.0,611.5 L194.2,611.6 L194.5,611.6 L194.7,611.6 L195.0,611.6 L195.2,611.6 L195.5,611.7 L195.7,611.7 L196.0,611.7 L196.2,611.7 L196.5,611.7 L196.7,611.7 L197.0,611.8 L197.2,611.8 L197.5,611.8 L197.7,611.8 L198.0,611.8 L198.2,611.8 L198.5,611.9 L198.7,611.9 L198.9,611.9 L199.2,611.9 L199.4,611.9 L199.7,611.9 L199.9,611.9 L200.2,612.0 L200.4,612.0 L200.7,612.0 L200.9,612.0 L201.2,612.0 L201.4,612.0 L201.7,612.0 L201.9,612.1 L202.2,612.1 L202.4,612.1 L202.7,612.1 L202.9,612.1 L203.1,612.1 L203.4,612.1 L203.6,612.1 L203.9,612.2 L204.1,612.2 L204.4,612.2 L204.6,612.2 L204.9,612.2 L205.1,612.2 L205.4,612.2 L205.6,612.2 L205.9,612.2 L206.1,612.3 L206.4,612.3 L206.6,612.3 L206.9,612.3 L207.1,612.3 L207.3,612.3 L207.6,612.3 L207.8,612.3 L208.1,612.3 L208.3,612.3 L208.6,612.4 L208.8,612.4 L209.1,612.4 L209.3,612.4 L209.6,612.4 L209.8,612.4 L210.1,612.4 L210.3,612.4 L210.6,612.4 L210.8,612.4 L211.1,612.4 L211.3,612.4 L211.6,612.5 L211.8,612.5 L212.0,612.5 L212.3,612.5 L212.5,612.5 L212.8,612.5 L213.0,612.5 L213.3,612.5 L213.5,612.5 L213.8,612.5 L214.0,612.5 L214.3,612.5 L214.5,612.5 L214.8,612.5 L215.0,612.5 L215.3,612.5 L215.5,612.6 L215.8,612.6 L216.0,612.6 L216.2,612.6 L216.5,612.6 L216.7,612.6 L217.0,612.6 L217.2,612.6 L217.5,612.6 L217.7,612.6 L218.0,612.6 L218.2,612.6 L218.5,612.6 L218.7,612.6 L219.0,612.6 L219.2,612.6 L219.5,612.6 L219.7,612.6 L220.0,612.6 L220.2,612.6 L220.4,612.7 L220.7,612.7 L220.9,612.7 L221.2,612.7 L221.4,612.7 L221.7,612.7 L221.9,612.7 L222.2,612.7 L222.4,612.7 L222.7,612.7 L222.9,612.7 L223.2,612.7 L223.4,612.7 L223.7,612.7 L223.9,612.7 L224.2,612.7 L224.4,612.7 L224.7,612.7 L224.9,612.7 L225.1,612.7 L225.4,612.7 L225.6,612.7 L225.9,612.7 L226.1,612.7 L226.4,612.7 L226.6,612.7 L226.9,612.7 L227.1,612.7 L227.4,612.7 L227.6,612.7 L227.9,612.7 L228.1,612.7 L228.4,612.8 L228.6,612.8 L228.9,612.8 L229.1,612.8 L229.3,612.8 L229.6,612.8 L229.8,612.8 L230.1,612.8 L230.3,612.8 L230.6,612.8 L230.8,612.8 L231.1,612.8 L231.3,612.8 L231.6,612.8 L231.8,612.8 L232.1,612.8 L232.3,612.8 L232.6,612.8 L232.8,612.8 L233.1,612.8 L233.3,612.8 L233.6,612.8 L233.8,612.8 L234.0,612.8 L234.3,612.8 L234.5,612.8 L234.8,612.8 L235.0,612.8 L235.3,612.8 L235.5,612.8 L235.8,612.8 L236.0,612.8 L236.3,612.8 L236.5,612.8 L236.8,612.8 L237.0,612.8 L237.3,612.8 L237.5,612.8 L237.8,612.8 L238.0,612.8" stroke="#74742c" stroke-width="2" fill="none"/>
<path d="M40.5,589.4 L40.7,589.4 L41.0,589.3 L41.2,589.2 L41.5,589.2 L41.7,589.1 L42.0,589.0 L42.2,589.0 L42.5,588.9 L42.7,588.8 L43.0,588.7 L43.2,588.7 L43.5,588.6 L43.7,588.5 L44.0,588.4 L44.2,588.3 L44.5,588.2 L44.7,588.2 L44.9,588.1 L45.2,588.0 L45.4,587.9 L45.7,587.8 L45.9,587.7 L46.2,587.6 L46.4,587.5 L46.7,587.4 L46.9,587.3 L47.2,587.2 L47.4,587.1 L47.7,586.9 L47.9,586.8 L48.2,586.7 L48.4,586.6 L48.7,586.5 L48.9,586.3 L49.2,586.2 L49.4,586.1 L49.6,586.0 L49.9,585.8 L50.1,585.7 L50.4,585.5 L50.6,585.4 L50.9,585.2 L51.1,585.1 L51.4,585.0 L51.6,584.8 L51.9,584.6 L52.1,584.5 L52.4,584.3 L52.6,584.2 L52.9,584.0 L53.1,583.8 L53.4,583.6 L53.6,583.5 L53.8,583.3 L54.1,583.1 L54.3,582.9 L54.6,582.7 L54.8,582.5 L55.1,582.3 L55.3,582.1 L55.6,581.9 L55.8,581.7 L56.1,581.5 L56.3,581.3 L56.6,581.1 L56.8,580.9 L57.1,580.6 L57.3,580.4 L57.6,580.2 L57.8,579.9 L58.1,579.7 L58.3,579.5 L58.5,579.2 L58.8,579.0 L59.0,578.7 L59.3,578.4 L59.5,578.2 L59.8,577.9 L60.0,577.6 L60.3,577.4 L60.5,577.1 L60.8,576.8 L61.0,576.5 L61.3,576.2 L61.5,575.9 L61.8,575.6 L62.0,575.3 L62.3,575.0 L62.5,574.7 L62.7,574.4 L63.0,574.1 L63.2,573.8 L63.5,573.4 L63.7,573.1 L64.0,572.8 L64.2,572.4 L64.5,572.1 L64.7,571.7 L65.0,571.4 L65.2,571.0 L65.5,570.7 L65.7,570.3 L66.0,569.9 L66.2,569.6 L66.5,569.2 L66.7,568.8 L66.9,568.4 L67.2,568.0 L67.4,567.6 L67.7,567.2 L67.9,566.8 L68.2,566.4 L68.4,566.0 L68.7,565.6 L68.9,565.1 L69.2,564.7 L69.4,564.3 L69.7,563.8 L69.9,563.4 L70.2,563.0 L70.4,562.5 L70.7,562.0 L70.9,561.6 L71.2,561.1 L71.4,560.7 L71.6,560.2 L71.9,559.7 L72.1,559.2 L72.4,558.7 L72.6,558.2 L72.9,557.7 L73.1,557.3 L73.4,556.7 L73.6,556.2 L73.9,555.7 L74.1,555.2 L74.4,554.7 L74.6,554.2 L74.9,553.6 L75.1,553.1 L75.4,552.6 L75.6,552.0 L75.8,551.5 L76.1,550.9 L76.3,550.4 L76.6,549.8 L76.8,549.3 L77.1,548.7 L77.3,548.1 L77.6,547.6 L77.8,547.0 L78.1,546.4 L78.3,545.8 L78.6,545.2 L78.8,544.6 L79.1,544.0 L79.3,543.4 L79.6,542.8 L79.8,542.2 L80.0,541.6 L80.3,541.0 L80.5,540.4 L80.8,539.8 L81.0,539.2 L81.3,538.5 L81.5,537.9 L81.8,537.3 L82.0,536.7 L82.3,536.0 L82.5,535.4 L82.8,534.7 L83.0,534.1 L83.3,533.5 L83.5,532.8 L83.8,532.2 L84.0,531.5 L84.3,530.8 L84.5,530.2 L84.7,529.5 L85.0,528.9 L85.2,528.2 L85.5,527.5 L85.7,526.9 L86.0,526.2 L86.2,525.5 L86.5,524.8 L86.7,524.2 L87.0,523.5 L87.2,522.8 L87.5,522.1 L87.7,521.4 L88.0,520.8 L88.2,520.1 L88.5,519.4 L88.7,518.7 L88.9,518.0 L89.2,517.3 L89.4,516.6 L89.7,515.9 L89.9,515.2 L90.2,514.6 L90.4,513.9 L90.7,513.2 L90.9,512.5 L91.2,511.8 L91.4,511.1 L91.7,510.4 L91.9,509.7 L92.2,509.0 L92.4,508.3 L92.7,507.6 L92.9,506.9 L93.2,506.2 L93.4,505.5 L93.6,504.8 L93.9,504.1 L94.1,503.4 L94.4,502.7 L94.6,502.0 L94.9,501.4 L95.1,500.7 L95.4,500.0 L95.6,499.3 L95.9,498.6 L96.1,497.9 L96.4,497.2 L96.6,496.5 L96.9,495.9 L97.1,495.2 L97.4,494.5 L97.6,493.8 L97.8,493.1 L98.1,492.4 L98.3,491.8 L98.6,491.1 L98.8,490.4 L99.1,489.8 L99.3,489.1 L99.6,488.4 L99.8,487.8 L100.1,487.1 L100.3,486.4 L100.6,485.8 L100.8,485.1 L101.1,484.5 L101.3,483.8 L101.6,483.2 L101.8,482.5 L102.0,481.9 L102.3,481.2 L102.5,480.6 L102.8,480.0 L103.0,479.3 L103.3,478.7 L103.5,478.1 L103.8,477.4 L104.0,476.8 L104.3,476.2 L104.5,475.6 L104.8,475.0 L105.0,474.3 L105.3,473.7 L105.5,473.1 L105.8,472.5 L106.0,471.9 L106.3,471.3 L106.5,470.7 L106.7,470.1 L107.0,469.6 L107.2,469.0 L107.5,468.4 L107.7,467.8 L108.0,467.2 L108.2,466.7 L108.5,466.1 L108.7,465.5 L109.0,465.0 L109.2,464.4 L109.5,463.9 L109.7,463.3 L110.0,462.8 L110.2,462.2 L110.5,461.7 L110.7,461.2 L110.9,460.6 L111.2,460.1 L111.4,459.6 L111.7,459.1 L111.9,458.5 L112.2,458.0 L112.4,457.5 L112.7,457.0 L112.9,456.5 L113.2,456.0 L113.4,455.5 L113.7,455.0 L113.9,454.5 L114.2,454.1 L114.4,453.6 L114.7,453.1 L114.9,452.6 L115.1,452.2 L115.4,451.7 L115.6,451.2 L115.9,450.8 L116.1,450.3 L116.4,449.9 L116.6,449.5 L116.9,449.0 L117.1,448.6 L117.4,448.1 L117.6,447.7 L117.9,447.3 L118.1,446.9 L118.4,446.5 L118.6,446.0 L118.9,445.6 L119.1,445.2 L119.4,444.8 L119.6,444.4 L119.8,444.0 L120.1,443.7 L120.3,443.3 L120.6,442.9 L120.8,442.5 L121.1,442.2 L121.3,441.8 L121.6,441.4 L121.8,441.1 L122.1,440.7 L122.3,440.4 L122.6,440.0 L122.8,439.7 L123.1,439.3 L123.3,439.0 L123.6,438.7 L123.8,438.3 L124.0,438.0 L124.3,437.7 L124.5,437.4 L124.8,437.1 L125.0,436.8 L125.3,436.5 L125.5,436.2 L125.8,435.9 L126.0,435.6 L126.3,435.3 L126.5,435.0 L126.8,434.8 L127.0,434.5 L127.3,434.2 L127.5,434.0 L127.8,433.7 L128.0,433.5 L128.3,433.2 L128.5,433.0 L128.7,432.7 L129.0,432.5 L129.2,432.3 L129.5,432.0 L129.7,431.8 L130.0,431.6 L130.2,431.4 L130.5,431.2 L130.7,431.0 L131.0,430.8 L131.2,430.6 L131.5,430.4 L131.7,430.2 L132.0,430.1 L132.2,429.9 L132.5,429.7 L132.7,429.5 L132.9,429.4 L133.2,429.2 L133.4,429.1 L133.7,428.9 L133.9,428.8 L134.2,428.7 L134.4,428.6 L134.7,428.4 L134.9,428.3 L135.2,428.2 L135.4,428.1 L135.7,428.0 L135.9,427.9 L136.2,427.8 L136.4,427.7 L136.7,427.6 L136.9,427.6 L137.1,427.5 L137.4,427.4 L137.6,427.4 L137.9,427.3 L138.1,427.3 L138.4,427.2 L138.6,427.2 L138.9,427.2 L139.1,427.2 L139.4,427.1 L139.6,427.1 L139.9,427.1 L140.1,427.1 L140.4,427.1 L140.6,427.1 L140.9,427.2 L141.1,427.2 L141.4,427.2 L141.6,427.3 L141.8,427.3 L142.1,427.4 L142.3,427.4 L142.6,427.5 L142.8,427.5 L143.1,427.6 L143.3,427.7 L143.6,427.8 L143.8,427.9 L144.1,428.0 L144.3,428.1 L144.6,428.2 L144.8,428.3 L145.1,428.4 L145.3,428.6 L145.6,428.7 L145.8,428.9 L146.0,429.0 L146.3,429.2 L146.5,429.4 L146.8,429.5 L147.0,429.7 L147.3,429.9 L147.5,430.1 L147.8,430.3 L148.0,430.5 L148.3,430.7 L148.5,430.9 L148.8,431.2 L149.0,431.4 L149.3,431.6 L149.5,431.9 L149.8,432.2 L150.0,432.4 L150.2,432.7 L150.5,433.0 L150.7,433.3 L151.0,433.5 L151.2,433.8 L151.5,434.2 L151.7,434.5 L152.0,434.8 L152.2,435.1 L152.5,435.4 L152.7,435.8 L153.0,436.1 L153.2,436.5 L153.5,436.9 L153.7,437.2 L154.0,437.6 L154.2,438.0 L154.5,438.4 L154.7,438.8 L154.9,439.2 L155.2,439.6 L155.4,440.0 L155.7,440.4 L155.9,440.9 L156.2,441.3 L156.4,441.7 L156.7,442.2 L156.9,442.7 L157.2,443.1 L157.4,443.6 L157.7,444.1 L157.9,444.6 L158.2,445.1 L158.4,445.6 L158.7,446.1 L158.9,446.6 L159.1,447.1 L159.4,447.6 L159.6,448.2 L159.9,448.7 L160.1,449.2 L160.4,449.8 L160.6,450.3 L160.9,450.9 L161.1,451.5 L161.4,452.0 L161.6,452.6 L161.9,453.2 L162.1,453.8 L162.4,454.4 L162.6,455.0 L162.9,455.6 L163.1,456.2 L163.4,456.9 L163.6,457.5 L163.8,458.1 L164.1,458.8 L164.3,459.4 L164.6,460.1 L164.8,460.7 L165.1,461.4 L165.3,462.0 L165.6,462.7 L165.8,463.4 L166.1,464.1 L166.3,464.7 L166.6,465.4 L166.8,466.1 L167.1,466.8 L167.3,467.5 L167.6,468.2 L167.8,469.0 L168.0,469.7 L168.3,470.4 L168.5,471.1 L168.8,471.8 L169.0,472.6 L169.3,473.3 L169.5,474.1 L169.8,474.8 L170.0,475.5 L170.3,476.3 L170.5,477.0 L170.8,477.8 L171.0,478.6 L171.3,479.3 L171.5,480.1 L171.8,480.9 L172.0,481.6 L172.2,482.4 L172.5,483.2 L172.7,484.0 L173.0,484.8 L173.2,485.6 L173.5,486.3 L173.7,487.1 L174.0,487.9 L174.2,488.7 L174.5,489.5 L174.7,490.3 L175.0,491.1 L175.2,491.9 L175.5,492.7 L175.7,493.5 L176.0,494.3 L176.2,495.2 L176.5,496.0 L176.7,496.8 L176.9,497.6 L177.2,498.4 L177.4,499.2 L177.7,500.0 L177.9,500.8 L178.2,501.7 L178.4,502.5 L178.7,503.3 L178.9,504.1 L179.2,504.9 L179.4,505.7 L179.7,506.6 L179.9,507.4 L180.2,508.2 L180.4,509.0 L180.7,509.8 L180.9,510.7 L181.1,511.5 L181.4,512.3 L181.6,513.1 L181.9,513.9 L182.1,514.7 L182.4,515.5 L182.6,516.4 L182.9,517.2 L183.1,518.0 L183.4,518.8 L183.6,519.6 L183.9,520.4 L184.1,521.2 L184.4,522.0 L184.6,522.8 L184.9,523.6 L185.1,524.4 L185.3,525.2 L185.6,526.0 L185.8,526.8 L186.1,527.6 L186.3,528.4 L186.6,529.2 L186.8,529.9 L187.1,530.7 L187.3,531.5 L187.6,532.3 L187.8,533.1 L188.1,533.8 L188.3,534.6 L188.6,535.4 L188.8,536.1 L189.1,536.9 L189.3,537.6 L189.6,538.4 L189.8,539.1 L190.0,539.9 L190.3,540.6 L190.5,541.4 L190.8,542.1 L191.0,542.8 L191.3,543.6 L191.5,544.3 L191.8,545.0 L192.0,545.8 L192.3,546.5 L192.5,547.2 L192.8,547.9 L193.0,548.6 L193.3,549.3 L193.5,550.0 L193.8,550.7 L194.0,551.4 L194.2,552.1 L194.5,552.8 L194.7,553.4 L195.0,554.1 L195.2,554.8 L195.5,555.5 L195.7,556.1 L196.0,556.8 L196.2,557.4 L196.5,558.1 L196.7,558.7 L197.0,559.4 L197.2,560.0 L197.5,560.6 L197.7,561.3 L198.0,561.9 L198.2,562.5 L198.5,563.1 L198.7,563.7 L198.9,564.3 L199.2,564.9 L199.4,565.5 L199.7,566.1 L199.9,566.7 L200.2,567.3 L200.4,567.9 L200.7,568.5 L200.9,569.0 L201.2,569.6 L201.4,570.1 L201.7,570.7 L201.9,571.3 L202.2,571.8 L202.4,572.3 L202.7,572.9 L202.9,573.4 L203.1,573.9 L203.4,574.5 L203.6,575.0 L203.9,575.5 L204.1,576.0 L204.4,576.5 L204.6,577.0 L204.9,577.5 L205.1,578.0 L205.4,578.5 L205.6,579.0 L205.9,579.4 L206.1,579.9 L206.4,580.4 L206.6,580.8 L206.9,581.3 L207.1,581.8 L207.3,582.2 L207.6,582.6 L207.8,583.1 L208.1,583.5 L208.3,583.9 L208.6,584.4 L208.8,584.8 L209.1,585.2 L209.3,585.6 L209.6,586.0 L209.8,586.4 L210.1,586.8 L210.3,587.2 L210.6,587.6 L210.8,588.0 L211.1,588.4 L211.3,588.8 L211.6,589.1 L211.8,589.5 L212.0,589.9 L212.3,590.2 L212.5,590.6 L212.8,590.9 L213.0,591.3 L213.3,591.6 L213.5,592.0 L213.8,592.3 L214.0,592.6 L214.3,593.0 L214.5,593.3 L214.8,593.6 L215.0,593.9 L215.3,594.2 L215.5,594.5 L215.8,594.8 L216.0,595.1 L216.2,595.4 L216.5,595.7 L216.7,596.0 L217.0,596.3 L217.2,596.6 L217.5,596.8 L217.7,597.1 L218.0,597.4 L218.2,597.7 L218.5,597.9 L218.7,598.2 L219.0,598.4 L219.2,598.7 L219.5,598.9 L219.7,599.2 L220.0,599.4 L220.2,599.6 L220.4,599.9 L220.7,600.1 L220.9,600.3 L221.2,600.6 L221.4,600.8 L221.7,601.0 L221.9,601.2 L222.2,601.4 L222.4,601.6 L222.7,601.8 L222.9,602.0 L223.2,602.2 L223.4,602.4 L223.7,602.6 L223.9,602.8 L224.2,603.0 L224.4,603.2 L224.7,603.4 L224.9,603.5 L225.1,603.7 L225.4,603.9 L225.6,604.1 L225.9,604.2 L226.1,604.4 L226.4,604.6 L226.6,604.7 L226.9,604.9 L227.1,605.0 L227.4,605.2 L227.6,605.3 L227.9,605.5 L228.1,605.6 L228.4,605.8 L228.6,605.9 L228.9,606.0 L229.1,606.2 L229.3,606.3 L229.6,606.4 L229.8,606.6 L230.1,606.7 L230.3,606.8 L230.6,606.9 L230.8,607.1 L231.1,607.2 L231.3,607.3 L231.6,607.4 L231.8,607.5 L232.1,607.6 L232.3,607.7 L232.6,607.8 L232.8,607.9 L233.1,608.0 L233.3,608.1 L233.6,608.2 L233.8,608.3 L234.0,608.4 L234.3,608.5 L234.5,608.6 L234.8,608.7 L235.0,608.8 L235.3,608.9 L235.5,609.0 L235.8,609.1 L236.0,609.1 L236.3,609.2 L236.5,609.3 L236.8,609.4 L237.0,609.5 L237.3,609.5 L237.5,609.6 L237.8,609.7 L238.0,609.7" stroke="#d21c1c" stroke-width="2.2" fill="none"/>
</g>
<rect x="40.5" y="342.3" width="197.5" height="277.49999999999994" fill="none" stroke="#000" stroke-width="2"/>
<path d="M71.6,618.8 V614.5999999999999 M136.6,618.8 V614.5999999999999 M201.5,618.8 V614.5999999999999 " stroke="#000" stroke-width="1.8" fill="none"/>
<path d="M49.9,618.8 V617.0 M60.8,618.8 V617.0 M82.4,618.8 V617.0 M93.3,618.8 V617.0 M104.1,618.8 V617.0 M114.9,618.8 V617.0 M125.7,618.8 V617.0 M147.4,618.8 V617.0 M158.2,618.8 V617.0 M169.0,618.8 V617.0 M179.8,618.8 V617.0 M190.7,618.8 V617.0 M212.3,618.8 V617.0 M223.2,618.8 V617.0 M234.0,618.8 V617.0 " stroke="#000" stroke-width="1.2" fill="none"/>
<text x="64.25" y="640.8" font-size="16">42</text>
<text x="128.11" y="640.8" font-size="16">41</text>
<text x="192.39" y="640.8" font-size="16">40</text>
<text x="53.54" y="663.8" font-size="18.5" textLength="171.51" lengthAdjust="spacingAndGlyphs">Binding Energy (eV)</text>
<text transform="translate(18.9,554.71) rotate(-90)" font-size="19.4" textLength="123.12" lengthAdjust="spacingAndGlyphs">Intensity (a.u.)</text>
<text x="45.81" y="360.3" font-size="16" textLength="168.30" lengthAdjust="spacingAndGlyphs">(c) Thin Ge on GaAs</text>
<line x1="44.4" y1="370.6" x2="54.5" y2="370.6" stroke="#222" stroke-width="1.5"/>
<line x1="64.9" y1="370.6" x2="74.5" y2="370.6" stroke="#222" stroke-width="1.5"/>
<circle cx="60.2" cy="370.6" r="3.2" fill="#fff" stroke="#222" stroke-width="1.3"/>
<line x1="44.7" y1="388.6" x2="75.4" y2="388.6" stroke="#08086a" stroke-width="2"/>
<line x1="44.7" y1="406.9" x2="75.4" y2="406.9" stroke="#1b6e22" stroke-width="2"/>
<line x1="44.7" y1="425.4" x2="75.4" y2="425.4" stroke="#74742c" stroke-width="2"/>
<line x1="44.7" y1="443.2" x2="75.4" y2="443.2" stroke="#d21c1c" stroke-width="2"/>
<text x="78.55" y="374.4" font-size="13" textLength="60.96" lengthAdjust="spacing">Measured</text>
<text x="78.55" y="392.8" font-size="13" textLength="91.55" lengthAdjust="spacing">Fitted As3d3/2</text>
<text x="78.55" y="411.0" font-size="13" textLength="91.55" lengthAdjust="spacing">Fitted As3d5/2</text>
<text x="78.55" y="429.7" font-size="13" textLength="19.86" lengthAdjust="spacing">BG</text>
<text x="78.05" y="447.6" font-size="13" textLength="31.04" lengthAdjust="spacing">SUM</text>
<text x="44.64" y="478.7" font-size="13.8" textLength="51.86" lengthAdjust="spacingAndGlyphs">As3d3/2</text>
<text x="178.34" y="452.5" font-size="13.8" textLength="51.15" lengthAdjust="spacingAndGlyphs">As3d5/2</text>
<text x="178.34" y="471.2" font-size="13.8" textLength="51.18" lengthAdjust="spacingAndGlyphs">40.68eV</text>
<line x1="70.8" y1="482.1" x2="104.4" y2="526.3" stroke="#111" stroke-width="1"/>
<polygon points="104.4,526.3 98.3,522.1 102.0,519.3" fill="#111"/>
<line x1="205.4" y1="477.5" x2="164" y2="507.3" stroke="#111" stroke-width="1"/>
<polygon points="164.0,507.3 168.3,501.3 171.0,505.1" fill="#111"/>
<clipPath id="cd"><rect x="298" y="343.5" width="196" height="275.5"/></clipPath>
<g clip-path="url(#cd)">
<g fill="#fff" stroke="#111" stroke-width="1.15"><circle cx="298.0" cy="598.9" r="2.9"/><circle cx="300.1" cy="603.9" r="2.9"/><circle cx="302.2" cy="605.4" r="2.9"/><circle cx="304.3" cy="601.7" r="2.9"/><circle cx="306.4" cy="599.2" r="2.9"/><circle cx="308.5" cy="601.6" r="2.9"/><circle cx="310.6" cy="599.3" r="2.9"/><circle cx="312.7" cy="601.0" r="2.9"/><circle cx="314.8" cy="599.6" r="2.9"/><circle cx="316.9" cy="598.9" r="2.9"/><circle cx="319.0" cy="598.9" r="2.9"/><circle cx="321.1" cy="595.8" r="2.9"/><circle cx="323.2" cy="595.2" r="2.9"/><circle cx="325.3" cy="591.5" r="2.9"/><circle cx="327.4" cy="592.6" r="2.9"/><circle cx="329.5" cy="589.2" r="2.9"/><circle cx="331.6" cy="589.8" r="2.9"/><circle cx="333.7" cy="586.2" r="2.9"/><circle cx="335.8" cy="585.8" r="2.9"/><circle cx="337.9" cy="583.8" r="2.9"/><circle cx="340.0" cy="577.1" r="2.9"/><circle cx="342.1" cy="574.7" r="2.9"/><circle cx="344.2" cy="570.5" r="2.9"/><circle cx="346.3" cy="569.3" r="2.9"/><circle cx="348.4" cy="566.2" r="2.9"/><circle cx="350.5" cy="559.1" r="2.9"/><circle cx="352.6" cy="550.8" r="2.9"/><circle cx="354.7" cy="547.7" r="2.9"/><circle cx="356.8" cy="534.9" r="2.9"/><circle cx="358.9" cy="533.0" r="2.9"/><circle cx="361.0" cy="520.7" r="2.9"/><circle cx="363.1" cy="508.0" r="2.9"/><circle cx="365.2" cy="509.3" r="2.9"/><circle cx="367.3" cy="497.9" r="2.9"/><circle cx="369.4" cy="483.3" r="2.9"/><circle cx="371.5" cy="475.7" r="2.9"/><circle cx="373.6" cy="465.2" r="2.9"/><circle cx="375.7" cy="456.0" r="2.9"/><circle cx="377.8" cy="443.6" r="2.9"/><circle cx="379.9" cy="436.0" r="2.9"/><circle cx="382.0" cy="429.6" r="2.9"/><circle cx="384.1" cy="421.3" r="2.9"/><circle cx="386.2" cy="416.2" r="2.9"/><circle cx="388.3" cy="408.0" r="2.9"/><circle cx="390.4" cy="407.4" r="2.9"/><circle cx="392.5" cy="397.9" r="2.9"/><circle cx="394.6" cy="397.3" r="2.9"/><circle cx="396.7" cy="392.0" r="2.9"/><circle cx="398.8" cy="393.6" r="2.9"/><circle cx="400.9" cy="400.1" r="2.9"/><circle cx="403.0" cy="398.7" r="2.9"/><circle cx="405.1" cy="405.7" r="2.9"/><circle cx="407.2" cy="410.0" r="2.9"/><circle cx="409.3" cy="414.7" r="2.9"/><circle cx="411.4" cy="423.5" r="2.9"/><circle cx="413.5" cy="431.5" r="2.9"/><circle cx="415.6" cy="440.5" r="2.9"/><circle cx="417.7" cy="452.4" r="2.9"/><circle cx="419.8" cy="462.1" r="2.9"/><circle cx="421.9" cy="469.9" r="2.9"/><circle cx="424.0" cy="479.5" r="2.9"/><circle cx="426.1" cy="491.9" r="2.9"/><circle cx="428.2" cy="501.2" r="2.9"/><circle cx="430.3" cy="513.1" r="2.9"/><circle cx="432.4" cy="525.6" r="2.9"/><circle cx="434.5" cy="531.1" r="2.9"/><circle cx="436.6" cy="538.0" r="2.9"/><circle cx="438.7" cy="545.7" r="2.9"/><circle cx="440.8" cy="551.8" r="2.9"/><circle cx="442.9" cy="558.5" r="2.9"/><circle cx="445.0" cy="564.6" r="2.9"/><circle cx="447.1" cy="571.5" r="2.9"/><circle cx="449.2" cy="576.6" r="2.9"/><circle cx="451.3" cy="583.5" r="2.9"/><circle cx="453.4" cy="585.5" r="2.9"/><circle cx="455.5" cy="589.6" r="2.9"/><circle cx="457.6" cy="591.0" r="2.9"/><circle cx="459.7" cy="599.3" r="2.9"/><circle cx="461.8" cy="599.7" r="2.9"/><circle cx="463.9" cy="604.4" r="2.9"/><circle cx="466.0" cy="604.4" r="2.9"/><circle cx="468.1" cy="607.4" r="2.9"/><circle cx="470.2" cy="605.6" r="2.9"/><circle cx="472.3" cy="608.7" r="2.9"/><circle cx="474.4" cy="613.5" r="2.9"/><circle cx="476.5" cy="606.9" r="2.9"/><circle cx="478.6" cy="612.3" r="2.9"/><circle cx="480.7" cy="613.9" r="2.9"/><circle cx="482.8" cy="612.0" r="2.9"/><circle cx="484.9" cy="613.2" r="2.9"/><circle cx="487.0" cy="614.5" r="2.9"/><circle cx="489.1" cy="611.1" r="2.9"/><circle cx="491.2" cy="613.5" r="2.9"/><circle cx="493.3" cy="611.2" r="2.9"/></g>
<path d="M297.0,601.8 L297.2,601.8 L297.5,601.8 L297.7,601.8 L298.0,601.8 L298.2,601.8 L298.5,601.8 L298.7,601.8 L299.0,601.8 L299.2,601.8 L299.5,601.8 L299.7,601.8 L300.0,601.8 L300.2,601.8 L300.5,601.8 L300.7,601.8 L301.0,601.8 L301.2,601.8 L301.5,601.8 L301.7,601.8 L302.0,601.8 L302.2,601.8 L302.5,601.8 L302.7,601.8 L302.9,601.8 L303.2,601.8 L303.4,601.8 L303.7,601.8 L303.9,601.8 L304.2,601.8 L304.4,601.8 L304.7,601.8 L304.9,601.8 L305.2,601.8 L305.4,601.8 L305.7,601.8 L305.9,601.8 L306.2,601.8 L306.4,601.8 L306.7,601.8 L306.9,601.8 L307.2,601.8 L307.4,601.8 L307.7,601.8 L307.9,601.8 L308.2,601.8 L308.4,601.8 L308.6,601.8 L308.9,601.8 L309.1,601.8 L309.4,601.8 L309.6,601.8 L309.9,601.8 L310.1,601.8 L310.4,601.8 L310.6,601.8 L310.9,601.8 L311.1,601.8 L311.4,601.8 L311.6,601.8 L311.9,601.8 L312.1,601.8 L312.4,601.8 L312.6,601.8 L312.9,601.8 L313.1,601.8 L313.4,601.8 L313.6,601.8 L313.9,601.8 L314.1,601.8 L314.3,601.8 L314.6,601.8 L314.8,601.8 L315.1,601.8 L315.3,601.8 L315.6,601.8 L315.8,601.8 L316.1,601.8 L316.3,601.8 L316.6,601.8 L316.8,601.8 L317.1,601.8 L317.3,601.8 L317.6,601.8 L317.8,601.8 L318.1,601.8 L318.3,601.8 L318.6,601.8 L318.8,601.8 L319.1,601.8 L319.3,601.8 L319.6,601.8 L319.8,601.8 L320.0,601.8 L320.3,601.8 L320.5,601.8 L320.8,601.8 L321.0,601.8 L321.3,601.8 L321.5,601.8 L321.8,601.8 L322.0,601.8 L322.3,601.8 L322.5,601.8 L322.8,601.8 L323.0,601.8 L323.3,601.8 L323.5,601.8 L323.8,601.8 L324.0,601.8 L324.3,601.8 L324.5,601.8 L324.8,601.8 L325.0,601.8 L325.3,601.8 L325.5,601.8 L325.7,601.8 L326.0,601.8 L326.2,601.8 L326.5,601.8 L326.7,601.8 L327.0,601.8 L327.2,601.8 L327.5,601.8 L327.7,601.8 L328.0,601.8 L328.2,601.8 L328.5,601.8 L328.7,601.8 L329.0,601.8 L329.2,601.8 L329.5,601.8 L329.7,601.8 L330.0,601.8 L330.2,601.8 L330.5,601.8 L330.7,601.9 L330.9,601.9 L331.2,601.9 L331.4,601.9 L331.7,601.9 L331.9,601.9 L332.2,601.9 L332.4,601.9 L332.7,601.9 L332.9,601.9 L333.2,601.9 L333.4,601.9 L333.7,601.9 L333.9,601.9 L334.2,601.9 L334.4,601.9 L334.7,601.9 L334.9,601.9 L335.2,601.9 L335.4,601.9 L335.7,601.9 L335.9,601.9 L336.2,601.9 L336.4,601.9 L336.6,601.9 L336.9,601.9 L337.1,601.9 L337.4,601.9 L337.6,601.9 L337.9,601.9 L338.1,601.9 L338.4,601.9 L338.6,601.9 L338.9,602.0 L339.1,602.0 L339.4,602.0 L339.6,602.0 L339.9,602.0 L340.1,602.0 L340.4,602.0 L340.6,602.0 L340.9,602.0 L341.1,602.0 L341.4,602.0 L341.6,602.0 L341.9,602.0 L342.1,602.0 L342.3,602.0 L342.6,602.0 L342.8,602.0 L343.1,602.0 L343.3,602.0 L343.6,602.0 L343.8,602.0 L344.1,602.1 L344.3,602.1 L344.6,602.1 L344.8,602.1 L345.1,602.1 L345.3,602.1 L345.6,602.1 L345.8,602.1 L346.1,602.1 L346.3,602.1 L346.6,602.1 L346.8,602.1 L347.1,602.1 L347.3,602.1 L347.6,602.1 L347.8,602.2 L348.0,602.2 L348.3,602.2 L348.5,602.2 L348.8,602.2 L349.0,602.2 L349.3,602.2 L349.5,602.2 L349.8,602.2 L350.0,602.2 L350.3,602.2 L350.5,602.2 L350.8,602.3 L351.0,602.3 L351.3,602.3 L351.5,602.3 L351.8,602.3 L352.0,602.3 L352.3,602.3 L352.5,602.3 L352.8,602.3 L353.0,602.3 L353.3,602.4 L353.5,602.4 L353.7,602.4 L354.0,602.4 L354.2,602.4 L354.5,602.4 L354.7,602.4 L355.0,602.4 L355.2,602.4 L355.5,602.5 L355.7,602.5 L356.0,602.5 L356.2,602.5 L356.5,602.5 L356.7,602.5 L357.0,602.5 L357.2,602.5 L357.5,602.6 L357.7,602.6 L358.0,602.6 L358.2,602.6 L358.5,602.6 L358.7,602.6 L359.0,602.6 L359.2,602.7 L359.4,602.7 L359.7,602.7 L359.9,602.7 L360.2,602.7 L360.4,602.7 L360.7,602.7 L360.9,602.8 L361.2,602.8 L361.4,602.8 L361.7,602.8 L361.9,602.8 L362.2,602.8 L362.4,602.9 L362.7,602.9 L362.9,602.9 L363.2,602.9 L363.4,602.9 L363.7,603.0 L363.9,603.0 L364.2,603.0 L364.4,603.0 L364.7,603.0 L364.9,603.0 L365.1,603.1 L365.4,603.1 L365.6,603.1 L365.9,603.1 L366.1,603.1 L366.4,603.2 L366.6,603.2 L366.9,603.2 L367.1,603.2 L367.4,603.3 L367.6,603.3 L367.9,603.3 L368.1,603.3 L368.4,603.3 L368.6,603.4 L368.9,603.4 L369.1,603.4 L369.4,603.4 L369.6,603.5 L369.9,603.5 L370.1,603.5 L370.4,603.5 L370.6,603.6 L370.8,603.6 L371.1,603.6 L371.3,603.6 L371.6,603.7 L371.8,603.7 L372.1,603.7 L372.3,603.7 L372.6,603.8 L372.8,603.8 L373.1,603.8 L373.3,603.9 L373.6,603.9 L373.8,603.9 L374.1,603.9 L374.3,604.0 L374.6,604.0 L374.8,604.0 L375.1,604.1 L375.3,604.1 L375.6,604.1 L375.8,604.1 L376.1,604.2 L376.3,604.2 L376.5,604.2 L376.8,604.3 L377.0,604.3 L377.3,604.3 L377.5,604.4 L377.8,604.4 L378.0,604.4 L378.3,604.5 L378.5,604.5 L378.8,604.5 L379.0,604.6 L379.3,604.6 L379.5,604.6 L379.8,604.7 L380.0,604.7 L380.3,604.7 L380.5,604.8 L380.8,604.8 L381.0,604.8 L381.3,604.9 L381.5,604.9 L381.8,604.9 L382.0,605.0 L382.2,605.0 L382.5,605.0 L382.7,605.1 L383.0,605.1 L383.2,605.2 L383.5,605.2 L383.7,605.2 L384.0,605.3 L384.2,605.3 L384.5,605.3 L384.7,605.4 L385.0,605.4 L385.2,605.5 L385.5,605.5 L385.7,605.5 L386.0,605.6 L386.2,605.6 L386.5,605.7 L386.7,605.7 L387.0,605.7 L387.2,605.8 L387.5,605.8 L387.7,605.9 L387.9,605.9 L388.2,605.9 L388.4,606.0 L388.7,606.0 L388.9,606.1 L389.2,606.1 L389.4,606.1 L389.7,606.2 L389.9,606.2 L390.2,606.3 L390.4,606.3 L390.7,606.4 L390.9,606.4 L391.2,606.4 L391.4,606.5 L391.7,606.5 L391.9,606.6 L392.2,606.6 L392.4,606.7 L392.7,606.7 L392.9,606.7 L393.2,606.8 L393.4,606.8 L393.6,606.9 L393.9,606.9 L394.1,607.0 L394.4,607.0 L394.6,607.0 L394.9,607.1 L395.1,607.1 L395.4,607.2 L395.6,607.2 L395.9,607.3 L396.1,607.3 L396.4,607.4 L396.6,607.4 L396.9,607.4 L397.1,607.5 L397.4,607.5 L397.6,607.6 L397.9,607.6 L398.1,607.7 L398.4,607.7 L398.6,607.7 L398.8,607.8 L399.1,607.8 L399.3,607.9 L399.6,607.9 L399.8,608.0 L400.1,608.0 L400.3,608.1 L400.6,608.1 L400.8,608.1 L401.1,608.2 L401.3,608.2 L401.6,608.3 L401.8,608.3 L402.1,608.4 L402.3,608.4 L402.6,608.5 L402.8,608.5 L403.1,608.5 L403.3,608.6 L403.6,608.6 L403.8,608.7 L404.1,608.7 L404.3,608.8 L404.5,608.8 L404.8,608.8 L405.0,608.9 L405.3,608.9 L405.5,609.0 L405.8,609.0 L406.0,609.1 L406.3,609.1 L406.5,609.1 L406.8,609.2 L407.0,609.2 L407.3,609.3 L407.5,609.3 L407.8,609.4 L408.0,609.4 L408.3,609.4 L408.5,609.5 L408.8,609.5 L409.0,609.6 L409.3,609.6 L409.5,609.6 L409.8,609.7 L410.0,609.7 L410.2,609.8 L410.5,609.8 L410.7,609.8 L411.0,609.9 L411.2,609.9 L411.5,610.0 L411.7,610.0 L412.0,610.0 L412.2,610.1 L412.5,610.1 L412.7,610.2 L413.0,610.2 L413.2,610.2 L413.5,610.3 L413.7,610.3 L414.0,610.3 L414.2,610.4 L414.5,610.4 L414.7,610.5 L415.0,610.5 L415.2,610.5 L415.5,610.6 L415.7,610.6 L415.9,610.6 L416.2,610.7 L416.4,610.7 L416.7,610.7 L416.9,610.8 L417.2,610.8 L417.4,610.8 L417.7,610.9 L417.9,610.9 L418.2,610.9 L418.4,611.0 L418.7,611.0 L418.9,611.0 L419.2,611.1 L419.4,611.1 L419.7,611.1 L419.9,611.2 L420.2,611.2 L420.4,611.2 L420.7,611.3 L420.9,611.3 L421.2,611.3 L421.4,611.4 L421.6,611.4 L421.9,611.4 L422.1,611.5 L422.4,611.5 L422.6,611.5 L422.9,611.5 L423.1,611.6 L423.4,611.6 L423.6,611.6 L423.9,611.7 L424.1,611.7 L424.4,611.7 L424.6,611.7 L424.9,611.8 L425.1,611.8 L425.4,611.8 L425.6,611.8 L425.9,611.9 L426.1,611.9 L426.4,611.9 L426.6,611.9 L426.9,612.0 L427.1,612.0 L427.3,612.0 L427.6,612.0 L427.8,612.1 L428.1,612.1 L428.3,612.1 L428.6,612.1 L428.8,612.2 L429.1,612.2 L429.3,612.2 L429.6,612.2 L429.8,612.3 L430.1,612.3 L430.3,612.3 L430.6,612.3 L430.8,612.3 L431.1,612.4 L431.3,612.4 L431.6,612.4 L431.8,612.4 L432.1,612.4 L432.3,612.5 L432.6,612.5 L432.8,612.5 L433.0,612.5 L433.3,612.5 L433.5,612.6 L433.8,612.6 L434.0,612.6 L434.3,612.6 L434.5,612.6 L434.8,612.7 L435.0,612.7 L435.3,612.7 L435.5,612.7 L435.8,612.7 L436.0,612.7 L436.3,612.8 L436.5,612.8 L436.8,612.8 L437.0,612.8 L437.3,612.8 L437.5,612.8 L437.8,612.9 L438.0,612.9 L438.3,612.9 L438.5,612.9 L438.7,612.9 L439.0,612.9 L439.2,612.9 L439.5,613.0 L439.7,613.0 L440.0,613.0 L440.2,613.0 L440.5,613.0 L440.7,613.0 L441.0,613.0 L441.2,613.0 L441.5,613.1 L441.7,613.1 L442.0,613.1 L442.2,613.1 L442.5,613.1 L442.7,613.1 L443.0,613.1 L443.2,613.1 L443.5,613.2 L443.7,613.2 L444.0,613.2 L444.2,613.2 L444.4,613.2 L444.7,613.2 L444.9,613.2 L445.2,613.2 L445.4,613.2 L445.7,613.3 L445.9,613.3 L446.2,613.3 L446.4,613.3 L446.7,613.3 L446.9,613.3 L447.2,613.3 L447.4,613.3 L447.7,613.3 L447.9,613.3 L448.2,613.3 L448.4,613.3 L448.7,613.4 L448.9,613.4 L449.2,613.4 L449.4,613.4 L449.7,613.4 L449.9,613.4 L450.1,613.4 L450.4,613.4 L450.6,613.4 L450.9,613.4 L451.1,613.4 L451.4,613.4 L451.6,613.4 L451.9,613.5 L452.1,613.5 L452.4,613.5 L452.6,613.5 L452.9,613.5 L453.1,613.5 L453.4,613.5 L453.6,613.5 L453.9,613.5 L454.1,613.5 L454.4,613.5 L454.6,613.5 L454.9,613.5 L455.1,613.5 L455.4,613.5 L455.6,613.5 L455.8,613.5 L456.1,613.6 L456.3,613.6 L456.6,613.6 L456.8,613.6 L457.1,613.6 L457.3,613.6 L457.6,613.6 L457.8,613.6 L458.1,613.6 L458.3,613.6 L458.6,613.6 L458.8,613.6 L459.1,613.6 L459.3,613.6 L459.6,613.6 L459.8,613.6 L460.1,613.6 L460.3,613.6 L460.6,613.6 L460.8,613.6 L461.1,613.6 L461.3,613.6 L461.5,613.6 L461.8,613.6 L462.0,613.6 L462.3,613.7 L462.5,613.7 L462.8,613.7 L463.0,613.7 L463.3,613.7 L463.5,613.7 L463.8,613.7 L464.0,613.7 L464.3,613.7 L464.5,613.7 L464.8,613.7 L465.0,613.7 L465.3,613.7 L465.5,613.7 L465.8,613.7 L466.0,613.7 L466.3,613.7 L466.5,613.7 L466.7,613.7 L467.0,613.7 L467.2,613.7 L467.5,613.7 L467.7,613.7 L468.0,613.7 L468.2,613.7 L468.5,613.7 L468.7,613.7 L469.0,613.7 L469.2,613.7 L469.5,613.7 L469.7,613.7 L470.0,613.7 L470.2,613.7 L470.5,613.7 L470.7,613.7 L471.0,613.7 L471.2,613.7 L471.5,613.7 L471.7,613.7 L472.0,613.7 L472.2,613.7 L472.4,613.7 L472.7,613.7 L472.9,613.7 L473.2,613.7 L473.4,613.7 L473.7,613.7 L473.9,613.7 L474.2,613.7 L474.4,613.8 L474.7,613.8 L474.9,613.8 L475.2,613.8 L475.4,613.8 L475.7,613.8 L475.9,613.8 L476.2,613.8 L476.4,613.8 L476.7,613.8 L476.9,613.8 L477.2,613.8 L477.4,613.8 L477.7,613.8 L477.9,613.8 L478.1,613.8 L478.4,613.8 L478.6,613.8 L478.9,613.8 L479.1,613.8 L479.4,613.8 L479.6,613.8 L479.9,613.8 L480.1,613.8 L480.4,613.8 L480.6,613.8 L480.9,613.8 L481.1,613.8 L481.4,613.8 L481.6,613.8 L481.9,613.8 L482.1,613.8 L482.4,613.8 L482.6,613.8 L482.9,613.8 L483.1,613.8 L483.4,613.8 L483.6,613.8 L483.8,613.8 L484.1,613.8 L484.3,613.8 L484.6,613.8 L484.8,613.8 L485.1,613.8 L485.3,613.8 L485.6,613.8 L485.8,613.8 L486.1,613.8 L486.3,613.8 L486.6,613.8 L486.8,613.8 L487.1,613.8 L487.3,613.8 L487.6,613.8 L487.8,613.8 L488.1,613.8 L488.3,613.8 L488.6,613.8 L488.8,613.8 L489.1,613.8 L489.3,613.8 L489.5,613.8 L489.8,613.8 L490.0,613.8 L490.3,613.8 L490.5,613.8 L490.8,613.8 L491.0,613.8 L491.3,613.8 L491.5,613.8 L491.8,613.8 L492.0,613.8 L492.3,613.8 L492.5,613.8 L492.8,613.8 L493.0,613.8 L493.3,613.8 L493.5,613.8 L493.8,613.8 L494.0,613.8 L494.3,613.8 L494.5,613.8 L494.8,613.8 L495.0,613.8" stroke="#74742c" stroke-width="2" fill="none"/>
<path d="M297.0,601.3 L297.2,601.3 L297.5,601.3 L297.7,601.3 L298.0,601.3 L298.2,601.3 L298.5,601.3 L298.7,601.2 L299.0,601.2 L299.2,601.2 L299.5,601.2 L299.7,601.2 L300.0,601.2 L300.2,601.2 L300.5,601.1 L300.7,601.1 L301.0,601.1 L301.2,601.1 L301.5,601.1 L301.7,601.0 L302.0,601.0 L302.2,601.0 L302.5,601.0 L302.7,601.0 L302.9,600.9 L303.2,600.9 L303.4,600.9 L303.7,600.9 L303.9,600.9 L304.2,600.8 L304.4,600.8 L304.7,600.8 L304.9,600.8 L305.2,600.7 L305.4,600.7 L305.7,600.7 L305.9,600.7 L306.2,600.6 L306.4,600.6 L306.7,600.6 L306.9,600.5 L307.2,600.5 L307.4,600.5 L307.7,600.5 L307.9,600.4 L308.2,600.4 L308.4,600.4 L308.6,600.3 L308.9,600.3 L309.1,600.2 L309.4,600.2 L309.6,600.2 L309.9,600.1 L310.1,600.1 L310.4,600.0 L310.6,600.0 L310.9,600.0 L311.1,599.9 L311.4,599.9 L311.6,599.8 L311.9,599.8 L312.1,599.7 L312.4,599.7 L312.6,599.6 L312.9,599.6 L313.1,599.5 L313.4,599.5 L313.6,599.4 L313.9,599.4 L314.1,599.3 L314.3,599.3 L314.6,599.2 L314.8,599.1 L315.1,599.1 L315.3,599.0 L315.6,599.0 L315.8,598.9 L316.1,598.8 L316.3,598.8 L316.6,598.7 L316.8,598.6 L317.1,598.5 L317.3,598.5 L317.6,598.4 L317.8,598.3 L318.1,598.2 L318.3,598.2 L318.6,598.1 L318.8,598.0 L319.1,597.9 L319.3,597.8 L319.6,597.7 L319.8,597.6 L320.0,597.6 L320.3,597.5 L320.5,597.4 L320.8,597.3 L321.0,597.2 L321.3,597.1 L321.5,597.0 L321.8,596.9 L322.0,596.8 L322.3,596.6 L322.5,596.5 L322.8,596.4 L323.0,596.3 L323.3,596.2 L323.5,596.1 L323.8,595.9 L324.0,595.8 L324.3,595.7 L324.5,595.6 L324.8,595.4 L325.0,595.3 L325.3,595.2 L325.5,595.0 L325.7,594.9 L326.0,594.7 L326.2,594.6 L326.5,594.4 L326.7,594.3 L327.0,594.1 L327.2,594.0 L327.5,593.8 L327.7,593.6 L328.0,593.5 L328.2,593.3 L328.5,593.1 L328.7,592.9 L329.0,592.8 L329.2,592.6 L329.5,592.4 L329.7,592.2 L330.0,592.0 L330.2,591.8 L330.5,591.6 L330.7,591.4 L330.9,591.2 L331.2,591.0 L331.4,590.8 L331.7,590.6 L331.9,590.3 L332.2,590.1 L332.4,589.9 L332.7,589.6 L332.9,589.4 L333.2,589.2 L333.4,588.9 L333.7,588.7 L333.9,588.4 L334.2,588.2 L334.4,587.9 L334.7,587.6 L334.9,587.4 L335.2,587.1 L335.4,586.8 L335.7,586.5 L335.9,586.2 L336.2,585.9 L336.4,585.6 L336.6,585.3 L336.9,585.0 L337.1,584.7 L337.4,584.4 L337.6,584.1 L337.9,583.7 L338.1,583.4 L338.4,583.1 L338.6,582.7 L338.9,582.4 L339.1,582.0 L339.4,581.7 L339.6,581.3 L339.9,580.9 L340.1,580.6 L340.4,580.2 L340.6,579.8 L340.9,579.4 L341.1,579.0 L341.4,578.6 L341.6,578.2 L341.9,577.8 L342.1,577.3 L342.3,576.9 L342.6,576.5 L342.8,576.0 L343.1,575.6 L343.3,575.1 L343.6,574.7 L343.8,574.2 L344.1,573.7 L344.3,573.3 L344.6,572.8 L344.8,572.3 L345.1,571.8 L345.3,571.3 L345.6,570.8 L345.8,570.2 L346.1,569.7 L346.3,569.2 L346.6,568.6 L346.8,568.1 L347.1,567.5 L347.3,567.0 L347.6,566.4 L347.8,565.8 L348.0,565.3 L348.3,564.7 L348.5,564.1 L348.8,563.5 L349.0,562.9 L349.3,562.2 L349.5,561.6 L349.8,561.0 L350.0,560.3 L350.3,559.7 L350.5,559.0 L350.8,558.4 L351.0,557.7 L351.3,557.0 L351.5,556.3 L351.8,555.6 L352.0,554.9 L352.3,554.2 L352.5,553.5 L352.8,552.8 L353.0,552.1 L353.3,551.3 L353.5,550.6 L353.7,549.8 L354.0,549.0 L354.2,548.3 L354.5,547.5 L354.7,546.7 L355.0,545.9 L355.2,545.1 L355.5,544.3 L355.7,543.5 L356.0,542.7 L356.2,541.8 L356.5,541.0 L356.7,540.1 L357.0,539.3 L357.2,538.4 L357.5,537.6 L357.7,536.7 L358.0,535.8 L358.2,534.9 L358.5,534.0 L358.7,533.1 L359.0,532.2 L359.2,531.3 L359.4,530.3 L359.7,529.4 L359.9,528.4 L360.2,527.5 L360.4,526.5 L360.7,525.6 L360.9,524.6 L361.2,523.6 L361.4,522.6 L361.7,521.7 L361.9,520.7 L362.2,519.6 L362.4,518.6 L362.7,517.6 L362.9,516.6 L363.2,515.6 L363.4,514.5 L363.7,513.5 L363.9,512.4 L364.2,511.4 L364.4,510.3 L364.7,509.3 L364.9,508.2 L365.1,507.1 L365.4,506.0 L365.6,505.0 L365.9,503.9 L366.1,502.8 L366.4,501.7 L366.6,500.6 L366.9,499.5 L367.1,498.3 L367.4,497.2 L367.6,496.1 L367.9,495.0 L368.1,493.9 L368.4,492.7 L368.6,491.6 L368.9,490.5 L369.1,489.3 L369.4,488.2 L369.6,487.0 L369.9,485.9 L370.1,484.7 L370.4,483.6 L370.6,482.4 L370.8,481.3 L371.1,480.1 L371.3,479.0 L371.6,477.8 L371.8,476.6 L372.1,475.5 L372.3,474.3 L372.6,473.2 L372.8,472.0 L373.1,470.8 L373.3,469.7 L373.6,468.5 L373.8,467.4 L374.1,466.2 L374.3,465.0 L374.6,463.9 L374.8,462.7 L375.1,461.6 L375.3,460.4 L375.6,459.3 L375.8,458.1 L376.1,457.0 L376.3,455.9 L376.5,454.7 L376.8,453.6 L377.0,452.5 L377.3,451.3 L377.5,450.2 L377.8,449.1 L378.0,448.0 L378.3,446.9 L378.5,445.8 L378.8,444.7 L379.0,443.6 L379.3,442.5 L379.5,441.5 L379.8,440.4 L380.0,439.3 L380.3,438.3 L380.5,437.2 L380.8,436.2 L381.0,435.2 L381.3,434.1 L381.5,433.1 L381.8,432.1 L382.0,431.1 L382.2,430.1 L382.5,429.2 L382.7,428.2 L383.0,427.2 L383.2,426.3 L383.5,425.3 L383.7,424.4 L384.0,423.5 L384.2,422.6 L384.5,421.7 L384.7,420.8 L385.0,419.9 L385.2,419.1 L385.5,418.2 L385.7,417.4 L386.0,416.6 L386.2,415.8 L386.5,415.0 L386.7,414.2 L387.0,413.4 L387.2,412.7 L387.5,411.9 L387.7,411.2 L387.9,410.5 L388.2,409.8 L388.4,409.1 L388.7,408.4 L388.9,407.8 L389.2,407.1 L389.4,406.5 L389.7,405.9 L389.9,405.3 L390.2,404.7 L390.4,404.2 L390.7,403.6 L390.9,403.1 L391.2,402.6 L391.4,402.1 L391.7,401.6 L391.9,401.2 L392.2,400.7 L392.4,400.3 L392.7,399.9 L392.9,399.5 L393.2,399.2 L393.4,398.8 L393.6,398.5 L393.9,398.1 L394.1,397.8 L394.4,397.6 L394.6,397.3 L394.9,397.1 L395.1,396.8 L395.4,396.6 L395.6,396.4 L395.9,396.3 L396.1,396.1 L396.4,396.0 L396.6,395.9 L396.9,395.8 L397.1,395.7 L397.4,395.7 L397.6,395.6 L397.9,395.6 L398.1,395.6 L398.4,395.6 L398.6,395.7 L398.8,395.7 L399.1,395.8 L399.3,395.9 L399.6,396.0 L399.8,396.2 L400.1,396.3 L400.3,396.5 L400.6,396.7 L400.8,396.9 L401.1,397.1 L401.3,397.4 L401.6,397.6 L401.8,397.9 L402.1,398.2 L402.3,398.5 L402.6,398.9 L402.8,399.2 L403.1,399.6 L403.3,400.0 L403.6,400.4 L403.8,400.9 L404.1,401.3 L404.3,401.8 L404.5,402.3 L404.8,402.8 L405.0,403.3 L405.3,403.8 L405.5,404.4 L405.8,404.9 L406.0,405.5 L406.3,406.1 L406.5,406.7 L406.8,407.4 L407.0,408.0 L407.3,408.7 L407.5,409.4 L407.8,410.1 L408.0,410.8 L408.3,411.5 L408.5,412.2 L408.8,413.0 L409.0,413.8 L409.3,414.5 L409.5,415.3 L409.8,416.2 L410.0,417.0 L410.2,417.8 L410.5,418.7 L410.7,419.5 L411.0,420.4 L411.2,421.3 L411.5,422.2 L411.7,423.1 L412.0,424.1 L412.2,425.0 L412.5,425.9 L412.7,426.9 L413.0,427.9 L413.2,428.9 L413.5,429.9 L413.7,430.9 L414.0,431.9 L414.2,432.9 L414.5,433.9 L414.7,435.0 L415.0,436.0 L415.2,437.1 L415.5,438.2 L415.7,439.2 L415.9,440.3 L416.2,441.4 L416.4,442.5 L416.7,443.6 L416.9,444.7 L417.2,445.8 L417.4,447.0 L417.7,448.1 L417.9,449.2 L418.2,450.4 L418.4,451.5 L418.7,452.7 L418.9,453.8 L419.2,455.0 L419.4,456.2 L419.7,457.4 L419.9,458.5 L420.2,459.7 L420.4,460.9 L420.7,462.1 L420.9,463.3 L421.2,464.5 L421.4,465.7 L421.6,466.9 L421.9,468.1 L422.1,469.3 L422.4,470.5 L422.6,471.7 L422.9,472.9 L423.1,474.1 L423.4,475.3 L423.6,476.5 L423.9,477.7 L424.1,478.9 L424.4,480.1 L424.6,481.3 L424.9,482.5 L425.1,483.7 L425.4,484.9 L425.6,486.1 L425.9,487.3 L426.1,488.5 L426.4,489.7 L426.6,490.9 L426.9,492.1 L427.1,493.3 L427.3,494.5 L427.6,495.7 L427.8,496.9 L428.1,498.1 L428.3,499.2 L428.6,500.4 L428.8,501.6 L429.1,502.7 L429.3,503.9 L429.6,505.1 L429.8,506.2 L430.1,507.4 L430.3,508.5 L430.6,509.7 L430.8,510.8 L431.1,511.9 L431.3,513.0 L431.6,514.2 L431.8,515.3 L432.1,516.4 L432.3,517.5 L432.6,518.6 L432.8,519.7 L433.0,520.8 L433.3,521.9 L433.5,522.9 L433.8,524.0 L434.0,525.1 L434.3,526.1 L434.5,527.2 L434.8,528.2 L435.0,529.2 L435.3,530.3 L435.5,531.3 L435.8,532.3 L436.0,533.3 L436.3,534.3 L436.5,535.3 L436.8,536.3 L437.0,537.3 L437.3,538.3 L437.5,539.2 L437.8,540.2 L438.0,541.1 L438.3,542.1 L438.5,543.0 L438.7,543.9 L439.0,544.9 L439.2,545.8 L439.5,546.7 L439.7,547.6 L440.0,548.5 L440.2,549.3 L440.5,550.2 L440.7,551.1 L441.0,551.9 L441.2,552.8 L441.5,553.6 L441.7,554.5 L442.0,555.3 L442.2,556.1 L442.5,556.9 L442.7,557.7 L443.0,558.5 L443.2,559.3 L443.5,560.1 L443.7,560.9 L444.0,561.6 L444.2,562.4 L444.4,563.1 L444.7,563.9 L444.9,564.6 L445.2,565.3 L445.4,566.1 L445.7,566.8 L445.9,567.5 L446.2,568.2 L446.4,568.8 L446.7,569.5 L446.9,570.2 L447.2,570.9 L447.4,571.5 L447.7,572.2 L447.9,572.8 L448.2,573.4 L448.4,574.1 L448.7,574.7 L448.9,575.3 L449.2,575.9 L449.4,576.5 L449.7,577.1 L449.9,577.7 L450.1,578.2 L450.4,578.8 L450.6,579.4 L450.9,579.9 L451.1,580.5 L451.4,581.0 L451.6,581.5 L451.9,582.1 L452.1,582.6 L452.4,583.1 L452.6,583.6 L452.9,584.1 L453.1,584.6 L453.4,585.1 L453.6,585.5 L453.9,586.0 L454.1,586.5 L454.4,586.9 L454.6,587.4 L454.9,587.8 L455.1,588.3 L455.4,588.7 L455.6,589.2 L455.8,589.6 L456.1,590.0 L456.3,590.4 L456.6,590.8 L456.8,591.2 L457.1,591.6 L457.3,592.0 L457.6,592.4 L457.8,592.7 L458.1,593.1 L458.3,593.5 L458.6,593.8 L458.8,594.2 L459.1,594.5 L459.3,594.9 L459.6,595.2 L459.8,595.6 L460.1,595.9 L460.3,596.2 L460.6,596.5 L460.8,596.8 L461.1,597.2 L461.3,597.5 L461.5,597.8 L461.8,598.1 L462.0,598.3 L462.3,598.6 L462.5,598.9 L462.8,599.2 L463.0,599.5 L463.3,599.7 L463.5,600.0 L463.8,600.3 L464.0,600.5 L464.3,600.8 L464.5,601.0 L464.8,601.2 L465.0,601.5 L465.3,601.7 L465.5,602.0 L465.8,602.2 L466.0,602.4 L466.3,602.6 L466.5,602.8 L466.7,603.1 L467.0,603.3 L467.2,603.5 L467.5,603.7 L467.7,603.9 L468.0,604.1 L468.2,604.3 L468.5,604.4 L468.7,604.6 L469.0,604.8 L469.2,605.0 L469.5,605.2 L469.7,605.3 L470.0,605.5 L470.2,605.7 L470.5,605.8 L470.7,606.0 L471.0,606.2 L471.2,606.3 L471.5,606.5 L471.7,606.6 L472.0,606.8 L472.2,606.9 L472.4,607.0 L472.7,607.2 L472.9,607.3 L473.2,607.5 L473.4,607.6 L473.7,607.7 L473.9,607.8 L474.2,608.0 L474.4,608.1 L474.7,608.2 L474.9,608.3 L475.2,608.4 L475.4,608.6 L475.7,608.7 L475.9,608.8 L476.2,608.9 L476.4,609.0 L476.7,609.1 L476.9,609.2 L477.2,609.3 L477.4,609.4 L477.7,609.5 L477.9,609.6 L478.1,609.7 L478.4,609.8 L478.6,609.8 L478.9,609.9 L479.1,610.0 L479.4,610.1 L479.6,610.2 L479.9,610.3 L480.1,610.3 L480.4,610.4 L480.6,610.5 L480.9,610.6 L481.1,610.6 L481.4,610.7 L481.6,610.8 L481.9,610.8 L482.1,610.9 L482.4,611.0 L482.6,611.0 L482.9,611.1 L483.1,611.2 L483.4,611.2 L483.6,611.3 L483.8,611.3 L484.1,611.4 L484.3,611.5 L484.6,611.5 L484.8,611.6 L485.1,611.6 L485.3,611.7 L485.6,611.7 L485.8,611.8 L486.1,611.8 L486.3,611.9 L486.6,611.9 L486.8,611.9 L487.1,612.0 L487.3,612.0 L487.6,612.1 L487.8,612.1 L488.1,612.2 L488.3,612.2 L488.6,612.2 L488.8,612.3 L489.1,612.3 L489.3,612.3 L489.5,612.4 L489.8,612.4 L490.0,612.4 L490.3,612.5 L490.5,612.5 L490.8,612.5 L491.0,612.6 L491.3,612.6 L491.5,612.6 L491.8,612.7 L492.0,612.7 L492.3,612.7 L492.5,612.7 L492.8,612.8 L493.0,612.8 L493.3,612.8 L493.5,612.8 L493.8,612.9 L494.0,612.9 L494.3,612.9 L494.5,612.9 L494.8,613.0 L495.0,613.0" stroke="#d21c1c" stroke-width="2.2" fill="none"/>
</g>
<rect x="297" y="342.5" width="198" height="277.5" fill="none" stroke="#000" stroke-width="2"/>
<path d="M297.0,619 V614.8 M346.5,619 V614.8 M396.0,619 V614.8 M445.5,619 V614.8 M495.0,619 V614.8 " stroke="#000" stroke-width="1.8" fill="none"/>
<path d="M303.2,619 V617.2 M309.4,619 V617.2 M315.6,619 V617.2 M321.8,619 V617.2 M327.9,619 V617.2 M334.1,619 V617.2 M340.3,619 V617.2 M352.7,619 V617.2 M358.9,619 V617.2 M365.1,619 V617.2 M371.2,619 V617.2 M377.4,619 V617.2 M383.6,619 V617.2 M389.8,619 V617.2 M402.2,619 V617.2 M408.4,619 V617.2 M414.6,619 V617.2 M420.8,619 V617.2 M426.9,619 V617.2 M433.1,619 V617.2 M439.3,619 V617.2 M451.7,619 V617.2 M457.9,619 V617.2 M464.1,619 V617.2 M470.2,619 V617.2 M476.4,619 V617.2 M482.6,619 V617.2 M488.8,619 V617.2 " stroke="#000" stroke-width="1.2" fill="none"/>
<text x="288.12" y="640.8" font-size="16">31</text>
<text x="337.20" y="640.8" font-size="16">30</text>
<text x="387.00" y="640.8" font-size="16">29</text>
<text x="436.94" y="640.8" font-size="16">28</text>
<text x="485.88" y="640.8" font-size="16">27</text>
<text x="309.74" y="663.4" font-size="18.5" textLength="171.91" lengthAdjust="spacingAndGlyphs">Binding Energy (eV)</text>
<text transform="translate(275.9,555.02) rotate(-90)" font-size="19.4" textLength="124.03" lengthAdjust="spacingAndGlyphs">Intensity (a.u.)</text>
<text x="302.81" y="361.2" font-size="16" textLength="167.80" lengthAdjust="spacingAndGlyphs">(c) Thin Ge on GaAs</text>
<line x1="305.5" y1="376.8" x2="315.5" y2="376.8" stroke="#222" stroke-width="1.5"/>
<line x1="324.5" y1="376.8" x2="335.9" y2="376.8" stroke="#222" stroke-width="1.5"/>
<circle cx="320" cy="376.8" r="3.5" fill="#fff" stroke="#222" stroke-width="1.3"/>
<line x1="305.7" y1="394.3" x2="335.5" y2="394.3" stroke="#d21c1c" stroke-width="2"/>
<line x1="305.7" y1="414.1" x2="335.5" y2="414.1" stroke="#74742c" stroke-width="2"/>
<text x="338.55" y="381.2" font-size="13" textLength="60.36" lengthAdjust="spacing">Measured</text>
<text x="338.55" y="399.2" font-size="13" textLength="35.16" lengthAdjust="spacing">Fitted</text>
<text x="338.55" y="417.3" font-size="13" textLength="19.96" lengthAdjust="spacing">BG</text>
<text x="372.46" y="540.4" font-size="13.8" textLength="31.10" lengthAdjust="spacingAndGlyphs">Ge3d</text>
<text x="372.58" y="558.5" font-size="13.8" textLength="46.73" lengthAdjust="spacingAndGlyphs">28.96eV</text>
</g></svg>
</body></html>
